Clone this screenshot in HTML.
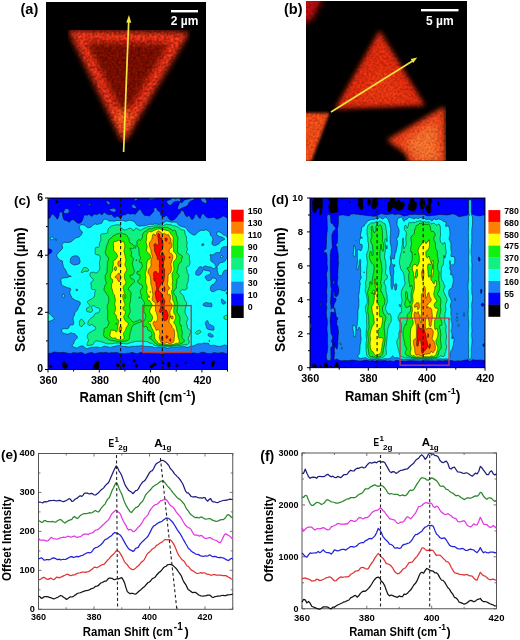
<!DOCTYPE html>
<html><head><meta charset="utf-8"><title>Raman mapping figure</title>
<style>html,body{margin:0;padding:0;background:#fff;width:520px;height:640px;overflow:hidden}svg{display:block}</style>
</head><body>
<svg width="520" height="640" viewBox="0 0 520 640">
<defs>
<filter id="blur2" x="-20%" y="-20%" width="140%" height="140%"><feGaussianBlur stdDeviation="1.6"/></filter>
<filter id="blur4" x="-30%" y="-30%" width="160%" height="160%"><feGaussianBlur stdDeviation="4"/></filter>
<filter id="blur25" x="-20%" y="-20%" width="140%" height="140%"><feGaussianBlur stdDeviation="2.4"/></filter>
<filter id="blur3" x="-30%" y="-30%" width="160%" height="160%"><feGaussianBlur stdDeviation="3.2"/></filter>
<filter id="speck" x="0" y="0" width="100%" height="100%" color-interpolation-filters="sRGB"><feTurbulence type="fractalNoise" baseFrequency="0.42" numOctaves="1" seed="4" result="t"/><feColorMatrix in="t" type="matrix" values="1 0 0 0 0  1 0 0 0 0  1 0 0 0 0  0 0 0 0 1" result="g"/><feComposite in="SourceGraphic" in2="g" operator="arithmetic" k1="1.1" k2="0.45" k3="0" k4="0"/></filter>
<filter id="speck2" x="0" y="0" width="100%" height="100%" color-interpolation-filters="sRGB"><feTurbulence type="fractalNoise" baseFrequency="0.45" numOctaves="1" seed="7" result="t"/><feColorMatrix in="t" type="matrix" values="1 0 0 0 0  1 0 0 0 0  1 0 0 0 0  0 0 0 0 1" result="g"/><feComposite in="SourceGraphic" in2="g" operator="arithmetic" k1="0.7" k2="0.65" k3="0" k4="0"/></filter>
</defs>
<rect width="520" height="640" fill="#fff"/>
<g id="pa">
<rect x="46" y="2" width="160" height="159" fill="#000"/>
<clipPath id="cpa"><rect x="46" y="2" width="160" height="159"/></clipPath>
<g clip-path="url(#cpa)">
<g filter="url(#speck)">
<polygon points="68,30 189.5,32 123.5,143" fill="#e03218" filter="url(#blur3)"/>
<polygon points="85.9,41.8 169.8,43.2 124.4,119.1" fill="#740a06" filter="url(#blur3)"/>
<polygon points="115,110 133,110 124,137" fill="#f86a22" opacity="0.8" filter="url(#blur4)"/>
</g>
</g>
<line x1="123.6" y1="152" x2="128.7" y2="21" stroke="#f4e43e" stroke-width="1.7"/>
<polygon points="128.95,15 126.3,22.5 131.3,22.7" fill="#f4e43e"/>
<rect x="171" y="10" width="27" height="2.4" fill="#fff"/>
<text x="184.6" y="24.8" font-family="Liberation Sans, Arial, sans-serif" font-weight="bold" font-size="12" fill="#fff" text-anchor="middle">2 µm</text>
</g>
<g id="pb">
<rect x="306" y="1" width="161" height="160" fill="#000"/>
<clipPath id="cpb"><rect x="306" y="1" width="160.5" height="159.8"/></clipPath>
<g clip-path="url(#cpb)">
<g filter="url(#speck2)">
<polygon points="300,-5 324,-5 312,20 300,24" fill="#b41008" filter="url(#blur3)"/>
<polygon points="379.6,30.4 335,108.9 425,105.5" fill="#d82a0e" filter="url(#blur25)"/>
<polygon points="380,66 356,102 410,100" fill="#ec4414" opacity="0.4" filter="url(#blur4)"/>
<polygon points="300,113 329.4,112.9 310,165 300,165" fill="#e84a18" filter="url(#blur2)"/>
<polygon points="441.4,108 386.9,140 406,153.8 409.4,165 446,165 445,108" fill="#e23a14" filter="url(#blur25)"/>
<polygon points="436,120 404,142 418,162 440,162" fill="#f27a30" opacity="0.8" filter="url(#blur4)"/>
</g>
</g>
<line x1="331" y1="112" x2="412.5" y2="61" stroke="#f4e43e" stroke-width="1.6"/>
<polygon points="417.2,57.6 410.6,58.9 413.2,63.1" fill="#f4e43e"/>
<rect x="421" y="9" width="37.5" height="2.4" fill="#fff"/>
<text x="439.8" y="24.6" font-family="Liberation Sans, Arial, sans-serif" font-weight="bold" font-size="12" fill="#fff" text-anchor="middle">5 µm</text>
</g>
<text x="20.5" y="14.2" font-family="Liberation Sans, Arial, sans-serif" font-weight="bold" font-size="14.5" fill="#000">(a)</text>
<text x="284" y="13.8" font-family="Liberation Sans, Arial, sans-serif" font-weight="bold" font-size="14.5" fill="#000">(b)</text>
<g id="pc">
<clipPath id="cpc"><rect x="48.0" y="198.0" width="179.5" height="171.5"/></clipPath>
<g clip-path="url(#cpc)">
<rect x="48.0" y="198.0" width="179.5" height="171.5" fill="#000000"/>
<path d="M49.0 198.0L50.0 198.0L51.0 198.0L52.0 198.0L53.0 198.0L54.0 198.0L55.0 198.0L56.0 198.0L57.0 198.0L58.0 198.0L59.0 198.0L60.0 198.0L61.0 198.0L62.0 198.0L63.0 198.0L64.0 198.0L65.0 198.0L66.1 198.0L67.1 198.0L68.1 198.0L69.1 198.0L70.1 198.0L71.1 198.0L72.1 198.0L73.1 198.0L74.1 198.0L75.1 198.0L76.1 198.0L77.1 198.0L78.1 198.0L79.1 198.0L80.1 198.0L81.1 198.0L82.1 198.0L83.1 198.0L84.1 198.0L85.1 198.0L86.1 198.0L87.1 198.0L88.1 198.0L89.1 198.0L90.1 198.0L91.1 198.0L92.1 198.0L93.1 198.0L94.1 198.0L95.1 198.0L96.1 198.0L97.1 198.0L98.1 198.0L99.1 198.0L100.1 198.0L101.1 198.0L102.2 198.0L103.2 198.0L104.2 198.0L105.2 198.0L106.2 198.0L107.2 198.0L108.2 198.0L109.2 198.0L110.2 198.0L111.2 198.0L112.2 198.0L113.2 198.0L114.2 198.0L115.2 198.0L116.2 198.0L117.2 198.0L118.2 198.0L119.2 198.0L120.2 198.0L121.2 198.0L122.2 198.0L123.2 198.0L124.2 198.0L125.2 198.0L126.2 198.0L127.2 198.0L128.2 198.0L129.2 198.0L130.2 198.0L131.2 198.0L132.2 198.0L133.2 198.0L134.2 198.0L135.2 198.0L136.2 198.0L137.2 198.0L138.3 198.0L139.3 198.0L140.3 198.0L141.3 198.0L142.3 198.0L143.3 198.0L144.3 198.0L145.3 198.0L146.3 198.0L147.3 198.0L148.3 198.0L149.3 198.0L150.3 198.0L151.3 198.0L152.3 198.0L153.3 198.0L154.3 198.0L155.3 198.0L156.3 198.0L157.3 198.0L158.3 198.0L159.3 198.0L160.3 198.0L161.3 198.0L162.3 198.0L163.3 198.0L164.3 198.0L165.3 198.0L166.3 198.0L167.3 198.0L168.3 198.0L169.3 198.0L170.3 198.0L171.3 198.0L172.3 198.0L173.3 198.0L174.4 198.0L175.4 198.0L176.4 198.0L177.4 198.0L178.4 198.0L179.4 198.0L180.4 198.0L181.4 198.0L182.4 198.0L183.4 198.0L184.4 198.0L185.4 198.0L186.4 198.0L187.4 198.0L188.4 198.0L189.4 198.0L190.4 198.0L191.4 198.0L192.4 198.0L193.4 198.0L194.4 198.0L195.4 198.0L196.4 198.0L197.4 198.0L198.4 198.0L199.4 198.0L200.4 198.0L201.4 198.0L202.4 198.0L203.4 198.0L204.4 198.0L205.4 198.0L206.4 198.0L207.4 198.0L208.4 198.0L209.4 198.0L210.5 198.0L211.5 198.0L212.5 198.0L213.5 198.0L214.5 198.0L215.5 198.0L216.5 198.0L217.5 198.0L218.5 198.0L219.5 198.0L220.5 198.0L221.5 198.0L222.5 198.0L223.5 198.0L224.5 198.0L225.5 198.0L226.5 198.0L227.5 198.0L227.5 199.0L227.5 200.0L227.5 201.0L227.5 202.0L227.5 203.0L227.5 204.0L227.5 205.0L227.5 206.0L227.5 207.0L227.5 208.0L227.5 209.0L227.5 210.0L227.5 211.0L227.5 212.0L227.5 213.0L227.5 214.0L227.5 215.0L227.5 216.1L227.5 217.1L227.5 218.1L227.5 219.1L227.5 220.1L227.5 221.1L227.5 222.1L227.5 223.1L227.5 224.1L227.5 225.1L227.5 226.1L227.5 227.1L227.5 228.1L227.5 229.1L227.5 230.1L227.5 231.1L227.5 232.1L227.5 233.1L227.5 234.1L227.5 235.1L227.5 236.1L227.5 237.1L227.5 238.1L227.5 239.1L227.5 240.1L227.5 241.1L227.5 242.1L227.5 243.1L227.5 244.1L227.5 245.1L227.5 246.1L227.5 247.1L227.5 248.1L227.5 249.1L227.5 250.2L227.5 251.2L227.5 252.2L227.5 253.2L227.5 254.2L227.5 255.2L227.5 256.2L227.5 257.2L227.5 258.2L227.5 259.2L227.5 260.2L227.5 261.2L227.5 262.2L227.5 263.2L227.5 264.2L227.5 265.2L227.5 266.2L227.5 267.2L227.5 268.2L227.5 269.2L227.5 270.2L227.5 271.2L227.5 272.2L227.5 273.2L227.5 274.2L227.5 275.2L227.5 276.2L227.5 277.2L227.5 278.2L227.5 279.2L227.5 280.2L227.5 281.2L227.5 282.2L227.5 283.2L227.5 284.3L227.5 285.3L227.5 286.3L227.5 287.3L227.5 288.3L227.5 289.3L227.5 290.3L227.5 291.3L227.5 292.3L227.5 293.3L227.5 294.3L227.5 295.3L227.5 296.3L227.5 297.3L227.5 298.3L227.5 299.3L227.5 300.3L227.5 301.3L227.5 302.3L227.5 303.3L227.5 304.3L227.5 305.3L227.5 306.3L227.5 307.3L227.5 308.3L227.5 309.3L227.5 310.3L227.5 311.3L227.5 312.3L227.5 313.3L227.5 314.3L227.5 315.3L227.5 316.3L227.5 317.3L227.5 318.4L227.5 319.4L227.5 320.4L227.5 321.4L227.5 322.4L227.5 323.4L227.5 324.4L227.5 325.4L227.5 326.4L227.5 327.4L227.5 328.4L227.5 329.4L227.5 330.4L227.5 331.4L227.5 332.4L227.5 333.4L227.5 334.4L227.5 335.4L227.5 336.4L227.5 337.4L227.5 338.4L227.5 339.4L227.5 340.4L227.5 341.4L227.5 342.4L227.5 343.4L227.5 344.4L227.5 345.4L227.5 346.4L227.5 347.4L227.5 348.4L227.5 349.4L227.5 350.4L227.5 351.4L227.5 352.5L227.5 353.5L227.5 354.5L227.5 355.5L227.5 356.5L227.5 357.5L227.5 358.5L227.5 359.5L227.5 360.5L227.5 361.5L227.5 362.5L227.5 363.5L227.5 364.5L227.5 365.5L227.5 366.5L227.5 367.5L227.5 368.5L227.5 369.5L226.5 369.5L225.5 369.5L224.5 369.5L223.5 369.5L222.5 369.5L221.5 369.5L220.5 369.5L219.5 369.5L218.5 369.5L217.5 369.5L216.5 369.5L215.5 369.5L214.5 369.5L213.5 369.5L212.5 369.5L211.5 369.5L210.5 369.5L209.4 369.5L208.4 369.5L207.4 369.5L206.4 369.5L205.4 369.5L204.4 369.5L203.4 369.5L202.4 369.5L201.4 369.5L200.4 369.5L199.4 369.5L198.4 369.5L197.4 369.5L196.4 369.5L195.4 369.5L194.4 369.5L193.4 369.5L192.4 369.5L191.4 369.5L190.4 369.5L189.4 369.5L188.4 369.5L187.4 369.5L186.4 369.5L185.4 369.5L184.4 369.5L183.4 369.5L182.4 369.5L181.4 369.5L180.4 369.5L179.4 369.5L178.4 369.5L177.4 369.5L176.4 369.5L175.4 369.5L174.4 369.5L173.3 369.5L172.3 369.5L171.3 369.5L170.3 369.5L169.3 369.5L168.3 369.5L167.3 369.5L166.3 369.5L165.3 369.5L164.3 369.5L163.3 369.5L162.3 369.5L161.3 369.5L160.3 369.5L159.3 369.5L158.3 369.5L157.3 369.5L156.3 369.5L155.3 369.5L154.3 369.5L153.3 369.5L152.3 369.5L151.3 369.5L150.3 369.5L149.3 369.5L148.3 369.5L147.3 369.5L146.3 369.5L145.3 369.5L144.3 369.5L143.3 369.5L142.3 369.5L141.3 369.5L140.3 369.5L139.3 369.5L138.3 369.5L137.2 369.5L136.2 369.5L135.2 369.5L134.2 369.5L133.2 369.5L132.2 369.5L131.2 369.5L130.2 369.5L129.2 369.5L128.2 369.5L127.2 369.5L126.2 369.5L125.2 369.5L124.2 369.5L123.2 369.5L122.2 369.5L121.2 369.5L120.2 369.5L119.2 369.5L118.2 369.5L117.2 369.5L116.2 369.5L115.2 369.5L114.2 369.5L113.2 369.5L112.2 369.5L111.2 369.5L110.2 369.5L109.2 369.5L108.2 369.5L107.2 369.5L106.2 369.5L105.2 369.5L104.2 369.5L103.2 369.5L102.2 369.5L101.1 369.5L100.1 369.5L99.1 369.5L98.1 369.5L97.1 369.5L96.1 369.5L95.1 369.5L94.1 369.5L93.1 369.5L92.1 369.5L91.1 369.5L90.1 369.5L89.1 369.5L88.1 369.5L87.1 369.5L86.1 369.5L85.1 369.5L84.1 369.5L83.1 369.5L82.1 369.5L81.1 369.5L80.1 369.5L79.1 369.5L78.1 369.5L77.1 369.5L76.1 369.5L75.1 369.5L74.1 369.5L73.1 369.5L72.1 369.5L71.1 369.5L70.1 369.5L69.1 369.5L68.1 369.5L67.1 369.5L66.1 369.5L65.0 369.5L64.0 369.5L63.0 369.5L62.0 369.5L61.0 369.5L60.0 369.5L59.0 369.5L58.0 369.5L57.0 369.5L56.0 369.5L55.0 369.5L54.0 369.5L53.0 369.5L52.0 369.5L51.0 369.5L50.0 369.5L49.0 369.5L48.0 369.5L48.0 368.5L48.0 367.5L48.0 366.5L48.0 365.5L48.0 364.5L48.0 363.5L48.0 362.5L48.0 361.5L48.0 360.5L48.0 359.5L48.0 358.5L48.0 357.5L48.0 356.5L48.0 355.5L48.0 354.5L48.0 353.5L48.0 352.5L48.0 351.4L48.0 350.4L48.0 349.4L48.0 348.4L48.0 347.4L48.0 346.4L48.0 345.4L48.0 344.4L48.0 343.4L48.0 342.4L48.0 341.4L48.0 340.4L48.0 339.4L48.0 338.4L48.0 337.4L48.0 336.4L48.0 335.4L48.0 334.4L48.0 333.4L48.0 332.4L48.0 331.4L48.0 330.4L48.0 329.4L48.0 328.4L48.0 327.4L48.0 326.4L48.0 325.4L48.0 324.4L48.0 323.4L48.0 322.4L48.0 321.4L48.0 320.4L48.0 319.4L48.0 318.4L48.0 317.3L48.0 316.3L48.0 315.3L48.0 314.3L48.0 313.3L48.0 312.3L48.0 311.3L48.0 310.3L48.0 309.3L48.0 308.3L48.0 307.3L48.0 306.3L48.0 305.3L48.0 304.3L48.0 303.3L48.0 302.3L48.0 301.3L48.0 300.3L48.0 299.3L48.0 298.3L48.0 297.3L48.0 296.3L48.0 295.3L48.0 294.3L48.0 293.3L48.0 292.3L48.0 291.3L48.0 290.3L48.0 289.3L48.0 288.3L48.0 287.3L48.0 286.3L48.0 285.3L48.0 284.3L48.0 283.2L48.0 282.2L48.0 281.2L48.0 280.2L48.0 279.2L48.0 278.2L48.0 277.2L48.0 276.2L48.0 275.2L48.0 274.2L48.0 273.2L48.0 272.2L48.0 271.2L48.0 270.2L48.0 269.2L48.0 268.2L48.0 267.2L48.0 266.2L48.0 265.2L48.0 264.2L48.0 263.2L48.0 262.2L48.0 261.2L48.0 260.2L48.0 259.2L48.0 258.2L48.0 257.2L48.0 256.2L48.0 255.2L48.0 254.2L48.0 253.2L48.0 252.2L48.0 251.2L48.0 250.2L48.0 249.1L48.0 248.1L48.0 247.1L48.0 246.1L48.0 245.1L48.0 244.1L48.0 243.1L48.0 242.1L48.0 241.1L48.0 240.1L48.0 239.1L48.0 238.1L48.0 237.1L48.0 236.1L48.0 235.1L48.0 234.1L48.0 233.1L48.0 232.1L48.0 231.1L48.0 230.1L48.0 229.1L48.0 228.1L48.0 227.1L48.0 226.1L48.0 225.1L48.0 224.1L48.0 223.1L48.0 222.1L48.0 221.1L48.0 220.1L48.0 219.1L48.0 218.1L48.0 217.1L48.0 216.1L48.0 215.0L48.0 214.0L48.0 213.0L48.0 212.0L48.0 211.0L48.0 210.0L48.0 209.0L48.0 208.0L48.0 207.0L48.0 206.0L48.0 205.0L48.0 204.0L48.0 203.0L48.0 202.0L48.0 201.0L48.0 200.0L48.0 199.0L48.0 198.0ZM55.7 201.0L55.5 202.0L56.0 202.6L56.9 203.0L57.0 203.0L57.2 203.0L58.0 202.7L58.6 202.0L58.0 201.2L57.8 201.0L57.0 200.7L56.0 200.8ZM84.0 201.0L84.1 201.1L84.2 201.0L84.1 200.9ZM100.9 201.0L101.1 201.2L101.4 201.0L101.1 200.6ZM134.0 359.5L133.2 360.1L133.0 360.5L133.2 361.5L133.2 361.5L134.2 362.3L135.2 361.6L135.3 361.5L135.4 360.5L135.2 360.2L134.5 359.5L134.2 359.4ZM96.2 361.5L96.1 361.6L95.5 362.5L95.1 363.1L94.9 363.5L94.1 364.4L94.0 364.5L93.4 365.5L93.2 366.5L93.4 367.5L94.1 368.4L94.4 368.5L95.1 368.9L96.1 369.1L97.1 369.2L98.1 368.9L98.5 368.5L99.0 367.5L98.9 366.5L98.7 365.5L98.8 364.5L99.1 363.5L99.1 362.7L99.2 362.5L99.1 362.4L98.8 361.5L98.1 360.8L97.1 360.8ZM202.7 361.5L202.4 362.0L202.3 362.5L202.4 363.1L202.6 363.5L203.4 364.1L204.3 363.5L204.4 363.2L204.7 362.5L204.4 361.5L204.4 361.5L203.4 360.8ZM212.3 361.5L211.8 362.5L211.5 363.5L211.5 363.5L211.2 364.5L211.1 365.5L211.4 366.5L211.5 366.5L212.5 366.9L213.0 366.5L213.5 365.9L213.7 365.5L214.0 364.5L214.4 363.5L214.5 363.1L214.6 362.5L214.5 361.5L214.5 361.4L213.5 360.7L212.5 361.3ZM62.7 362.5L62.5 363.5L62.5 364.5L62.5 365.5L62.7 366.5L63.0 367.5L63.0 367.7L64.0 368.4L65.0 368.4L66.1 368.2L67.1 367.5L67.1 367.5L67.7 366.5L67.7 365.5L67.1 364.5L67.0 364.5L66.1 363.8L65.6 363.5L65.0 362.7L64.9 362.5L64.0 361.7L63.0 362.0ZM163.0 362.5L162.5 363.5L163.3 364.5L163.3 364.5L163.3 364.5L164.2 363.5L163.7 362.5L163.3 362.2ZM167.4 362.5L167.3 362.6L166.9 363.5L167.0 364.5L167.3 365.5L167.3 365.5L167.8 366.5L168.3 367.1L169.3 367.3L170.0 366.5L170.2 365.5L170.3 364.5L170.1 363.5L169.6 362.5L169.3 362.3L168.3 362.0ZM185.0 362.5L185.0 363.5L185.4 364.1L186.2 363.5L186.4 362.8L186.4 362.5L186.4 362.4L185.4 362.0ZM153.1 363.5L152.3 364.4L151.9 364.5L151.3 364.6L150.3 365.4L150.2 365.5L149.8 366.5L150.0 367.5L150.3 367.9L151.3 368.4L152.3 367.7L152.4 367.5L152.9 366.5L153.3 366.0L154.3 366.0L155.3 365.8L155.7 365.5L156.2 364.5L155.8 363.5L155.3 363.0L154.3 362.9L153.3 363.4ZM116.3 364.5L116.3 365.5L116.9 366.5L117.2 366.7L118.2 367.0L119.0 366.5L119.2 366.2L119.4 365.5L119.2 364.8L119.1 364.5L118.2 363.7L117.2 363.6ZM122.4 364.5L122.2 365.5L122.6 366.5L123.2 367.0L124.2 366.9L124.5 366.5L124.8 365.5L124.7 364.5L124.2 363.6L123.2 363.5ZM135.6 364.5L135.2 364.7L134.9 365.5L135.1 366.5L135.2 366.6L136.2 367.2L137.2 366.9L137.5 366.5L137.6 365.5L137.2 364.8L136.8 364.5L136.2 364.2ZM176.3 364.5L175.9 365.5L176.2 366.5L176.4 366.7L177.4 367.0L177.8 366.5L178.1 365.5L177.7 364.5L177.4 364.2L176.4 364.4ZM49.9 365.5L49.7 366.5L50.0 367.3L50.3 367.5L51.0 367.8L51.3 367.5L51.8 366.5L51.6 365.5L51.0 364.9L50.0 365.3Z" fill="#0000ff" fill-rule="evenodd" stroke="#000" stroke-width="0.55" stroke-opacity="0.85"/>
<path d="M49.0 198.0L49.3 198.0L49.9 199.0L49.9 200.0L49.0 200.3L48.0 200.3L48.0 200.0L48.0 199.0L48.0 198.0ZM117.2 198.9L117.5 199.0L117.2 199.4L116.8 199.0ZM135.2 198.4L136.2 198.5L137.2 198.9L137.4 199.0L137.6 200.0L137.2 200.1L136.2 200.5L135.2 200.7L134.2 200.0L134.2 200.0L134.2 199.9L134.5 199.0ZM149.3 198.0L150.3 198.0L151.3 198.0L152.3 198.0L153.3 198.0L154.3 198.0L155.3 198.0L156.1 198.0L155.3 198.7L154.4 199.0L154.3 199.0L153.3 199.2L152.3 199.4L151.3 199.6L150.3 199.7L149.3 199.2L149.1 199.0L149.1 198.0ZM171.3 199.0L171.7 198.0L172.3 198.0L173.3 198.0L174.4 198.0L175.4 198.0L176.4 198.0L177.4 198.0L178.4 198.0L179.4 198.0L179.9 198.0L180.3 199.0L180.4 199.4L180.6 200.0L180.5 201.0L180.4 201.9L179.4 201.8L178.4 201.3L177.4 201.2L176.4 201.4L175.4 201.6L174.4 202.0L174.2 202.0L173.3 202.5L172.7 203.0L172.3 203.8L172.2 204.0L171.4 205.0L171.3 205.0L170.3 205.2L169.3 205.1L169.1 205.0L168.3 204.5L167.9 204.0L167.3 203.2L167.2 203.0L166.7 202.0L166.9 201.0L167.3 200.6L168.3 200.3L169.3 200.1L169.6 200.0L170.3 199.8L171.3 199.0ZM189.4 198.9L190.4 198.4L190.8 198.0L191.4 198.0L192.4 198.0L193.4 198.0L194.4 198.0L195.3 198.0L194.4 198.8L194.2 199.0L193.4 200.0L193.4 200.0L192.4 200.5L191.4 200.8L191.1 201.0L190.4 201.3L189.6 202.0L189.4 202.2L188.7 203.0L188.4 203.8L188.3 204.0L188.1 205.0L187.4 205.6L186.9 206.0L186.4 206.3L185.4 206.7L184.5 207.0L184.4 207.1L183.4 207.4L182.4 207.8L181.9 208.0L181.4 208.4L180.4 208.9L180.1 209.0L179.4 209.5L178.4 209.9L177.8 209.0L177.6 208.0L177.6 207.0L178.1 206.0L178.4 205.6L178.7 205.0L179.1 204.0L179.4 203.1L179.4 203.0L180.4 202.0L181.4 202.6L182.4 202.4L182.6 202.0L183.4 201.0L183.4 201.0L184.4 200.1L184.5 200.0L185.4 199.7L186.4 199.4L187.4 199.2L188.4 199.1L188.8 199.0ZM201.4 198.0L202.4 198.0L203.4 198.0L204.4 198.0L204.6 198.0L205.4 198.8L205.6 199.0L206.4 200.0L206.4 200.1L206.8 201.0L206.8 202.0L206.5 203.0L206.4 203.0L205.4 203.5L204.4 203.1L204.3 203.0L203.4 202.4L202.8 202.0L202.4 201.8L201.4 201.0L201.4 201.0L200.8 200.0L200.7 199.0L201.3 198.0ZM211.5 198.0L212.5 198.0L213.5 198.0L213.8 198.0L213.6 199.0L213.5 199.1L212.5 199.4L211.5 199.1L211.3 199.0L211.0 198.0ZM225.5 199.0L226.5 198.1L226.7 198.0L227.5 198.0L227.5 199.0L227.5 200.0L227.5 200.2L226.5 200.1L226.2 200.0L225.5 199.1L225.5 199.0ZM106.2 200.9L107.2 200.7L107.7 201.0L108.2 201.2L109.2 201.9L109.4 202.0L110.2 203.0L110.0 204.0L109.2 204.6L108.2 204.7L107.6 204.0L107.2 203.4L106.9 203.0L106.2 202.0L106.2 201.7L106.0 201.0ZM89.1 203.8L89.9 204.0L90.1 204.2L90.7 205.0L90.1 205.5L89.1 205.5L88.4 205.0L88.5 204.0ZM78.1 204.5L79.1 204.1L80.1 204.6L80.3 205.0L80.1 205.2L79.1 206.0L78.1 205.6L77.7 205.0ZM132.2 204.9L133.2 204.2L134.2 204.5L134.6 205.0L135.2 205.8L135.4 206.0L136.2 207.0L136.3 207.0L136.7 208.0L136.2 208.4L135.2 208.6L134.2 208.4L133.2 208.1L133.1 208.0L132.2 207.5L131.6 207.0L131.5 206.0L132.2 205.0ZM225.5 207.0L226.4 207.0L225.5 207.1L225.4 207.0ZM154.3 208.0L155.3 207.5L156.3 207.7L156.5 208.0L157.0 209.0L157.3 209.8L157.4 210.0L158.2 211.0L158.3 211.1L159.3 211.6L160.0 212.0L160.3 212.6L160.7 213.0L160.5 214.0L160.8 215.0L161.3 215.6L161.8 216.1L162.3 216.6L163.3 217.0L164.3 216.7L165.3 216.1L165.3 216.0L166.3 215.4L167.2 216.1L167.3 216.1L167.8 217.1L168.3 217.8L168.4 218.1L169.3 219.1L169.3 219.2L170.3 220.1L170.3 220.1L171.3 220.4L172.3 220.3L173.1 220.1L173.3 219.9L174.4 219.3L174.7 219.1L175.4 218.6L175.9 218.1L176.4 217.6L176.8 217.1L177.4 216.1L177.4 216.0L178.1 215.0L178.4 214.8L179.1 214.0L179.4 213.8L180.0 213.0L180.4 212.5L180.6 212.0L181.0 211.0L181.4 210.6L182.4 210.4L183.4 210.9L183.5 211.0L184.0 212.0L184.4 212.9L184.4 213.0L184.8 214.0L185.2 215.0L185.4 215.3L186.0 216.1L186.4 216.5L187.4 216.5L188.0 216.1L188.4 215.8L189.4 215.6L189.7 216.1L190.2 217.1L190.4 217.3L190.8 218.1L191.4 219.1L191.4 219.2L192.4 219.5L192.9 219.1L193.4 218.5L193.8 218.1L194.2 217.1L194.4 216.4L194.5 216.1L195.0 215.0L195.4 214.4L196.4 214.0L196.4 214.0L196.4 214.0L197.4 215.0L197.4 215.1L197.9 216.1L198.4 216.9L198.6 217.1L199.3 218.1L199.4 218.2L200.4 218.3L200.5 218.1L200.8 217.1L201.0 216.1L201.4 215.2L201.5 215.0L202.2 214.0L202.4 213.9L203.4 213.7L203.8 214.0L204.4 214.7L204.7 215.0L205.3 216.1L205.4 216.2L206.4 217.1L206.4 217.1L207.4 217.6L208.4 217.9L209.4 217.9L210.5 217.7L211.5 217.6L212.5 217.4L213.5 217.2L214.5 217.5L215.0 218.1L215.5 218.3L216.5 219.0L217.2 219.1L217.5 219.1L217.5 219.1L218.5 218.6L219.5 218.1L219.7 218.1L220.5 217.8L221.5 217.1L221.5 217.1L222.5 216.3L223.5 216.1L224.5 216.4L225.5 216.9L225.8 217.1L226.5 217.7L227.0 218.1L227.5 218.4L227.5 219.1L227.5 220.1L227.5 221.1L227.5 222.1L227.5 223.1L227.5 224.1L227.5 225.1L227.5 226.1L227.5 227.1L227.5 228.1L227.5 229.1L227.5 230.1L227.5 231.1L227.5 232.1L227.5 233.1L227.5 234.1L227.5 235.1L227.5 236.1L227.5 237.1L227.5 238.1L227.5 239.1L227.5 240.1L227.5 241.1L227.5 242.1L227.5 243.1L227.5 244.1L227.5 245.1L227.5 246.1L227.5 247.1L227.5 248.1L227.5 249.1L227.5 250.2L227.5 251.2L227.5 252.2L227.5 253.2L227.5 254.2L227.5 255.2L227.5 256.2L227.5 257.2L227.5 258.2L227.5 259.2L227.5 260.2L227.5 261.2L227.5 262.2L227.5 263.2L227.5 264.2L227.5 265.2L227.5 266.2L227.5 267.2L227.5 268.2L227.5 269.2L227.5 270.2L227.5 271.2L227.5 272.2L227.5 273.2L227.5 274.2L227.5 275.2L227.5 276.2L227.5 277.2L227.5 278.2L227.5 279.2L227.5 280.2L227.5 281.2L227.5 282.2L227.5 283.2L227.5 284.3L227.5 285.3L227.5 286.3L227.5 287.3L227.5 288.3L227.5 289.3L227.5 290.3L227.5 291.3L227.5 292.3L227.5 293.3L227.5 294.3L227.5 295.3L227.5 296.3L227.5 297.3L227.5 298.3L227.5 299.3L227.5 300.3L227.5 301.3L227.5 302.3L227.5 303.3L227.5 304.3L227.5 305.3L227.5 306.3L227.5 307.3L227.5 308.3L227.5 309.3L227.5 310.3L227.5 311.3L227.5 312.3L227.5 313.3L227.5 314.3L227.5 315.3L227.5 316.3L227.5 317.3L227.5 318.4L227.5 319.4L227.5 320.4L227.5 321.4L227.5 322.4L227.5 323.4L227.5 324.4L227.5 325.4L227.5 326.4L227.5 327.4L227.5 328.4L227.5 329.4L227.5 330.4L227.5 331.4L227.5 332.4L227.5 333.4L227.5 334.4L227.5 335.4L227.5 336.4L227.5 337.4L227.5 338.4L227.5 339.4L227.5 340.4L227.5 341.4L227.5 342.4L227.5 343.4L227.5 344.4L227.5 345.4L227.5 346.4L227.5 347.4L227.5 348.4L227.5 349.4L227.5 350.4L227.5 351.4L227.5 352.5L227.5 353.5L227.5 353.8L226.5 353.8L225.6 353.5L225.5 353.4L224.5 353.0L223.5 352.8L222.5 352.7L221.5 352.6L220.5 352.7L219.5 352.9L218.5 353.0L217.5 353.1L216.5 352.9L215.5 352.7L214.5 352.6L213.5 352.7L212.5 353.1L211.5 353.4L211.2 353.5L210.5 353.6L209.4 353.6L208.4 353.6L207.5 353.5L207.4 353.4L206.4 353.2L205.4 352.8L204.4 352.5L204.3 352.5L203.4 352.3L202.4 352.2L201.4 352.4L201.3 352.5L200.4 352.8L199.4 353.2L198.7 353.5L198.4 353.6L197.4 353.6L196.9 353.5L196.4 353.3L195.4 353.1L194.4 352.9L193.4 352.9L192.4 353.0L191.4 353.2L190.4 353.3L189.4 353.1L188.4 352.8L187.4 352.7L186.4 352.8L185.4 352.8L184.4 352.8L183.4 352.7L182.4 352.6L181.4 352.8L180.4 353.1L179.4 353.4L178.5 353.5L178.4 353.5L178.3 353.5L177.4 353.3L176.4 353.1L175.4 352.9L174.4 352.8L173.3 352.8L172.3 352.7L171.3 352.8L170.3 352.7L169.3 352.6L168.3 352.5L167.3 352.5L166.3 352.7L165.3 353.1L164.3 353.4L164.0 353.5L163.3 353.6L162.3 353.8L161.3 353.9L160.3 353.8L159.3 353.6L158.6 353.5L158.3 353.4L157.3 353.3L156.3 353.2L155.3 353.3L154.3 353.3L153.3 353.2L152.3 353.2L151.3 353.2L150.3 353.2L149.3 353.2L148.3 353.0L147.3 353.0L146.3 353.2L145.3 353.3L144.3 353.2L143.3 353.0L142.3 352.6L141.6 352.5L141.3 352.3L140.6 352.5L140.3 352.5L139.3 352.9L138.3 353.3L137.8 353.5L137.2 353.6L136.2 353.6L135.8 353.5L135.2 353.3L134.2 353.0L133.2 352.7L132.2 352.5L131.2 352.6L130.2 352.9L129.2 353.2L128.2 353.3L127.2 353.3L126.2 353.4L126.1 353.5L125.2 353.7L124.2 353.8L123.2 353.7L122.2 353.6L121.2 353.6L120.2 353.6L119.7 353.5L119.2 353.4L118.2 352.9L117.2 352.5L116.2 352.5L115.2 352.6L114.2 352.7L113.2 352.7L112.2 352.7L111.2 352.7L110.2 352.8L109.2 353.0L108.2 353.0L107.2 352.7L106.4 352.5L106.2 352.4L105.2 352.3L104.8 352.5L104.2 352.6L103.2 352.7L102.2 352.7L101.1 352.6L100.1 352.6L99.1 352.7L98.1 352.9L97.1 353.1L96.1 353.3L95.5 353.5L95.1 353.6L94.1 353.5L94.0 353.5L93.1 353.1L92.1 352.6L91.1 352.5L90.1 352.7L89.1 353.0L88.1 353.2L87.2 353.5L87.1 353.5L86.1 354.0L85.1 354.3L84.1 353.9L83.6 353.5L83.1 353.1L82.1 352.7L81.1 352.6L80.1 352.7L79.1 352.8L78.1 352.9L77.1 353.0L76.1 352.9L75.1 352.8L74.1 352.6L73.1 352.7L72.1 353.1L71.1 353.4L70.6 353.5L70.1 353.5L69.2 353.5L69.1 353.4L68.1 353.3L67.1 353.1L66.1 352.9L65.0 352.6L64.3 352.5L64.0 352.3L63.0 352.3L62.5 352.5L62.0 352.5L61.0 352.7L60.0 352.5L59.4 352.5L59.0 352.4L58.0 352.4L57.0 352.4L56.0 352.3L55.0 352.0L54.0 351.9L53.0 352.3L52.8 352.5L52.0 352.9L51.0 353.2L50.0 353.2L49.0 353.3L48.3 353.5L48.0 353.5L48.0 353.5L48.0 352.5L48.0 351.4L48.0 350.4L48.0 349.4L48.0 348.4L48.0 347.4L48.0 346.4L48.0 345.4L48.0 344.4L48.0 343.4L48.0 342.4L48.0 341.4L48.0 340.4L48.0 339.4L48.0 338.4L48.0 337.4L48.0 336.4L48.0 335.4L48.0 334.4L48.0 333.4L48.0 332.4L48.0 331.4L48.0 330.4L48.0 329.4L48.0 328.4L48.0 327.4L48.0 326.4L48.0 325.4L48.0 324.4L48.0 323.4L48.0 322.4L48.0 321.4L48.0 320.4L48.0 319.4L48.0 318.4L48.0 317.3L48.0 316.3L48.0 315.3L48.0 314.3L48.0 313.3L48.0 312.3L48.0 311.3L48.0 310.3L48.0 309.3L48.0 308.3L48.0 307.3L48.0 306.3L48.0 305.3L48.0 304.3L48.0 303.3L48.0 302.3L48.0 301.3L48.0 300.3L48.0 299.3L48.0 298.3L48.0 297.3L48.0 296.3L48.0 295.3L48.0 294.3L48.0 293.3L48.0 292.3L48.0 291.3L48.0 290.3L48.0 289.3L48.0 288.3L48.0 287.3L48.0 286.3L48.0 285.3L48.0 284.3L48.0 283.2L48.0 282.2L48.0 281.2L48.0 280.2L48.0 279.2L48.0 278.2L48.0 277.2L48.0 276.2L48.0 275.2L48.0 274.2L48.0 273.2L48.0 272.2L48.0 271.2L48.0 270.2L48.0 269.2L48.0 268.2L48.0 267.2L48.0 266.2L48.0 265.2L48.0 264.2L48.0 263.2L48.0 262.2L48.0 261.2L48.0 260.2L48.0 259.2L48.0 258.2L48.0 257.2L48.0 256.2L48.0 255.2L48.0 254.7L49.0 254.2L49.0 254.2L50.0 253.6L50.7 253.2L51.0 252.9L51.5 252.2L51.9 251.2L51.8 250.2L51.0 249.6L50.0 249.2L49.8 249.1L49.0 249.0L48.0 248.8L48.0 248.1L48.0 247.1L48.0 246.1L48.0 245.1L48.0 244.1L48.0 243.1L48.0 242.1L48.0 241.1L48.0 240.1L48.0 239.1L48.0 238.1L48.0 237.1L48.0 236.1L48.0 235.1L48.0 234.1L48.0 233.1L48.0 232.1L48.0 231.1L48.0 230.1L48.0 229.1L48.0 228.1L48.0 227.1L48.0 226.1L48.0 225.1L48.0 224.1L48.0 223.1L48.0 222.1L48.0 221.1L48.0 220.1L48.0 219.1L48.0 218.7L49.0 218.6L49.7 218.1L50.0 217.8L50.5 217.1L50.9 216.1L51.0 215.8L51.4 215.0L51.9 214.0L52.0 213.8L52.4 214.0L53.0 214.3L53.6 215.0L54.0 215.3L54.9 216.1L55.0 216.2L55.8 217.1L56.0 217.5L56.4 218.1L57.0 219.1L57.0 219.1L57.1 219.1L58.0 218.4L58.2 218.1L58.5 217.1L58.8 216.1L59.0 215.5L59.2 215.0L59.2 214.0L59.2 213.0L59.9 212.0L60.0 212.0L61.0 211.9L61.4 212.0L62.0 212.6L62.8 213.0L62.5 214.0L62.6 215.0L62.8 216.1L63.0 217.1L63.0 217.2L63.2 218.1L63.5 219.1L64.0 219.7L64.7 220.1L65.0 220.2L66.1 220.4L67.1 220.8L67.4 221.1L68.1 221.6L68.8 222.1L69.1 222.2L69.3 222.1L70.1 221.5L70.4 221.1L71.1 220.3L71.5 220.1L72.1 219.7L73.1 219.7L74.1 220.0L74.1 220.1L75.1 220.8L75.3 221.1L76.1 221.9L76.3 222.1L77.1 222.7L77.8 223.1L78.1 223.2L79.1 223.3L80.1 223.1L80.1 223.1L81.1 222.3L81.3 222.1L81.9 221.1L82.1 220.8L82.5 220.1L82.8 219.1L83.1 218.3L83.2 218.1L83.5 217.1L83.6 216.1L84.1 215.2L84.6 215.0L85.1 214.9L85.5 215.0L86.1 215.3L87.1 215.3L87.4 215.0L88.1 214.4L89.1 214.2L90.0 215.0L90.1 215.2L91.0 216.1L91.1 216.2L92.1 216.2L92.2 216.1L93.1 215.2L93.3 215.0L94.1 214.2L95.1 214.1L96.1 214.6L97.1 214.6L98.0 214.0L98.1 213.9L99.1 213.2L100.1 213.5L100.6 214.0L101.1 214.5L102.2 214.6L102.8 214.0L103.2 213.2L103.3 213.0L104.2 212.1L105.2 212.8L105.3 213.0L106.2 213.6L106.9 214.0L107.2 214.2L108.2 214.6L109.2 214.8L110.2 214.6L111.2 214.3L112.2 214.8L112.4 215.0L113.0 216.1L113.2 216.3L113.9 217.1L114.2 217.4L115.2 217.3L115.6 217.1L116.2 216.6L117.2 216.1L118.2 216.4L118.8 217.1L119.2 217.4L120.1 218.1L120.2 218.1L120.6 218.1L121.2 217.8L121.6 217.1L121.9 216.1L122.2 215.6L123.2 215.1L123.8 215.0L124.2 215.0L125.2 214.9L126.2 214.3L126.5 214.0L127.2 213.4L128.2 213.3L129.2 213.9L129.8 214.0L130.2 214.2L130.7 214.0L131.2 213.9L132.2 213.7L133.2 213.8L134.1 214.0L134.2 214.1L135.2 214.2L135.4 214.0L136.2 213.3L136.4 213.0L137.2 212.0L137.2 212.0L137.9 211.0L138.3 210.5L138.8 210.0L139.3 209.7L140.3 209.6L140.8 210.0L141.3 210.5L141.5 211.0L141.8 212.0L142.3 212.7L142.6 213.0L143.3 214.0L143.3 214.0L144.2 215.0L144.3 215.2L145.3 215.6L146.3 215.5L147.3 215.4L148.3 215.8L149.3 215.9L150.3 215.2L150.4 215.0L151.3 214.1L151.3 214.0L152.2 213.0L152.3 212.9L153.3 212.1L153.4 212.0L154.0 211.0L153.7 210.0L153.5 209.0L154.3 208.0ZM65.0 208.9L66.1 208.6L67.1 208.6L68.1 209.0L68.1 209.0L69.1 210.0L69.1 210.0L69.5 211.0L69.2 212.0L69.1 212.3L68.3 213.0L68.1 213.2L67.1 213.6L66.1 213.6L65.0 213.4L64.0 213.1L63.9 213.0L63.4 212.0L64.0 211.0L64.0 211.0L64.4 210.0L64.9 209.0ZM110.2 208.9L111.2 208.7L112.2 208.4L113.2 208.2L114.2 208.2L115.2 208.7L115.5 209.0L115.9 210.0L116.0 211.0L115.3 212.0L115.2 212.1L114.2 212.3L113.2 212.1L113.0 212.0L112.2 211.7L111.2 211.2L110.8 211.0L110.2 210.6L109.2 210.1L108.8 210.0L109.2 209.1L109.2 209.0Z" fill="#1a7ff5" fill-rule="evenodd" stroke="#000" stroke-width="0.55" stroke-opacity="0.85"/>
<path d="M175.4 198.4L176.2 199.0L175.4 199.4L174.9 199.0ZM104.2 219.4L105.2 219.2L106.2 219.3L107.2 219.9L107.4 220.1L108.2 220.6L109.0 221.1L109.2 221.1L110.2 221.1L110.9 221.1L111.2 221.0L112.2 221.0L112.3 221.1L113.2 221.2L114.2 221.2L114.5 221.1L115.2 220.9L116.2 220.5L117.2 220.5L118.2 220.5L119.2 220.4L120.2 220.5L121.2 220.5L122.2 220.4L123.2 220.4L124.2 220.9L124.6 221.1L125.2 221.3L126.2 221.3L126.8 221.1L127.2 220.9L128.2 220.5L129.2 220.3L130.2 220.3L131.2 220.5L132.2 220.9L132.6 221.1L133.2 221.3L134.2 221.7L134.9 222.1L135.2 222.7L135.4 223.1L135.9 224.1L136.2 224.5L136.9 225.1L137.2 225.3L138.3 225.9L139.1 226.1L139.3 226.1L139.9 226.1L140.3 226.1L141.3 225.9L142.3 225.8L143.3 225.8L144.3 225.7L145.3 225.6L146.3 225.3L147.3 225.1L147.3 225.1L148.3 224.8L149.3 224.4L150.3 224.3L151.3 224.4L152.3 224.5L153.3 224.4L154.3 224.1L154.7 224.1L155.3 224.0L155.9 224.1L156.3 224.1L157.3 224.3L158.3 224.4L159.3 224.4L160.3 224.3L161.3 224.2L162.0 224.1L162.3 224.0L163.3 223.2L163.5 223.1L164.3 222.4L164.8 222.1L165.3 221.7L166.3 221.2L167.3 221.2L168.3 221.5L169.3 221.8L170.3 222.0L170.6 222.1L171.3 222.2L172.3 222.2L173.3 222.1L173.3 222.1L174.4 222.1L174.4 222.1L175.4 222.3L176.4 222.6L177.1 223.1L177.4 223.4L177.8 224.1L178.4 224.9L178.5 225.1L179.4 225.6L180.2 226.1L180.4 226.1L181.4 226.5L182.4 226.8L183.4 227.0L183.9 227.1L184.4 227.2L185.4 227.6L185.9 228.1L186.4 228.6L186.8 229.1L187.4 230.1L187.4 230.1L188.1 231.1L188.4 231.5L189.1 232.1L189.4 232.4L190.4 233.1L190.4 233.1L191.4 233.9L191.7 234.1L192.4 234.6L193.4 235.0L194.4 235.1L195.4 234.8L196.3 234.1L196.4 234.0L197.1 233.1L197.4 232.7L198.1 232.1L198.4 231.8L199.4 231.2L199.7 231.1L200.4 230.6L201.4 230.3L202.4 230.4L203.4 230.4L204.4 230.3L205.1 230.1L205.4 230.0L206.4 230.0L206.7 230.1L207.4 230.4L208.4 231.1L208.4 231.1L209.4 231.9L209.7 232.1L210.2 233.1L210.2 234.1L210.4 235.1L210.5 235.1L211.2 236.1L211.5 236.3L212.1 237.1L212.5 237.7L212.6 238.1L212.8 239.1L212.7 240.1L212.5 240.9L212.4 241.1L212.0 242.1L211.8 243.1L212.1 244.1L212.5 244.6L213.0 245.1L213.5 245.4L214.5 245.6L215.5 245.4L216.2 245.1L216.5 245.0L217.5 244.7L218.5 244.2L218.6 244.1L219.5 243.1L219.5 243.1L220.2 242.1L220.5 241.8L221.2 241.1L221.5 240.9L222.5 240.4L223.4 240.1L223.5 240.0L224.5 239.4L225.0 239.1L224.5 238.8L223.7 238.1L223.5 238.0L222.5 237.3L222.1 237.1L221.5 236.9L220.5 236.7L219.5 236.3L218.8 236.1L218.5 236.0L217.5 235.5L217.1 235.1L216.8 234.1L216.8 233.1L217.3 232.1L217.5 232.0L218.5 231.8L219.5 232.1L219.5 232.1L220.5 232.6L221.3 233.1L221.5 233.2L222.5 234.1L222.5 234.1L223.5 234.9L224.3 235.1L224.5 235.2L225.5 235.6L226.5 236.1L226.5 236.1L226.9 237.1L227.5 238.1L227.5 238.1L227.5 239.1L227.5 240.1L227.5 241.1L227.5 242.1L227.5 243.1L227.5 244.1L227.5 245.1L227.5 246.1L227.5 246.4L226.5 246.5L225.5 246.7L224.5 246.7L223.5 246.8L222.5 247.1L222.5 247.1L221.5 248.1L221.5 248.1L221.1 249.1L220.8 250.2L220.6 251.2L220.5 251.6L220.0 252.2L219.5 252.6L218.5 252.6L217.5 252.5L216.5 252.6L215.5 253.1L215.3 253.2L214.5 253.8L213.9 254.2L213.5 254.6L212.5 254.9L211.5 254.7L210.5 254.4L210.0 255.2L210.4 256.2L210.5 256.5L210.7 257.2L210.7 258.2L210.6 259.2L210.7 260.2L211.1 261.2L211.5 261.5L212.4 262.2L212.5 262.2L213.5 262.8L213.9 263.2L214.5 263.8L214.8 264.2L215.3 265.2L215.5 265.8L215.9 266.2L216.0 267.2L215.5 267.4L214.6 268.2L214.5 268.2L213.5 268.5L212.5 268.2L212.4 268.2L211.5 267.2L211.4 267.2L210.5 266.9L209.4 266.9L208.4 266.8L207.4 266.5L206.7 266.2L206.4 266.1L205.4 266.0L204.6 266.2L204.4 266.3L203.4 266.9L202.7 267.2L202.4 267.4L202.2 267.2L201.4 267.0L200.4 266.6L199.4 266.9L199.1 267.2L198.4 268.1L198.4 268.2L197.7 269.2L197.4 269.5L196.9 270.2L196.4 270.8L196.1 271.2L195.8 272.2L195.6 273.2L195.7 274.2L196.4 275.0L197.2 275.2L197.4 275.3L198.4 275.3L198.9 275.2L199.4 275.1L200.4 274.5L200.8 274.2L201.4 273.4L201.5 273.2L202.1 272.2L202.4 271.6L202.7 271.2L203.1 270.2L203.4 269.7L204.4 270.0L204.9 270.2L205.4 270.4L206.4 270.6L207.4 270.7L208.4 270.9L209.4 271.2L209.7 271.2L210.5 271.7L210.7 272.2L210.5 273.2L210.5 273.3L209.8 274.2L209.4 274.5L208.4 274.9L207.4 275.2L207.3 275.2L206.4 275.6L205.5 276.2L205.4 276.3L205.1 277.2L205.4 277.9L205.6 278.2L206.2 279.2L206.4 279.6L207.1 280.2L207.4 280.6L208.4 280.7L209.4 280.6L210.5 280.3L210.6 280.2L211.5 279.2L211.5 279.2L212.1 278.2L212.5 278.1L213.5 278.1L214.3 278.2L214.5 278.3L215.5 278.7L216.4 279.2L216.4 280.2L215.9 281.2L215.5 281.8L215.2 282.2L214.6 283.2L214.5 283.4L213.5 284.2L213.4 284.3L212.5 284.6L211.5 285.3L211.5 285.3L210.9 286.3L210.5 287.3L210.5 287.5L210.3 288.3L210.2 289.3L210.5 290.0L210.6 290.3L211.4 291.3L211.5 291.3L212.5 291.7L213.5 291.7L214.5 291.3L214.6 291.3L215.5 290.7L216.3 290.3L216.5 290.1L217.5 289.8L218.5 289.6L219.5 289.6L220.5 289.8L221.5 290.2L221.7 290.3L222.5 290.5L223.5 290.8L224.5 291.0L225.5 290.7L225.9 290.3L226.4 289.3L226.5 289.1L227.5 288.7L227.5 289.3L227.5 290.3L227.5 291.1L227.3 291.3L226.5 291.9L226.3 292.3L226.1 293.3L226.5 293.9L227.3 294.3L227.5 294.3L227.5 295.3L227.5 296.3L227.5 297.3L227.5 298.3L227.5 299.3L227.5 300.3L227.5 301.3L227.5 302.3L227.5 303.3L227.5 304.3L227.5 305.3L227.5 306.3L227.5 306.9L227.4 307.3L227.5 308.3L227.5 308.4L227.5 309.3L227.5 310.3L227.5 311.3L227.5 312.3L227.5 313.3L227.5 314.3L227.5 315.3L227.5 316.3L227.5 317.3L227.5 318.4L227.5 319.4L227.5 320.4L227.5 321.4L227.5 322.4L227.5 323.4L227.5 324.4L227.5 325.4L227.5 326.4L227.5 327.4L227.5 328.4L227.5 329.4L227.5 330.4L227.5 331.4L227.5 332.4L227.5 333.4L227.5 334.4L227.5 335.4L227.5 336.4L227.5 337.4L227.5 338.4L227.5 339.4L227.5 340.4L227.5 341.4L227.5 342.4L227.5 343.4L227.5 344.4L227.5 345.4L227.5 345.9L226.5 345.6L226.1 345.4L225.5 345.1L224.5 345.0L223.5 345.2L222.9 345.4L222.5 345.6L221.5 346.0L220.5 346.4L219.5 346.4L218.5 346.3L217.5 346.1L216.5 346.0L215.5 345.6L214.8 345.4L214.5 345.3L213.5 345.2L212.5 345.3L211.7 345.4L211.5 345.5L210.5 345.5L210.3 345.4L209.4 344.7L209.2 344.4L208.6 343.4L208.4 343.0L207.4 343.2L206.4 343.3L205.4 343.1L204.4 342.9L203.4 343.1L202.7 343.4L202.4 343.5L201.4 343.8L200.4 343.7L199.4 343.7L198.4 343.7L197.4 344.0L196.5 344.4L196.4 344.4L195.4 344.9L194.6 345.4L194.4 345.5L193.4 345.8L192.4 346.0L191.4 346.2L190.4 346.4L190.3 346.4L189.4 346.7L188.4 347.1L187.4 347.3L186.4 347.1L185.4 346.8L184.4 346.6L183.4 346.6L182.4 346.7L181.4 346.8L180.4 346.7L179.4 346.7L178.4 346.9L177.4 347.2L176.4 347.3L175.4 347.4L174.4 347.4L173.3 347.4L172.3 347.4L171.7 347.4L171.3 347.5L170.3 347.7L169.3 347.9L168.3 348.0L167.3 348.1L166.3 347.9L165.3 347.6L164.9 347.4L164.3 347.4L163.3 347.3L162.3 347.3L161.3 347.3L160.3 347.3L159.3 347.3L158.3 347.3L157.3 347.3L156.3 347.4L155.7 347.4L155.3 347.5L154.3 347.4L154.3 347.4L153.3 347.1L152.3 346.7L151.3 346.6L150.3 346.6L149.3 346.6L148.3 346.5L147.5 346.4L147.3 346.4L146.3 346.4L145.3 346.4L144.3 346.3L143.3 346.2L142.3 345.8L141.3 345.6L140.3 345.8L139.3 346.0L138.3 346.1L137.2 346.0L136.2 346.1L135.2 346.3L134.2 346.4L133.2 346.3L132.2 346.3L131.3 346.4L131.2 346.4L130.2 346.7L129.2 346.9L128.2 346.9L127.2 346.8L126.2 346.6L125.2 346.5L124.3 346.4L124.2 346.4L123.2 346.4L122.2 346.3L121.2 346.0L120.2 345.6L119.7 345.4L119.2 345.3L118.2 345.2L117.6 345.4L117.2 345.6L116.2 346.1L115.2 346.3L114.3 346.4L114.2 346.4L113.2 346.6L112.2 346.9L111.2 347.2L110.2 347.4L109.2 347.2L108.2 346.9L107.2 346.7L106.4 346.4L106.2 346.4L105.2 346.2L104.2 346.2L103.3 346.4L103.2 346.5L102.2 347.1L101.3 347.4L101.1 347.5L100.1 347.5L99.2 347.4L99.1 347.4L98.1 347.2L97.1 347.0L96.1 347.0L95.1 347.1L94.1 347.2L93.1 347.3L92.1 347.3L91.1 347.4L90.9 347.4L90.1 347.6L89.1 347.9L88.1 348.3L87.7 348.4L87.1 348.7L86.2 348.4L86.1 348.4L85.1 347.7L84.8 347.4L84.1 346.8L83.6 346.4L83.1 346.0L82.1 345.8L81.1 346.0L80.1 346.4L79.9 346.4L79.1 346.8L78.1 347.3L77.9 347.4L77.1 348.0L76.1 347.9L75.1 347.5L74.9 347.4L74.1 347.1L73.1 346.8L72.3 346.4L72.2 345.4L72.9 344.4L73.1 344.2L73.7 343.4L74.1 342.5L74.1 342.4L74.3 341.4L74.8 340.4L75.1 340.0L75.8 339.4L76.1 339.2L76.9 338.4L77.1 338.0L77.4 337.4L77.3 336.4L77.1 336.2L76.1 335.4L76.1 335.4L75.3 334.4L75.1 334.0L74.1 333.5L73.1 333.6L72.6 333.4L72.1 333.1L71.1 332.7L70.1 333.1L69.6 333.4L69.1 333.7L68.1 334.1L67.1 334.2L66.1 333.9L65.0 333.6L64.0 333.4L64.0 333.4L63.0 333.1L62.3 332.4L62.0 331.9L61.8 331.4L61.6 330.4L61.9 329.4L62.0 329.2L63.0 328.7L64.0 328.5L65.0 328.6L66.1 328.8L67.1 328.8L68.1 328.5L68.3 328.4L69.0 327.4L69.1 327.1L69.4 326.4L69.9 325.4L70.1 325.1L71.1 325.0L72.1 325.1L73.1 324.9L73.4 324.4L73.7 323.4L73.8 322.4L73.7 321.4L73.4 320.4L73.1 319.4L73.1 318.4L73.3 317.3L73.8 316.3L74.1 315.9L74.3 315.3L74.7 314.3L74.8 313.3L75.1 312.6L75.2 312.3L76.1 311.4L76.2 311.3L77.1 310.4L77.1 310.3L77.7 309.3L78.1 308.4L78.1 308.3L78.5 307.3L79.0 306.3L79.1 306.1L79.7 305.3L80.1 304.5L80.2 304.3L80.3 303.3L80.2 302.3L80.1 302.2L79.1 301.5L78.7 301.3L78.1 301.1L77.1 300.8L76.1 300.5L75.7 300.3L75.1 300.0L74.1 299.4L74.0 299.3L73.1 298.7L72.4 298.3L72.1 297.8L71.6 297.3L71.2 296.3L71.1 295.9L70.7 295.3L70.3 294.3L70.1 293.6L70.0 293.3L69.8 292.3L70.0 291.3L70.1 291.1L70.5 290.3L70.8 289.3L70.2 288.3L70.1 288.2L69.1 288.0L68.1 287.8L67.1 287.5L66.3 287.3L66.1 287.1L65.0 286.7L64.0 286.3L63.9 286.3L63.0 285.8L62.4 285.3L62.0 284.8L61.6 284.3L61.2 283.2L61.2 282.2L61.1 281.2L61.0 280.9L60.9 280.2L61.0 279.2L61.0 279.2L62.0 278.2L62.0 278.2L63.0 277.9L64.0 277.8L65.0 277.7L66.1 277.6L67.1 277.6L68.1 277.4L68.4 277.2L69.1 276.7L70.1 276.5L71.1 276.5L71.2 276.2L71.1 276.0L70.1 275.9L69.1 275.5L68.8 275.2L68.1 274.8L67.6 274.2L67.1 273.2L67.1 273.1L66.7 272.2L66.2 271.2L66.1 270.8L65.7 270.2L65.2 269.2L65.0 268.9L64.4 268.2L64.0 267.7L63.6 267.2L63.3 266.2L63.2 265.2L63.0 264.6L62.9 264.2L62.6 263.2L62.5 262.2L62.6 261.2L62.0 260.7L61.0 260.6L60.1 260.2L60.0 260.2L59.0 259.2L59.0 259.2L58.2 258.2L58.0 258.0L57.3 257.2L57.0 256.6L56.8 256.2L56.7 255.2L57.0 254.6L57.2 254.2L58.0 253.3L58.1 253.2L59.0 252.2L59.0 252.1L59.8 251.2L60.0 250.9L60.9 250.2L61.0 250.0L62.0 249.2L62.1 249.1L62.6 248.1L62.6 247.1L62.2 246.1L62.0 245.6L62.0 245.1L62.0 244.9L62.3 244.1L63.0 243.1L63.0 243.1L64.0 242.5L65.0 242.2L66.1 242.4L67.1 242.5L68.1 242.5L69.1 242.3L70.1 242.2L70.4 242.1L71.1 241.9L72.0 241.1L72.1 241.1L73.0 240.1L73.1 240.0L74.1 239.2L74.2 239.1L75.1 238.4L75.6 238.1L76.1 237.8L77.1 237.6L78.1 237.4L78.7 237.1L79.1 236.9L80.1 236.2L80.2 236.1L81.1 235.1L81.1 235.1L81.8 234.1L82.1 233.4L82.3 233.1L82.3 232.1L82.1 231.8L81.6 231.1L81.1 230.7L80.4 230.1L80.1 229.6L79.8 229.1L79.5 228.1L79.3 227.1L79.4 226.1L80.1 225.5L80.7 225.1L81.1 224.9L82.1 224.8L83.1 224.9L83.9 225.1L84.1 225.1L85.1 225.6L85.7 226.1L86.1 226.4L87.0 227.1L87.1 227.3L88.1 227.7L89.1 227.7L90.1 227.4L90.6 227.1L91.1 226.9L92.1 226.1L92.1 226.1L93.1 225.1L93.1 225.1L94.1 224.3L94.9 224.1L95.1 224.0L95.6 224.1L96.1 224.2L97.1 224.6L98.1 224.3L98.5 224.1L99.1 223.8L100.1 223.8L101.1 223.6L101.8 223.1L102.2 222.6L102.4 222.1L102.8 221.1L103.2 220.1L103.2 220.1ZM201.9 244.1L201.6 245.1L202.4 245.9L203.4 245.5L203.8 245.1L204.0 244.1L203.4 243.8L202.4 243.8ZM73.3 256.2L73.1 256.3L72.1 256.7L71.4 257.2L71.1 257.6L70.8 258.2L70.5 259.2L70.3 260.2L70.2 261.2L70.2 262.2L70.8 263.2L71.1 263.5L72.1 264.1L72.3 264.2L73.1 264.6L74.1 265.0L75.1 265.0L76.1 264.7L77.1 264.4L78.1 264.3L78.3 264.2L79.1 263.8L79.7 263.2L80.0 262.2L80.1 261.2L79.9 260.2L79.6 259.2L79.3 258.2L79.1 257.6L78.8 257.2L78.1 256.4L77.7 256.2L77.1 255.9L76.1 255.7L75.1 255.8L74.1 256.0ZM76.0 289.3L76.0 290.3L76.1 290.4L77.1 291.1L77.6 290.3L77.3 289.3L77.1 289.0L76.1 289.2ZM221.4 299.3L221.4 300.3L221.5 301.0L221.5 301.3L221.6 302.3L222.0 303.3L222.5 303.9L223.5 304.2L224.5 303.8L225.4 303.3L225.5 303.0L225.9 302.3L225.5 302.1L224.7 301.3L224.5 301.1L223.6 300.3L223.5 300.2L222.6 299.3L222.5 299.2L221.5 299.2ZM204.1 303.3L203.4 303.8L203.1 304.3L203.2 305.3L203.4 305.5L204.4 306.0L205.4 306.3L205.5 306.3L206.4 306.6L207.4 306.6L208.4 306.4L209.4 306.6L210.5 307.0L211.5 307.0L211.8 306.3L212.0 305.3L211.9 304.3L211.5 303.3L211.5 303.2L210.5 303.0L209.4 303.0L208.4 302.9L207.4 302.7L206.4 302.5L205.4 302.6L204.4 303.0ZM206.2 321.4L205.4 322.4L205.4 322.4L205.3 323.4L205.4 324.1L205.6 324.4L206.0 325.4L206.2 326.4L206.4 327.4L206.4 327.6L206.8 328.4L207.4 329.1L208.3 329.4L208.4 329.4L209.4 329.7L210.5 329.9L211.5 330.0L212.5 330.2L213.5 330.3L214.0 329.4L214.1 328.4L214.0 327.4L213.6 326.4L213.5 326.2L212.5 325.6L211.9 325.4L211.5 325.2L210.5 324.8L209.6 324.4L209.4 324.2L208.7 323.4L208.4 322.6L208.4 322.4L208.0 321.4L207.4 320.4L206.4 320.9ZM209.1 333.4L208.4 333.7L208.1 334.4L208.1 335.4L208.4 335.9L209.3 336.4L209.4 336.5L210.5 337.0L211.5 337.3L212.5 337.1L213.4 336.4L213.1 335.4L212.5 334.9L211.8 334.4L211.5 334.1L210.5 333.5L210.1 333.4L209.4 333.2ZM209.2 340.4L209.0 341.4L209.4 341.5L209.5 341.4L209.6 340.4L209.4 340.3ZM52.0 237.0L52.8 237.1L53.0 237.3L53.6 238.1L53.6 239.1L53.0 239.4L52.0 239.7L51.0 239.7L50.3 239.1L50.3 238.1L51.0 237.5L51.6 237.1ZM56.0 239.0L56.5 239.1L57.0 240.0L57.0 240.1L57.0 240.1L56.0 240.4L55.3 240.1L55.5 239.1ZM221.5 255.4L222.5 255.9L222.8 256.2L222.8 257.2L222.5 257.4L221.5 257.7L220.5 257.6L220.4 257.2L220.5 256.6L220.6 256.2ZM227.5 257.9L227.5 258.2L227.5 259.2L227.5 260.2L227.5 261.2L227.5 262.2L227.5 263.2L227.5 264.2L227.5 265.2L227.5 266.2L227.5 267.2L227.5 268.2L227.5 269.2L227.5 270.0L226.5 270.1L225.5 270.2L225.3 270.2L224.5 270.5L223.6 271.2L223.5 271.4L223.0 272.2L222.8 273.2L222.5 274.2L222.5 274.3L221.7 275.2L221.5 275.4L220.5 275.6L219.5 275.4L219.3 275.2L218.5 274.5L218.3 274.2L217.9 273.2L217.8 272.2L217.5 271.2L217.4 271.2L217.0 270.2L217.3 269.2L217.5 268.7L217.6 268.2L217.5 268.0L216.8 267.2L217.0 266.2L217.5 266.0L218.1 265.2L218.5 264.8L218.8 264.2L219.5 263.3L219.6 263.2L220.5 262.7L221.5 262.5L222.5 262.3L222.8 262.2L223.5 262.0L224.5 261.5L224.9 261.2L225.5 260.5L225.7 260.2L226.1 259.2L226.5 258.6L226.9 258.2ZM63.0 294.1L64.0 294.3L64.1 294.3L64.5 295.3L64.5 296.3L64.6 297.3L64.0 297.9L63.0 297.5L63.0 297.3L62.7 296.3L62.4 295.3L62.8 294.3ZM49.0 313.3L49.1 313.3L50.0 314.1L50.2 314.3L51.0 315.3L51.0 315.4L52.0 316.3L52.0 316.3L53.0 317.1L53.3 317.3L54.0 318.3L54.1 318.4L54.0 319.4L54.0 319.4L53.0 319.8L52.0 320.2L51.7 320.4L51.0 320.7L50.0 321.2L49.0 321.3L48.0 321.2L48.0 320.4L48.0 319.4L48.0 318.4L48.0 317.3L48.0 316.3L48.0 315.3L48.0 314.3L48.0 313.3L48.0 313.0Z" fill="#12ffff" fill-rule="evenodd" stroke="#000" stroke-width="0.55" stroke-opacity="0.85"/>
<path d="M115.2 225.0L116.2 224.8L117.2 224.8L118.2 224.7L119.2 224.8L119.7 225.1L120.2 225.8L120.3 226.1L120.7 227.1L121.2 227.8L121.5 228.1L122.2 228.8L122.6 229.1L123.2 229.5L124.2 229.9L125.2 230.0L126.2 229.7L127.2 229.3L127.8 229.1L128.2 228.7L129.2 228.3L130.2 228.3L131.2 228.6L131.8 229.1L132.2 229.4L132.8 230.1L133.2 231.1L134.1 230.1L134.2 229.9L134.7 229.1L135.2 228.7L136.2 228.2L137.2 228.7L137.9 229.1L138.3 229.4L139.3 230.0L139.6 230.1L140.3 230.2L140.9 230.1L141.3 230.0L142.3 229.4L142.7 229.1L143.3 228.8L144.3 228.1L144.4 228.1L145.3 227.9L146.3 227.5L146.9 227.1L147.3 226.9L148.3 226.7L149.3 226.6L150.3 226.6L151.3 226.5L152.3 226.5L153.3 226.2L153.7 226.1L154.3 225.9L155.3 225.7L156.3 225.7L157.3 225.8L158.3 225.9L159.3 225.9L160.3 225.9L161.3 225.9L162.3 225.9L163.3 225.7L164.3 225.1L164.4 225.1L165.3 224.5L166.3 224.1L167.3 224.3L168.3 224.6L169.3 224.8L170.3 224.6L171.3 224.8L171.8 225.1L172.3 225.4L173.3 225.8L174.4 225.8L175.4 225.9L175.6 226.1L176.4 226.4L177.4 226.9L177.7 227.1L178.4 227.4L179.4 228.1L179.4 228.1L180.4 229.0L180.6 229.1L181.4 229.7L182.4 230.0L183.4 229.9L184.1 230.1L184.4 230.3L184.7 231.1L184.9 232.1L184.9 233.1L185.1 234.1L185.4 234.8L185.5 235.1L186.2 236.1L186.4 236.7L186.5 237.1L186.5 238.1L186.4 239.1L186.5 240.1L186.7 241.1L187.1 242.1L187.2 243.1L187.0 244.1L186.8 245.1L186.7 246.1L186.9 247.1L187.3 248.1L187.4 248.3L187.5 249.1L187.4 250.0L187.3 250.2L186.6 251.2L186.5 252.2L186.9 253.2L187.4 253.7L188.2 254.2L188.4 254.2L189.2 255.2L189.4 255.6L189.5 256.2L189.4 257.2L189.4 257.3L189.3 258.2L189.4 259.2L189.4 259.3L189.6 260.2L189.9 261.2L190.0 262.2L189.9 263.2L189.7 264.2L189.5 265.2L189.4 265.3L188.5 266.2L188.4 266.3L187.4 266.3L186.5 267.2L186.4 268.1L186.4 268.2L186.4 268.2L186.7 269.2L187.0 270.2L187.1 271.2L187.1 272.2L187.4 272.7L187.6 273.2L188.3 274.2L188.4 274.3L188.7 275.2L188.8 276.2L188.6 277.2L188.4 277.9L188.3 278.2L188.3 279.2L188.3 280.2L188.2 281.2L187.9 282.2L187.5 283.2L187.4 283.4L187.1 284.3L186.9 285.3L187.0 286.3L187.2 287.3L187.1 288.3L186.5 289.3L186.4 289.3L185.4 289.8L184.4 290.0L183.4 289.9L182.4 289.7L181.4 290.1L181.1 290.3L180.4 291.2L180.3 291.3L179.9 292.3L180.4 292.7L180.9 293.3L181.4 293.6L182.2 294.3L182.4 294.5L183.1 295.3L183.4 296.0L183.6 296.3L184.0 297.3L184.3 298.3L184.4 298.5L184.6 299.3L185.0 300.3L185.4 300.9L185.9 301.3L186.4 301.9L186.6 302.3L186.6 303.3L186.5 304.3L186.4 305.0L186.3 305.3L186.0 306.3L185.7 307.3L185.5 308.3L185.4 308.9L185.3 309.3L185.1 310.3L185.0 311.3L185.1 312.3L185.4 313.0L185.4 313.3L185.8 314.3L186.3 315.3L186.4 315.5L186.8 316.3L187.4 317.2L187.5 317.3L187.8 318.4L187.8 319.4L187.4 320.4L187.4 320.4L186.7 321.4L186.5 322.4L186.6 323.4L186.9 324.4L187.2 325.4L187.3 326.4L187.4 327.2L187.4 327.4L187.9 328.4L188.4 328.9L189.1 329.4L189.4 329.7L190.3 330.4L190.4 330.8L190.7 331.4L190.5 332.4L190.4 332.6L190.2 333.4L190.0 334.4L189.7 335.4L189.4 335.9L189.1 336.4L188.5 337.4L188.4 337.8L188.3 338.4L188.4 339.4L188.4 339.5L188.9 340.4L189.2 341.4L189.2 342.4L188.7 343.4L188.4 343.8L187.7 344.4L187.4 344.6L186.4 344.8L185.4 344.7L184.4 344.7L183.4 344.9L182.4 345.2L181.4 345.3L180.4 345.4L180.1 345.4L179.4 345.5L178.4 345.8L177.4 346.0L176.4 346.0L175.4 346.1L174.4 346.2L173.3 346.3L172.3 346.3L171.3 346.4L170.8 346.4L170.3 346.5L169.3 346.5L168.3 346.6L167.3 346.5L166.4 346.4L166.3 346.4L165.3 346.4L164.3 346.3L163.3 346.2L162.3 346.2L161.3 346.2L160.3 346.1L159.3 346.1L158.3 346.1L157.3 345.9L156.3 345.7L155.3 345.5L155.0 345.4L154.3 345.2L153.3 344.5L153.2 344.4L152.3 343.5L151.9 343.4L151.3 343.2L150.3 343.2L149.3 343.1L148.4 342.4L148.3 342.4L147.3 341.7L146.3 341.6L145.3 341.6L144.6 341.4L144.3 341.3L143.3 341.4L142.3 341.4L141.3 341.2L140.3 341.1L139.3 341.2L138.3 341.4L137.2 341.4L136.2 341.2L135.2 341.4L135.2 341.4L134.2 341.7L133.2 342.0L132.2 342.3L131.7 342.4L131.2 342.5L130.2 342.8L129.2 343.2L128.7 343.4L128.2 343.6L127.2 343.8L126.2 343.8L125.2 343.7L124.2 343.6L123.2 343.5L122.2 343.5L121.2 343.4L121.1 343.4L120.2 343.3L119.2 343.1L118.2 343.1L117.2 343.1L116.2 343.1L115.2 343.1L114.2 343.3L113.4 343.4L113.2 343.5L112.2 343.7L111.2 343.8L110.2 343.7L109.2 343.7L108.2 343.8L107.2 343.7L106.2 343.5L106.0 343.4L105.2 343.1L104.2 342.7L103.4 342.4L103.2 342.3L102.2 342.0L101.1 341.8L100.1 341.5L99.7 341.4L99.1 341.3L98.1 341.0L97.1 340.9L96.1 341.0L95.1 341.3L94.9 341.4L94.1 342.3L94.1 342.4L93.8 343.4L93.2 344.4L93.1 344.5L92.1 344.9L91.1 345.2L90.1 345.2L89.1 345.3L88.6 345.4L88.1 345.5L87.1 345.4L87.1 345.4L86.9 344.4L87.1 343.6L87.2 343.4L87.6 342.4L88.1 341.4L88.1 341.4L88.6 340.4L88.3 339.4L88.1 339.2L87.6 338.4L87.2 337.4L87.3 336.4L87.5 335.4L87.9 334.4L88.1 334.1L88.8 333.4L89.1 333.0L89.9 332.4L90.1 332.1L91.1 331.9L92.1 331.6L92.3 331.4L93.0 330.4L93.1 330.1L94.1 330.2L95.1 330.0L95.5 329.4L95.7 328.4L95.6 327.4L95.1 326.6L94.6 326.4L94.1 326.2L93.1 325.6L93.0 325.4L92.1 324.5L91.1 324.6L90.1 325.3L89.9 325.4L89.1 325.6L88.9 325.4L88.1 324.5L88.1 324.4L87.9 323.4L88.0 322.4L88.1 322.0L88.3 321.4L88.9 320.4L89.1 320.2L89.9 319.4L90.1 319.1L90.7 318.4L91.1 317.9L92.1 317.4L92.3 317.3L93.1 316.9L93.6 316.3L94.1 315.3L94.1 315.3L94.6 314.3L95.1 313.6L95.6 313.3L96.1 313.0L97.1 313.1L98.1 313.0L98.8 312.3L99.1 311.8L99.4 311.3L99.7 310.3L99.8 309.3L99.2 308.3L99.1 308.3L98.1 307.7L97.1 307.7L96.1 307.5L95.9 307.3L95.1 306.6L94.9 306.3L94.1 305.8L93.1 305.5L92.1 306.2L91.9 306.3L91.6 307.3L91.9 308.3L92.1 308.9L92.4 309.3L92.7 310.3L92.3 311.3L92.1 311.4L91.1 312.2L90.5 312.3L90.1 312.4L89.9 312.3L89.1 312.1L88.1 311.8L87.1 311.5L86.8 311.3L86.6 310.3L86.4 309.3L86.6 308.3L87.1 308.0L88.1 307.5L88.7 307.3L89.1 307.1L89.9 306.3L89.7 305.3L89.1 304.5L89.0 304.3L88.1 303.3L88.1 303.3L87.4 302.3L87.5 301.3L88.1 300.9L88.8 300.3L89.1 300.2L90.1 299.8L91.0 299.3L91.1 299.2L92.1 298.6L92.6 298.3L93.1 297.8L93.7 297.3L94.1 296.5L94.3 296.3L94.6 295.3L94.7 294.3L94.7 293.3L94.8 292.3L95.1 291.4L95.3 291.3L95.6 290.3L95.1 289.7L94.1 289.5L93.1 289.6L92.1 289.5L91.9 289.3L91.3 288.3L91.3 287.3L91.3 286.3L91.2 285.3L91.1 284.7L91.0 284.3L90.9 283.2L91.1 282.4L91.2 282.2L92.1 281.5L92.5 281.2L93.1 280.6L93.3 280.2L93.2 279.2L93.1 279.0L92.3 278.2L92.1 278.1L91.1 277.3L91.0 277.2L90.3 276.2L90.1 275.7L90.0 275.2L89.9 274.2L90.1 273.2L90.1 273.1L91.1 272.4L92.1 272.3L93.1 272.2L93.1 272.2L93.2 272.2L94.1 272.4L95.1 272.9L96.1 273.0L97.1 272.6L97.4 272.2L98.1 271.6L98.4 271.2L99.1 270.2L99.1 270.0L99.6 269.2L99.8 268.2L99.8 267.2L99.7 266.2L99.5 265.2L99.4 264.2L99.4 263.2L99.5 262.2L99.6 261.2L100.0 260.2L100.1 259.6L100.2 259.2L100.3 258.2L100.2 257.2L100.1 257.1L99.8 256.2L99.1 255.2L99.0 255.2L98.1 254.8L97.1 254.8L96.1 254.6L95.5 254.2L95.1 253.4L95.1 253.2L95.1 252.3L95.1 252.2L95.3 251.2L95.3 250.2L95.3 249.1L95.4 248.1L96.1 247.1L96.1 247.1L96.7 247.1L97.1 247.2L98.1 247.7L98.7 247.1L99.1 246.4L99.3 246.1L99.5 245.1L99.3 244.1L99.4 243.1L99.9 242.1L100.1 241.8L100.6 241.1L100.8 240.1L100.8 239.1L100.8 238.1L100.8 237.1L100.7 236.1L100.5 235.1L101.1 234.3L101.3 234.1L102.2 233.8L103.2 233.7L104.2 233.7L105.2 233.5L106.2 233.3L107.2 233.2L107.3 233.1L107.8 232.1L107.8 231.1L107.9 230.1L108.2 229.3L108.3 229.1L108.9 228.1L109.2 227.8L109.9 227.1L110.2 226.9L111.2 226.3L111.5 226.1L112.2 225.8L113.2 225.5L114.2 225.3L114.9 225.1ZM84.1 267.6L85.1 267.4L86.1 267.7L87.1 268.1L87.3 268.2L88.1 268.9L88.4 269.2L88.7 270.2L88.1 271.2L88.1 271.2L87.1 271.2L86.1 271.3L85.1 271.3L84.1 271.5L83.1 272.1L83.0 272.2L82.1 272.6L81.1 272.2L81.1 272.2L81.1 272.2L81.7 271.2L82.1 270.5L82.3 270.2L82.8 269.2L83.1 268.5L83.2 268.2ZM226.5 315.3L227.5 315.2L227.5 315.3L227.5 316.3L227.5 317.3L227.5 318.4L227.5 319.4L227.5 319.6L226.5 319.6L225.5 319.5L225.0 319.4L224.5 319.0L224.1 318.4L223.9 317.3L224.1 316.3L224.5 315.9L225.5 315.5L226.1 315.3ZM81.1 319.3L82.1 319.4L82.1 319.4L82.9 320.4L83.1 320.8L83.5 321.4L84.1 322.1L84.7 322.4L85.1 323.4L84.1 324.1L83.8 324.4L83.1 324.9L82.7 325.4L82.1 326.4L82.1 326.4L81.1 326.7L80.7 326.4L80.1 325.8L79.6 325.4L79.5 324.4L79.5 323.4L79.4 322.4L79.4 321.4L79.9 320.4L80.1 320.1L81.0 319.4ZM199.4 330.2L200.0 330.4L200.4 330.7L200.8 331.4L200.7 332.4L200.4 332.6L199.4 333.2L199.3 333.4L198.4 333.9L197.4 334.2L196.4 334.0L195.6 333.4L195.5 332.4L196.4 331.5L196.7 331.4L197.4 331.0L198.4 330.5L198.8 330.4Z" fill="#12f082" fill-rule="evenodd" stroke="#000" stroke-width="0.55" stroke-opacity="0.85"/>
<path d="M154.3 227.8L155.3 227.4L156.3 227.3L157.3 227.3L158.3 227.3L159.3 227.2L160.3 227.3L161.3 227.4L162.3 227.5L163.3 227.7L164.3 227.6L165.3 227.3L166.3 227.2L167.3 227.3L168.3 227.9L168.7 228.1L169.3 228.5L170.3 228.8L170.8 229.1L171.3 229.4L172.0 230.1L172.3 230.7L173.3 230.8L174.2 230.1L174.4 230.0L174.6 230.1L175.4 230.5L175.7 231.1L176.0 232.1L176.2 233.1L176.3 234.1L176.4 234.3L176.6 235.1L177.2 236.1L177.4 236.5L177.7 237.1L177.9 238.1L177.9 239.1L177.7 240.1L177.6 241.1L177.6 242.1L177.6 243.1L177.5 244.1L177.5 245.1L177.7 246.1L177.8 247.1L177.6 248.1L177.4 249.1L177.4 249.9L177.3 250.2L177.4 250.3L177.5 251.2L177.8 252.2L178.3 253.2L178.4 253.3L179.1 254.2L179.4 254.3L180.4 254.8L181.2 255.2L181.4 255.4L182.4 256.1L182.4 256.2L182.4 257.1L182.4 257.2L181.9 258.2L181.7 259.2L181.6 260.2L181.4 261.2L181.4 261.3L180.8 262.2L180.4 262.6L179.5 263.2L179.4 263.3L178.7 264.2L178.4 264.9L178.3 265.2L178.2 266.2L178.1 267.2L177.9 268.2L177.8 269.2L177.5 270.2L177.4 270.5L177.1 271.2L177.0 272.2L176.9 273.2L177.4 273.6L178.2 274.2L178.4 274.3L179.0 275.2L179.2 276.2L178.7 277.2L178.4 277.7L177.7 278.2L177.4 278.8L176.7 279.2L176.6 280.2L177.0 281.2L177.0 282.2L176.6 283.2L176.4 283.8L176.2 284.3L176.2 285.3L176.3 286.3L176.3 287.3L176.0 288.3L175.4 289.2L175.3 289.3L174.4 290.0L174.2 290.3L173.8 291.3L173.7 292.3L173.8 293.3L174.2 294.3L174.4 294.6L175.1 295.3L175.4 295.6L175.9 296.3L176.2 297.3L176.4 298.3L176.4 298.3L176.5 299.3L176.7 300.3L177.1 301.3L177.4 302.2L177.4 302.3L177.7 303.3L177.7 304.3L177.7 305.3L177.6 306.3L177.6 307.3L177.4 308.3L177.4 308.6L177.2 309.3L177.0 310.3L177.0 311.3L177.2 312.3L177.4 312.7L177.7 313.3L178.4 314.3L178.4 314.3L179.0 315.3L179.4 316.1L179.5 316.3L179.8 317.3L180.0 318.4L180.1 319.4L179.8 320.4L179.7 321.4L179.7 322.4L179.8 323.4L180.1 324.4L180.4 325.4L180.4 325.4L180.7 325.4L181.4 325.3L181.4 325.4L181.5 326.4L181.4 327.2L181.3 327.4L181.4 327.5L181.5 328.4L181.6 329.4L181.8 330.4L182.1 331.4L182.3 332.4L182.4 333.4L182.2 334.4L181.9 335.4L181.8 336.4L182.0 337.4L182.4 338.2L182.6 338.4L183.4 339.2L183.9 339.4L184.4 340.2L184.5 340.4L184.4 340.5L184.0 341.4L183.4 342.1L183.1 342.4L182.4 342.9L181.6 343.4L181.4 343.5L180.4 343.8L179.4 344.2L178.9 344.4L178.4 344.6L177.4 344.9L176.4 344.9L175.4 345.0L174.4 345.3L173.3 345.4L173.1 345.4L172.3 345.5L171.3 345.6L170.3 345.7L169.3 345.7L168.3 345.6L167.3 345.6L166.3 345.5L165.3 345.5L164.3 345.5L163.3 345.4L163.1 345.4L162.3 345.4L161.3 345.3L160.3 345.1L159.3 345.1L158.3 345.0L157.3 344.5L157.1 344.4L156.3 343.9L155.3 343.4L155.3 343.4L154.3 342.5L154.2 342.4L153.4 341.4L153.3 341.2L152.6 340.4L152.3 340.0L151.7 339.4L151.3 338.7L150.3 338.7L149.7 338.4L149.3 337.9L149.2 337.4L149.3 337.0L150.2 336.4L150.3 336.4L150.3 336.4L151.3 337.1L151.5 336.4L151.7 335.4L151.8 334.4L151.7 333.4L151.5 332.4L151.3 332.0L150.6 331.4L150.3 331.2L149.3 330.9L148.3 330.4L148.3 330.4L147.6 329.4L147.5 328.4L147.3 327.4L147.3 327.4L146.4 326.4L146.3 326.3L145.3 326.3L145.1 326.4L144.3 326.9L143.3 326.5L143.2 326.4L142.9 325.4L142.7 324.4L142.6 323.4L142.5 322.4L143.3 321.6L143.4 321.4L144.3 320.4L144.3 320.4L144.9 319.4L145.3 318.5L145.3 318.4L145.6 317.3L145.7 316.3L145.7 315.3L145.5 314.3L145.3 313.8L144.6 313.3L144.3 312.9L144.0 312.3L143.8 311.3L143.8 310.3L143.8 309.3L143.9 308.3L143.9 307.3L143.8 306.3L143.8 305.3L144.1 304.3L144.3 303.8L144.6 303.3L144.3 302.3L144.3 302.3L143.7 301.3L143.3 300.6L143.1 300.3L142.4 299.3L142.3 299.1L141.6 298.3L141.3 297.3L141.1 297.3L141.3 297.0L141.3 296.3L141.4 295.3L141.3 295.1L140.9 294.3L140.4 293.3L140.3 292.8L140.2 292.3L140.3 291.3L140.3 291.3L140.6 290.3L141.3 289.3L141.3 289.3L142.1 288.3L142.3 288.0L142.6 287.3L142.6 286.3L142.3 285.5L142.0 285.3L141.3 284.9L140.3 284.3L140.3 284.2L139.3 283.7L138.7 283.2L138.3 282.9L137.8 282.2L137.6 281.2L138.1 280.2L138.3 280.0L139.3 279.4L139.5 279.2L139.9 278.2L140.1 277.2L140.0 276.2L139.8 275.2L139.3 274.4L138.3 274.7L137.3 274.2L137.2 274.1L136.9 273.2L136.9 272.2L137.2 271.6L138.3 271.6L139.3 271.3L139.3 271.2L140.0 270.2L140.3 269.8L140.6 269.2L141.3 268.2L141.3 268.2L141.9 267.2L142.3 266.3L142.3 266.2L142.3 265.9L142.2 265.2L141.9 264.2L141.6 263.2L141.3 262.2L141.3 262.1L141.1 262.2L140.3 262.6L139.5 262.2L139.3 261.7L139.2 261.2L139.3 260.8L139.4 260.2L140.1 259.2L140.3 258.7L140.4 258.2L140.4 257.2L140.3 257.0L139.9 256.2L139.3 255.2L139.3 254.9L139.1 254.2L139.0 253.2L139.0 252.2L139.0 251.2L138.9 250.2L138.8 249.1L138.6 248.1L138.3 247.4L137.9 247.1L137.2 246.2L137.1 246.1L136.8 245.1L137.0 244.1L137.1 243.1L136.9 242.1L137.0 241.1L137.2 240.9L137.9 240.1L138.3 239.8L139.3 239.7L140.0 240.1L140.3 240.3L140.5 240.1L141.3 239.5L141.4 239.1L142.0 238.1L142.3 237.6L142.5 237.1L142.6 236.1L142.5 235.1L142.7 234.1L143.3 233.2L143.3 233.1L144.0 232.1L144.3 231.8L145.3 231.4L146.3 231.2L146.3 231.1L147.2 230.1L147.3 230.0L148.2 229.1L148.3 229.0L149.3 228.8L150.3 228.8L151.3 228.9L152.3 228.7L153.3 228.2L153.7 228.1ZM120.2 232.9L121.2 232.9L121.7 233.1L122.2 233.4L123.2 233.8L124.2 234.0L124.5 234.1L125.2 234.3L126.2 234.7L126.6 235.1L127.2 236.1L127.2 236.1L127.8 237.1L128.2 237.7L128.6 238.1L129.1 239.1L129.2 240.1L129.2 241.1L129.2 241.2L129.6 242.1L130.2 243.1L130.2 243.2L131.2 243.5L132.2 244.1L132.2 244.1L133.2 245.1L133.3 245.1L134.2 246.0L135.2 245.7L135.8 246.1L135.9 247.1L135.5 248.1L135.2 248.5L134.7 248.1L134.2 247.6L133.3 248.1L133.2 248.2L132.3 249.1L132.2 249.2L132.1 249.1L131.2 248.3L130.2 248.3L130.2 249.1L130.2 249.5L130.6 250.2L131.2 251.0L131.3 251.2L131.6 252.2L131.6 253.2L131.4 254.2L131.2 254.7L131.1 255.2L131.1 256.2L131.2 256.3L132.2 256.8L132.5 257.2L133.1 258.2L133.2 258.5L133.4 259.2L133.3 260.2L133.2 260.3L132.9 261.2L132.5 262.2L132.3 263.2L132.3 264.2L132.5 265.2L132.9 266.2L133.2 267.2L133.2 267.2L133.5 268.2L133.8 269.2L134.1 270.2L134.2 270.7L134.5 271.2L134.3 272.2L134.2 272.3L133.8 273.2L133.3 274.2L133.2 274.4L132.3 275.2L132.2 275.3L132.1 275.2L131.2 274.9L130.2 275.1L130.2 275.2L130.0 276.2L130.2 277.2L130.2 277.2L131.0 278.2L131.2 278.6L132.2 278.8L133.2 279.0L133.4 279.2L134.2 280.2L134.2 280.3L134.6 281.2L134.3 282.2L134.2 282.3L133.4 283.2L133.2 283.4L132.2 284.1L132.0 284.3L131.2 284.8L130.9 285.3L130.2 286.3L130.2 286.3L129.3 287.3L129.2 287.4L128.5 288.3L128.3 289.3L129.0 290.3L129.2 290.5L130.2 291.3L130.2 291.3L131.0 292.3L131.2 293.3L131.1 294.3L130.9 295.3L130.8 296.3L130.8 297.3L130.6 298.3L130.5 299.3L130.5 300.3L130.6 301.3L130.3 302.3L130.2 302.5L129.8 303.3L129.5 304.3L129.5 305.3L129.6 306.3L129.8 307.3L129.9 308.3L130.0 309.3L130.1 310.3L130.1 311.3L130.0 312.3L129.6 313.3L129.2 314.0L129.0 314.3L128.4 315.3L128.2 316.3L128.2 316.3L128.2 316.4L128.6 317.3L129.2 318.0L129.6 318.4L130.2 318.9L130.6 319.4L131.2 320.1L131.4 320.4L132.2 321.3L132.3 321.4L133.2 322.1L134.2 322.2L135.2 321.4L135.3 321.4L136.2 321.1L137.2 321.1L138.3 320.4L138.3 320.4L139.3 319.7L140.3 319.9L141.2 320.4L141.3 320.4L141.8 321.4L141.3 321.7L140.3 322.1L139.8 322.4L139.3 322.6L138.3 322.8L137.2 323.0L136.9 323.4L136.2 323.7L135.2 324.2L134.8 324.4L134.2 324.6L133.2 325.2L133.1 325.4L132.2 326.2L132.2 326.4L131.8 327.4L131.5 328.4L131.2 329.1L131.2 329.4L131.0 330.4L130.8 331.4L130.4 332.4L130.2 332.9L130.1 333.4L129.9 334.4L129.7 335.4L129.6 336.4L129.6 337.4L129.5 338.4L129.2 339.1L129.1 339.4L128.2 340.0L127.6 340.4L127.2 340.6L126.2 340.9L125.2 341.1L124.2 341.2L123.2 341.4L123.0 341.4L122.2 341.6L121.2 341.7L120.2 341.7L119.2 341.6L118.2 341.6L117.2 341.5L116.8 341.4L116.2 341.1L115.2 340.8L114.2 340.8L113.2 340.8L112.2 340.5L111.7 340.4L111.2 340.3L110.2 340.1L109.2 339.8L108.6 339.4L108.2 339.1L107.2 338.4L107.2 338.4L106.2 337.8L105.2 337.4L105.2 337.4L104.2 336.6L104.1 336.4L103.7 335.4L103.6 334.4L103.6 333.4L103.8 332.4L104.0 331.4L104.0 330.4L104.0 329.4L104.2 328.7L104.4 328.4L105.2 327.9L106.2 327.7L107.2 327.4L107.2 327.4L107.5 326.4L108.0 325.4L108.2 324.9L108.4 324.4L108.8 323.4L109.1 322.4L108.5 321.4L108.2 321.1L107.9 320.4L107.5 319.4L107.4 318.4L107.4 317.3L107.5 316.3L107.7 315.3L107.7 314.3L107.7 313.3L107.7 312.3L107.7 311.3L107.6 310.3L107.5 309.3L107.3 308.3L107.2 307.3L107.2 306.3L107.4 305.3L107.8 304.3L108.2 303.3L108.2 303.3L108.5 302.3L108.7 301.3L108.8 300.3L108.8 299.3L108.7 298.3L108.6 297.3L108.2 296.3L108.2 296.2L107.5 295.3L107.2 294.9L106.8 294.3L106.2 293.3L106.2 293.2L105.6 292.3L105.2 291.7L104.8 291.3L104.2 290.4L104.1 290.3L104.0 289.3L104.2 288.6L104.2 288.3L104.4 287.3L104.7 286.3L105.1 285.3L105.2 285.1L105.8 284.3L106.2 283.7L106.3 283.2L106.3 282.2L106.2 282.0L105.8 281.2L105.4 280.2L105.3 279.2L105.3 278.2L105.2 277.2L105.2 276.2L105.4 275.2L106.0 274.2L106.2 274.0L106.6 273.2L107.0 272.2L107.2 271.3L107.2 271.2L107.2 270.8L107.1 270.2L107.1 269.2L107.1 268.2L107.2 267.6L107.2 267.2L107.3 266.2L107.3 265.2L107.3 264.2L107.3 263.2L107.5 262.2L107.8 261.2L108.2 260.4L108.2 260.2L108.5 259.2L108.5 258.2L108.2 257.5L107.9 257.2L107.2 256.3L106.9 256.2L106.2 255.2L106.2 255.0L105.8 254.2L105.4 253.2L105.2 252.2L105.4 251.2L105.7 250.2L106.0 249.1L106.1 248.1L106.2 247.6L106.3 247.1L106.6 246.1L106.9 245.1L107.2 244.5L107.4 244.1L107.9 243.1L108.2 242.2L108.2 242.1L108.4 241.1L108.8 240.1L109.2 239.5L109.5 239.1L110.2 238.5L111.1 238.1L111.2 238.1L112.0 237.1L112.2 236.9L112.8 236.1L113.2 235.7L114.2 235.3L114.9 235.1L115.2 235.0L116.2 234.3L116.6 234.1L117.2 233.8L118.2 233.7L119.2 233.5L119.8 233.1ZM136.2 259.6L137.1 260.2L136.2 260.6L135.9 260.2ZM139.3 296.9L140.0 297.3L139.4 298.3L139.3 298.4L139.2 298.3L139.0 297.3Z" fill="#12f012" fill-rule="evenodd" stroke="#000" stroke-width="0.55" stroke-opacity="0.85"/>
<path d="M158.3 229.0L159.3 228.9L160.3 229.1L160.4 229.1L161.3 229.4L162.3 229.6L163.3 229.8L164.3 229.9L165.3 230.0L165.5 230.1L166.3 230.5L167.3 230.5L168.3 230.8L168.7 231.1L169.3 231.7L169.7 232.1L170.3 233.1L170.3 233.1L170.9 234.1L171.3 234.6L171.8 235.1L172.3 235.8L172.6 236.1L173.2 237.1L173.3 237.9L173.4 238.1L173.3 238.7L173.3 239.1L173.1 240.1L173.0 241.1L173.0 242.1L173.0 243.1L172.9 244.1L172.9 245.1L173.0 246.1L173.2 247.1L173.3 247.8L173.5 248.1L173.6 249.1L173.5 250.2L173.4 251.2L174.1 252.2L174.4 252.3L175.4 253.1L175.4 253.2L176.1 254.2L176.4 254.7L176.6 255.2L176.7 256.2L176.6 257.2L176.4 257.9L176.3 258.2L175.8 259.2L175.4 259.7L174.8 260.2L174.4 260.6L174.0 261.2L173.6 262.2L173.4 263.2L173.4 264.2L173.5 265.2L173.6 266.2L173.8 267.2L173.9 268.2L174.0 269.2L173.8 270.2L173.3 271.2L173.3 271.2L172.8 272.2L172.3 272.9L172.2 273.2L172.1 274.2L172.1 275.2L172.2 276.2L172.3 277.2L172.3 277.9L172.4 278.2L172.5 279.2L172.6 280.2L172.6 281.2L172.5 282.2L172.3 283.1L172.3 283.2L172.2 284.3L172.3 285.3L172.3 285.5L172.5 286.3L172.6 287.3L172.5 288.3L172.3 289.0L172.3 289.3L171.9 290.3L171.6 291.3L171.6 292.3L171.8 293.3L172.0 294.3L172.3 295.3L172.3 296.1L172.4 296.3L172.4 297.3L172.3 297.9L172.3 298.3L172.3 298.3L172.5 299.3L172.9 300.3L173.3 301.2L173.4 301.3L173.9 302.3L174.2 303.3L174.2 304.3L174.2 305.3L174.1 306.3L173.9 307.3L173.9 308.3L173.8 309.3L173.7 310.3L173.6 311.3L173.7 312.3L174.0 313.3L174.4 313.9L174.7 314.3L175.2 315.3L175.4 315.8L175.6 316.3L175.7 317.3L175.6 318.4L175.4 318.8L175.1 319.4L174.6 320.4L174.4 320.9L174.1 321.4L173.8 322.4L174.1 323.4L174.4 323.7L174.9 324.4L175.4 324.8L175.6 325.4L175.9 326.4L176.2 327.4L176.4 328.2L176.4 328.4L176.6 329.4L176.8 330.4L177.1 331.4L177.4 332.2L177.4 332.4L177.7 333.4L177.8 334.4L177.9 335.4L177.9 336.4L178.2 337.4L178.4 337.8L178.6 338.4L179.0 339.4L179.3 340.4L179.2 341.4L178.9 342.4L178.4 343.0L177.5 343.4L177.4 343.5L177.0 343.4L176.4 343.2L175.6 343.4L175.4 343.5L174.4 344.1L173.4 344.4L173.3 344.4L172.3 344.5L171.3 344.7L170.3 344.8L169.3 344.8L168.3 344.7L167.3 344.6L166.3 344.5L165.3 344.6L164.3 344.6L163.3 344.6L162.3 344.6L161.8 344.4L161.3 344.3L160.3 343.7L159.3 343.6L158.5 343.4L158.3 343.3L157.7 342.4L157.3 341.8L157.0 341.4L156.3 340.6L156.1 340.4L155.4 339.4L155.3 339.2L154.9 338.4L154.7 337.4L154.6 336.4L154.6 335.4L154.6 334.4L154.5 333.4L154.3 332.9L154.0 332.4L153.6 331.4L153.3 330.9L153.1 330.4L152.6 329.4L152.3 328.9L152.0 328.4L151.4 327.4L151.3 327.0L151.1 326.4L150.8 325.4L150.5 324.4L150.3 323.8L149.3 323.7L148.9 323.4L148.4 322.4L149.2 321.4L149.3 321.3L149.6 321.4L150.3 321.9L150.8 321.4L151.3 321.2L151.7 320.4L152.1 319.4L152.3 319.0L152.5 318.4L152.6 317.3L152.4 316.3L152.3 316.2L151.7 315.3L151.3 314.8L151.0 314.3L150.4 313.3L150.3 313.1L149.8 312.3L149.7 311.3L149.8 310.3L150.2 309.3L150.3 309.0L150.6 308.3L151.3 307.3L151.3 307.3L151.8 306.3L152.1 305.3L151.9 304.3L151.3 303.3L151.3 303.3L150.6 302.3L150.3 301.7L150.0 301.3L149.3 300.3L149.3 300.2L149.2 300.3L148.3 300.5L148.1 300.3L147.5 299.3L147.5 298.3L148.0 297.3L148.3 296.6L149.0 297.3L149.3 297.6L149.3 297.3L149.5 296.3L149.3 295.9L148.3 295.9L148.1 295.3L147.5 294.3L147.3 294.0L147.0 293.3L146.8 292.3L146.7 291.3L146.8 290.3L147.0 289.3L147.1 288.3L147.1 287.3L146.9 286.3L146.6 285.3L146.3 284.4L146.2 284.3L145.9 283.2L145.7 282.2L145.6 281.2L145.7 280.2L145.8 279.2L145.9 278.2L145.9 277.2L145.7 276.2L145.5 275.2L145.3 274.2L145.3 273.2L145.5 272.2L145.9 271.2L146.3 270.2L146.3 270.2L146.5 269.2L146.6 268.2L146.6 267.2L146.6 266.2L146.6 265.2L146.7 264.2L146.8 263.2L147.1 262.2L147.3 261.6L147.4 261.2L147.9 260.2L148.3 259.6L149.3 259.4L149.5 259.2L150.3 258.2L150.3 258.2L150.5 257.2L150.6 256.2L150.3 255.2L150.3 255.0L149.6 254.2L149.3 253.8L148.5 253.2L148.3 252.9L147.4 252.2L147.3 252.0L146.6 251.2L146.4 250.2L146.6 249.1L147.0 248.1L147.1 247.1L147.1 246.1L146.8 245.1L146.5 244.1L146.3 243.2L146.2 243.1L146.0 242.1L146.2 241.1L146.3 240.8L146.4 240.1L146.6 239.1L146.7 238.1L146.6 237.1L146.5 236.1L146.6 235.1L146.9 234.1L147.3 233.6L147.5 233.1L148.2 232.1L148.3 232.1L149.3 231.6L150.3 231.7L151.3 231.9L152.3 231.4L152.7 231.1L153.3 230.7L154.3 230.3L154.9 230.1L155.3 230.0L156.3 229.5L157.3 229.2L157.7 229.1ZM117.2 240.9L118.2 240.3L119.2 240.6L119.9 241.1L120.2 241.4L121.1 242.1L121.2 242.3L121.4 242.1L122.2 241.5L123.2 241.2L123.8 242.1L124.2 243.1L124.2 243.1L124.5 244.1L124.8 245.1L124.9 246.1L124.8 247.1L124.7 248.1L124.4 249.1L124.2 249.9L124.0 250.2L123.9 251.2L124.2 252.0L124.2 252.2L124.5 253.2L124.7 254.2L124.9 255.2L125.1 256.2L125.2 256.7L125.3 257.2L125.6 258.2L125.8 259.2L125.9 260.2L125.8 261.2L125.5 262.2L125.2 263.0L125.1 263.2L124.9 264.2L125.0 265.2L125.2 265.8L125.4 266.2L126.0 267.2L126.2 267.7L126.5 268.2L126.7 269.2L126.6 270.2L126.2 270.9L126.1 271.2L125.5 272.2L125.2 272.6L124.9 273.2L124.6 274.2L124.4 275.2L124.4 276.2L124.4 277.2L124.5 278.2L124.8 279.2L125.2 280.2L125.2 280.2L125.7 281.2L125.9 282.2L125.7 283.2L125.2 284.2L125.2 284.3L124.3 285.3L124.2 285.3L123.4 286.3L123.2 287.3L123.3 288.3L123.6 289.3L123.8 290.3L124.0 291.3L124.2 292.3L124.2 292.7L124.4 293.3L125.2 293.9L125.4 294.3L125.7 295.3L125.8 296.3L125.7 297.3L125.3 298.3L125.2 298.5L125.1 298.3L124.8 297.3L124.7 296.3L124.6 295.3L124.2 294.3L123.2 294.3L122.9 295.3L122.7 296.3L122.8 297.3L123.0 298.3L123.2 299.3L123.2 299.3L123.7 300.3L124.0 301.3L124.2 302.0L124.3 302.3L124.7 303.3L124.9 304.3L124.9 305.3L124.4 306.3L124.2 306.5L123.2 307.1L123.1 307.3L123.0 308.3L123.1 309.3L123.2 309.7L124.0 310.3L124.2 310.5L125.2 310.8L125.3 311.3L125.4 312.3L125.2 313.3L125.2 313.4L124.9 314.3L124.3 315.3L124.2 315.6L123.7 316.3L123.7 317.3L124.1 318.4L124.2 318.5L124.6 319.4L125.1 320.4L125.2 320.7L126.0 321.4L126.2 321.5L127.2 322.1L127.5 322.4L128.2 323.4L128.2 323.4L128.2 323.4L128.2 324.4L127.7 325.4L127.2 326.2L127.1 326.4L126.3 327.4L126.2 327.4L126.0 328.4L125.7 329.4L125.4 330.4L125.2 330.7L124.6 331.4L124.2 331.8L123.9 332.4L123.5 333.4L123.4 334.4L123.6 335.4L123.9 336.4L124.2 337.2L124.3 337.4L124.2 338.0L124.1 338.4L123.2 339.1L122.9 339.4L122.2 339.8L121.2 340.0L120.2 339.9L119.2 339.7L118.2 339.7L117.2 339.5L117.1 339.4L116.2 338.5L116.1 338.4L115.2 337.8L114.2 338.0L113.2 338.3L112.2 337.9L111.3 337.4L111.2 337.3L110.2 336.4L110.2 336.4L109.9 335.4L110.0 334.4L110.2 333.4L110.2 333.3L110.4 332.4L110.6 331.4L111.0 330.4L111.2 330.2L112.2 330.2L112.8 330.4L113.2 330.5L113.6 330.4L114.2 330.1L114.8 330.4L115.2 331.0L115.4 331.4L116.2 332.2L116.8 331.4L117.2 330.8L117.3 330.4L117.4 329.4L117.6 328.4L117.7 327.4L117.9 326.4L118.0 325.4L118.1 324.4L118.2 324.2L118.3 323.4L118.5 322.4L118.8 321.4L118.6 320.4L118.2 319.8L117.2 319.6L117.1 319.4L116.8 318.4L116.6 317.3L116.4 316.3L116.2 315.5L116.1 315.3L115.2 314.3L115.2 314.2L114.2 313.6L114.1 313.3L114.2 313.2L114.5 312.3L115.1 311.3L115.2 311.2L115.3 310.3L115.4 309.3L115.5 308.3L115.5 307.3L115.4 306.3L115.2 305.7L115.0 305.3L114.7 304.3L114.8 303.3L115.1 302.3L115.2 302.0L115.3 301.3L115.4 300.3L115.3 299.3L115.2 298.5L115.1 298.3L114.9 297.3L114.7 296.3L114.6 295.3L114.2 294.7L113.9 294.3L113.2 293.4L113.1 293.3L112.9 292.3L112.7 291.3L112.5 290.3L112.2 289.3L112.2 289.1L111.8 288.3L111.5 287.3L111.4 286.3L111.4 285.3L111.6 284.3L112.1 283.2L112.2 283.1L112.6 282.2L112.8 281.2L112.6 280.2L112.3 279.2L112.2 279.0L111.2 278.5L111.0 278.2L110.4 277.2L110.4 276.2L110.6 275.2L110.8 274.2L111.1 273.2L111.2 273.0L111.8 272.2L112.2 271.6L112.4 271.2L112.8 270.2L112.8 269.2L112.7 268.2L112.7 267.2L113.0 266.2L113.2 265.4L113.3 265.2L113.4 264.2L113.3 263.2L113.2 262.4L113.2 262.2L113.2 261.6L113.2 261.2L114.2 260.3L114.5 260.2L115.2 259.9L115.6 259.2L116.2 258.5L116.4 258.2L117.2 257.2L117.2 257.1L117.4 256.2L117.3 255.2L117.2 254.9L116.8 254.2L116.2 253.2L116.2 253.1L115.2 252.2L115.2 252.1L114.3 251.2L114.2 251.0L113.7 250.2L113.6 249.1L113.5 248.1L113.5 247.1L113.5 246.1L113.4 245.1L113.4 244.1L113.5 243.1L113.7 242.1L114.2 241.3L115.2 241.5L116.2 241.4L116.7 241.1ZM114.8 267.2L114.4 268.2L114.2 269.2L114.6 270.2L115.2 270.7L116.2 270.3L116.3 270.2L116.5 269.2L116.4 268.2L116.3 267.2L116.2 266.8L115.2 266.6ZM116.2 323.0L116.9 323.4L116.3 324.4L116.2 324.4L116.1 324.4L116.0 323.4Z" fill="#ffff00" fill-rule="evenodd" stroke="#000" stroke-width="0.55" stroke-opacity="0.85"/>
<path d="M158.3 230.9L159.0 231.1L159.3 231.2L160.3 231.9L160.6 232.1L161.3 232.7L161.8 233.1L162.3 233.7L163.3 233.8L164.3 233.2L165.3 233.7L165.6 234.1L166.3 235.1L167.3 234.8L168.3 234.4L168.7 235.1L169.2 236.1L169.3 236.5L169.7 237.1L170.3 238.1L170.4 238.1L171.0 239.1L171.0 240.1L170.9 241.1L171.1 242.1L171.3 243.1L171.3 243.1L171.4 244.1L171.4 245.1L171.4 246.1L171.4 247.1L171.3 247.8L171.1 248.1L170.3 248.5L169.6 249.1L169.3 249.5L169.2 250.2L169.1 251.2L169.3 252.2L169.3 252.3L170.2 253.2L170.3 253.2L171.3 253.4L172.0 254.2L172.3 254.9L172.5 255.2L172.8 256.2L172.8 257.2L172.6 258.2L172.4 259.2L172.3 259.2L172.1 260.2L171.7 261.2L171.4 262.2L171.3 262.7L171.1 263.2L170.9 264.2L171.0 265.2L171.3 266.2L171.3 266.5L171.4 267.2L171.5 268.2L171.5 269.2L171.3 269.9L171.3 270.2L171.0 271.2L170.6 272.2L170.3 272.8L169.8 273.2L169.3 273.8L168.3 274.2L168.3 274.2L168.2 275.2L168.1 276.2L168.0 277.2L168.0 278.2L168.0 279.2L168.0 280.2L167.9 281.2L167.7 282.2L167.5 283.2L167.4 284.3L167.7 285.3L168.3 286.2L168.4 286.3L169.3 287.3L169.3 287.6L170.0 288.3L169.3 288.4L168.9 289.3L168.3 289.8L168.0 290.3L167.5 291.3L167.3 292.2L167.3 292.3L167.3 292.4L167.5 293.3L167.9 294.3L168.3 295.0L169.2 294.3L169.3 294.2L169.4 294.3L170.3 294.9L170.4 295.3L170.5 296.3L170.5 297.3L170.4 298.3L170.3 299.0L170.2 299.3L170.0 300.3L169.9 301.3L170.1 302.3L170.3 302.7L170.8 303.3L171.3 303.9L171.8 304.3L172.1 305.3L172.0 306.3L171.9 307.3L171.6 308.3L171.3 308.9L171.0 309.3L170.3 310.3L170.3 310.3L170.1 311.3L169.9 312.3L170.0 313.3L170.1 314.3L170.3 315.3L170.3 316.3L170.2 317.3L169.8 318.4L169.3 319.1L169.3 319.4L169.1 320.4L169.0 321.4L169.2 322.4L169.3 322.6L169.9 323.4L170.3 324.0L170.7 324.4L171.3 325.1L171.5 325.4L171.9 326.4L172.2 327.4L172.3 327.8L172.9 328.4L173.3 328.7L174.0 329.4L174.2 330.4L174.4 330.9L174.4 331.4L174.5 332.4L174.6 333.4L174.6 334.4L174.6 335.4L174.5 336.4L174.4 337.3L174.3 337.4L174.2 338.4L174.2 339.4L174.1 340.4L173.9 341.4L173.3 342.3L173.3 342.4L172.3 342.8L171.4 343.4L171.3 343.4L170.3 343.8L169.3 343.6L168.7 343.4L168.3 343.2L167.3 342.6L166.3 342.7L165.3 343.2L164.3 343.3L163.5 343.4L163.3 343.4L162.3 343.5L162.2 343.4L161.3 342.7L161.0 342.4L160.5 341.4L160.3 340.7L160.1 340.4L159.7 339.4L159.4 338.4L159.3 337.9L159.0 337.4L159.3 336.7L159.3 336.4L159.6 335.4L159.8 334.4L159.9 333.4L159.7 332.4L159.6 331.4L159.3 330.4L159.3 330.4L158.6 329.4L158.3 329.2L158.1 329.4L157.3 329.9L156.5 330.4L156.3 330.6L156.2 330.4L155.8 329.4L155.3 328.4L155.3 328.2L155.1 327.4L154.3 326.5L154.2 326.4L153.8 325.4L153.3 324.5L153.2 324.4L153.1 323.4L153.2 322.4L153.3 322.0L153.8 321.4L154.3 321.0L154.6 321.4L155.3 322.0L156.3 321.9L156.6 321.4L157.0 320.4L157.3 319.5L157.4 319.4L157.6 318.4L157.6 317.3L157.4 316.3L157.3 316.1L157.1 315.3L156.9 314.3L156.6 313.3L156.3 312.3L156.3 312.2L155.7 311.3L155.5 310.3L155.5 309.3L155.5 308.3L155.5 307.3L155.5 306.3L155.5 305.3L155.4 304.3L155.3 303.6L155.2 303.3L154.7 302.3L154.3 301.8L153.3 301.4L153.1 301.3L152.3 300.3L152.3 300.3L152.1 299.3L152.2 298.3L152.3 298.2L152.5 297.3L152.8 296.3L152.9 295.3L152.9 294.3L152.7 293.3L152.5 292.3L152.3 291.3L152.3 290.8L152.2 290.3L152.1 289.3L152.0 288.3L151.8 287.3L151.6 286.3L151.3 285.3L151.3 285.3L150.9 284.3L150.8 283.2L150.8 282.2L150.8 281.2L150.7 280.2L150.5 279.2L150.4 278.2L150.3 277.8L150.2 277.2L150.0 276.2L149.7 275.2L149.3 274.6L148.8 274.2L148.3 273.4L148.2 273.2L148.1 272.2L148.2 271.2L148.3 270.5L148.3 270.2L148.8 269.2L149.3 268.5L149.5 268.2L150.3 267.2L150.3 267.2L150.9 266.2L151.0 265.2L151.0 264.2L150.9 263.2L150.8 262.2L150.9 261.2L151.0 260.2L151.3 259.3L151.3 259.2L151.7 258.2L152.1 257.2L152.3 256.2L152.1 255.2L151.7 254.2L151.3 253.3L151.2 253.2L151.0 252.2L151.0 251.2L150.9 250.2L150.6 249.1L150.3 248.5L150.2 248.1L149.8 247.1L149.5 246.1L149.4 245.1L149.4 244.1L149.5 243.1L149.8 242.1L150.3 241.5L150.7 241.1L151.3 240.6L151.5 240.1L151.9 239.1L152.1 238.1L152.2 237.1L152.3 236.6L152.3 236.1L152.6 235.1L153.2 234.1L153.3 234.0L153.8 234.1L154.3 234.2L154.9 235.1L155.3 235.8L155.7 235.1L156.3 234.1L156.3 234.1L156.6 233.1L157.0 232.1L157.3 231.7L158.0 231.1ZM169.0 243.1L169.3 243.8L169.4 243.1L169.3 242.6ZM119.2 260.9L120.2 261.2L120.2 261.2L120.7 262.2L120.9 263.2L120.8 264.2L120.5 265.2L120.2 265.7L119.7 266.2L119.2 266.7L118.5 266.2L118.2 265.9L118.0 265.2L117.8 264.2L117.8 263.2L118.0 262.2L118.2 261.6L118.7 261.2ZM119.2 273.1L119.3 273.2L119.7 274.2L120.2 275.0L120.3 275.2L120.7 276.2L120.9 277.2L120.7 278.2L120.4 279.2L120.2 279.9L120.1 280.2L119.6 281.2L119.2 282.0L118.6 281.2L118.2 280.9L117.9 280.2L117.4 279.2L117.2 278.9L116.5 278.2L116.2 277.7L115.2 277.5L115.0 277.2L115.2 276.7L115.5 276.2L116.2 275.7L116.5 275.2L117.2 274.4L117.4 274.2L118.2 273.5L119.0 273.2ZM150.3 291.4L150.5 292.3L150.3 292.5L149.9 292.3ZM171.3 316.1L172.3 316.0L172.8 316.3L173.2 317.3L173.0 318.4L172.3 319.3L171.3 318.4L171.3 318.4L170.7 317.3L170.5 316.3ZM120.2 326.2L121.0 326.4L121.2 326.5L121.7 327.4L121.8 328.4L121.6 329.4L121.3 330.4L121.2 330.7L120.8 331.4L120.2 332.0L119.2 331.7L119.2 331.4L119.1 330.4L119.1 329.4L119.2 328.4L119.2 328.3L119.5 327.4L120.1 326.4Z" fill="#ff8000" fill-rule="evenodd" stroke="#000" stroke-width="0.55" stroke-opacity="0.85"/>
<path d="M158.3 233.3L159.3 234.0L159.4 234.1L159.7 235.1L159.9 236.1L160.0 237.1L160.1 238.1L160.3 238.5L160.6 238.1L161.3 237.7L161.6 238.1L161.9 239.1L162.3 240.1L162.3 240.2L162.6 241.1L162.8 242.1L162.9 243.1L163.0 244.1L163.0 245.1L163.0 246.1L162.9 247.1L162.7 248.1L162.4 249.1L162.3 249.6L161.9 250.2L161.3 250.8L160.6 251.2L160.3 251.4L160.1 252.2L160.0 253.2L159.9 254.2L160.0 255.2L160.3 255.7L161.1 256.2L161.3 256.3L161.4 256.2L161.5 255.2L161.5 254.2L161.4 253.2L162.3 252.3L162.9 253.2L163.3 253.7L163.6 254.2L164.0 255.2L164.3 255.9L164.5 256.2L164.8 257.2L164.9 258.2L164.7 259.2L164.3 259.8L164.2 260.2L163.9 261.2L163.6 262.2L163.5 263.2L163.5 264.2L163.5 265.2L163.4 266.2L163.3 266.6L163.2 267.2L163.2 268.2L163.3 269.0L164.3 268.4L164.6 269.2L164.6 270.2L164.7 271.2L164.6 272.2L164.6 273.2L164.6 274.2L164.6 275.2L164.5 276.2L164.4 277.2L164.3 277.6L164.2 278.2L164.1 279.2L164.1 280.2L163.8 281.2L163.3 282.2L163.3 282.3L162.3 282.4L161.3 282.9L161.2 283.2L160.8 284.3L160.6 285.3L160.3 285.6L159.9 286.3L159.3 286.8L159.1 287.3L158.8 288.3L158.6 289.3L158.7 290.3L159.2 291.3L159.3 291.4L160.3 292.1L160.5 292.3L161.3 293.1L161.4 293.3L161.6 294.3L161.9 295.3L162.1 296.3L162.2 297.3L162.3 298.2L163.3 297.8L163.6 298.3L164.2 299.3L164.3 299.6L164.6 300.3L164.9 301.3L164.9 302.3L164.5 303.3L164.3 303.7L164.2 304.3L164.2 305.3L164.2 306.3L164.2 307.3L164.3 308.3L164.3 309.0L164.5 309.3L165.3 310.2L166.3 310.0L166.5 310.3L166.9 311.3L167.3 312.3L167.3 312.4L167.6 313.3L168.0 314.3L168.2 315.3L168.1 316.3L167.9 317.3L167.6 318.4L167.3 319.2L167.1 319.4L166.3 320.1L165.8 320.4L165.3 320.6L164.3 320.7L163.9 320.4L163.3 319.4L163.3 319.4L163.0 318.4L162.9 317.3L162.8 316.3L162.8 315.3L162.8 314.3L162.9 313.3L163.0 312.3L162.9 311.3L162.4 310.3L162.3 310.3L162.3 310.3L161.7 311.3L161.3 311.9L160.9 312.3L160.3 312.9L159.8 312.3L159.4 311.3L159.6 310.3L160.0 309.3L160.3 308.5L160.4 308.3L160.6 307.3L160.7 306.3L160.8 305.3L160.8 304.3L160.8 303.3L160.7 302.3L160.5 301.3L160.3 300.9L159.3 300.4L158.5 301.3L158.3 302.0L157.9 302.3L157.3 303.0L157.2 302.3L157.0 301.3L156.7 300.3L156.3 299.4L156.2 299.3L155.9 298.3L155.7 297.3L155.6 296.3L155.5 295.3L155.3 294.3L155.3 294.2L155.2 293.3L155.2 292.3L155.3 291.9L155.6 291.3L156.3 290.3L156.3 290.2L156.7 289.3L156.6 288.3L156.5 287.3L156.3 286.4L156.3 286.3L156.1 285.3L156.0 284.3L155.9 283.2L155.8 282.2L155.3 281.4L155.2 281.2L154.3 280.9L154.0 280.2L153.8 279.2L153.7 278.2L153.8 277.2L153.8 276.2L153.6 275.2L153.5 274.2L153.5 273.2L154.0 272.2L154.3 271.8L155.3 271.5L156.3 271.4L156.8 272.2L157.3 273.0L157.4 273.2L158.3 274.2L158.3 274.2L158.3 274.2L158.9 273.2L159.3 272.4L159.4 272.2L159.6 271.2L159.7 270.2L159.7 269.2L159.6 268.2L159.5 267.2L159.3 266.2L159.3 266.0L159.2 265.2L159.3 264.5L159.3 264.2L159.5 263.2L159.5 262.2L159.4 261.2L159.3 260.9L159.0 260.2L158.4 259.2L158.3 259.0L157.7 259.2L157.3 259.3L157.2 259.2L157.2 258.2L157.1 257.2L156.9 256.2L156.3 255.2L156.3 255.2L155.9 254.2L155.6 253.2L155.3 252.4L155.1 252.2L154.6 251.2L154.5 250.2L154.5 249.1L154.5 248.1L154.4 247.1L154.3 246.9L154.1 246.1L153.9 245.1L154.3 244.2L154.3 244.1L155.3 243.6L156.2 244.1L156.3 244.2L157.3 245.1L157.3 245.2L157.4 245.1L158.3 244.4L158.4 244.1L158.6 243.1L158.6 242.1L158.4 241.1L158.3 240.7L158.2 240.1L158.2 239.1L158.1 238.1L157.8 237.1L157.7 236.1L157.7 235.1L157.9 234.1ZM156.3 278.2L156.3 278.5L156.3 278.2L156.3 278.1ZM165.3 238.0L166.3 238.0L166.7 238.1L167.3 238.8L167.4 239.1L167.3 239.5L167.1 240.1L166.5 241.1L166.3 241.5L165.6 241.1L165.3 240.6L165.2 240.1L165.0 239.1L165.1 238.1ZM169.3 256.7L170.3 257.0L170.4 257.2L170.3 257.4L169.4 258.2L169.3 258.2L169.3 258.2L169.1 257.2ZM164.3 286.5L164.6 287.3L164.8 288.3L165.0 289.3L165.0 290.3L164.6 291.3L164.3 291.8L164.2 291.3L164.0 290.3L163.9 289.3L163.8 288.3L164.0 287.3ZM166.3 335.4L167.3 335.8L167.9 336.4L168.0 337.4L167.3 338.0L166.3 338.3L166.0 337.4L166.0 336.4ZM161.3 337.3L162.3 336.7L162.6 337.4L162.9 338.4L163.0 339.4L162.9 340.4L162.3 341.3L161.8 340.4L161.4 339.4L161.3 339.2L161.2 338.4L161.3 337.4ZM170.3 338.6L170.8 339.4L170.9 340.4L170.5 341.4L170.3 341.5L170.2 341.4L169.6 340.4L169.6 339.4Z" fill="#ff0000" fill-rule="evenodd" stroke="#000" stroke-width="0.55" stroke-opacity="0.85"/>
</g>
<line x1="120.6" y1="198.0" x2="120.6" y2="369.5" stroke="#111" stroke-width="1.1" stroke-dasharray="3.2,2.8"/>
<line x1="162.4" y1="198.0" x2="162.4" y2="369.5" stroke="#111" stroke-width="1.1" stroke-dasharray="3.2,2.8"/>
<rect x="142.9" y="305.6" width="48.3" height="47" fill="none" stroke="#b03a3a" stroke-width="1.3"/>
<rect x="48.0" y="198.0" width="179.5" height="171.5" fill="none" stroke="#000" stroke-width="0.9"/>
<path d="M48.0 369.5v3M73.6 369.5v2M99.3 369.5v3M124.9 369.5v2M150.6 369.5v3M176.2 369.5v2M201.9 369.5v3M227.5 369.5v2M48.0 369.5h-3M48.0 340.9h-2M48.0 312.3h-3M48.0 283.8h-2M48.0 255.2h-3M48.0 226.6h-2M48.0 198.0h-3" stroke="#000" stroke-width="1"/>
<text x="48.6" y="383.6" font-family="Liberation Sans, Arial, sans-serif" font-weight="bold" font-size="10.8" text-anchor="middle">360</text>
<text x="99.9" y="383.6" font-family="Liberation Sans, Arial, sans-serif" font-weight="bold" font-size="10.8" text-anchor="middle">380</text>
<text x="151.2" y="383.6" font-family="Liberation Sans, Arial, sans-serif" font-weight="bold" font-size="10.8" text-anchor="middle">400</text>
<text x="202.5" y="383.6" font-family="Liberation Sans, Arial, sans-serif" font-weight="bold" font-size="10.8" text-anchor="middle">420</text>
<text x="43" y="372.4" font-family="Liberation Sans, Arial, sans-serif" font-weight="bold" font-size="10.5" text-anchor="end">0</text>
<text x="43" y="315.2" font-family="Liberation Sans, Arial, sans-serif" font-weight="bold" font-size="10.5" text-anchor="end">2</text>
<text x="43" y="258.1" font-family="Liberation Sans, Arial, sans-serif" font-weight="bold" font-size="10.5" text-anchor="end">4</text>
<text x="43" y="200.9" font-family="Liberation Sans, Arial, sans-serif" font-weight="bold" font-size="10.5" text-anchor="end">6</text>
<text x="79.6" y="402.2" font-family="Liberation Sans, Arial, sans-serif" font-weight="bold" font-size="14" textLength="102.6" lengthAdjust="spacingAndGlyphs">Raman Shift (cm</text>
<text x="183" y="396" font-family="Liberation Sans, Arial, sans-serif" font-weight="bold" font-size="9">-1</text>
<text x="191" y="402.2" font-family="Liberation Sans, Arial, sans-serif" font-weight="bold" font-size="14">)</text>
<text transform="translate(25.3,352) rotate(-90)" font-family="Liberation Sans, Arial, sans-serif" font-weight="bold" font-size="14" textLength="124.5" lengthAdjust="spacingAndGlyphs">Scan Position (µm)</text>
<text x="14" y="204.8" font-family="Liberation Sans, Arial, sans-serif" font-weight="bold" font-size="13.5">(c)</text>
<rect x="231.2" y="209.7" width="12.5" height="12.3" fill="#ff0000"/>
<rect x="231.2" y="221.7" width="12.5" height="12.3" fill="#ff8000"/>
<rect x="231.2" y="233.7" width="12.5" height="12.3" fill="#ffff00"/>
<rect x="231.2" y="245.7" width="12.5" height="12.3" fill="#12f012"/>
<rect x="231.2" y="257.7" width="12.5" height="12.3" fill="#12f082"/>
<rect x="231.2" y="269.7" width="12.5" height="12.3" fill="#12ffff"/>
<rect x="231.2" y="281.7" width="12.5" height="12.3" fill="#1a7ff5"/>
<rect x="231.2" y="293.7" width="12.5" height="12.3" fill="#0000ff"/>
<rect x="231.2" y="305.7" width="12.5" height="12.3" fill="#000000"/>
<text x="247.8" y="213.5" font-family="Liberation Sans, Arial, sans-serif" font-weight="bold" font-size="8.8">150</text>
<text x="247.8" y="225.5" font-family="Liberation Sans, Arial, sans-serif" font-weight="bold" font-size="8.8">130</text>
<text x="247.8" y="237.5" font-family="Liberation Sans, Arial, sans-serif" font-weight="bold" font-size="8.8">110</text>
<text x="247.8" y="249.5" font-family="Liberation Sans, Arial, sans-serif" font-weight="bold" font-size="8.8">90</text>
<text x="247.8" y="261.5" font-family="Liberation Sans, Arial, sans-serif" font-weight="bold" font-size="8.8">70</text>
<text x="247.8" y="273.5" font-family="Liberation Sans, Arial, sans-serif" font-weight="bold" font-size="8.8">50</text>
<text x="247.8" y="285.5" font-family="Liberation Sans, Arial, sans-serif" font-weight="bold" font-size="8.8">30</text>
<text x="247.8" y="297.5" font-family="Liberation Sans, Arial, sans-serif" font-weight="bold" font-size="8.8">10</text>
<text x="247.8" y="309.5" font-family="Liberation Sans, Arial, sans-serif" font-weight="bold" font-size="8.8">0</text>
</g>
<g id="pd">
<clipPath id="cpd"><rect x="310.0" y="198.0" width="175.0" height="169.7"/></clipPath>
<g clip-path="url(#cpd)">
<rect x="310.0" y="198.0" width="175.0" height="169.7" fill="#000000"/>
<path d="M311.0 198.0L312.0 198.0L313.0 198.0L314.0 198.0L315.0 198.0L315.1 198.0L315.0 198.1L314.2 199.0L314.0 199.4L313.6 200.0L313.0 200.7L312.6 201.0L312.1 202.0L312.1 203.0L312.5 204.0L312.8 205.0L312.7 206.0L312.5 207.0L312.7 208.0L312.9 209.0L312.9 210.0L312.9 211.0L313.0 211.1L313.5 212.0L314.0 212.6L315.0 212.9L316.0 212.0L316.0 212.0L316.4 211.0L316.8 210.0L317.0 209.5L317.3 209.0L317.8 208.0L318.0 207.6L318.7 208.0L319.0 208.1L319.6 209.0L319.9 210.0L319.9 211.0L319.6 212.0L319.3 213.0L319.1 214.0L320.0 214.8L321.0 214.4L321.3 214.0L321.8 213.0L321.8 212.0L321.6 211.0L321.6 210.0L321.9 209.0L322.0 208.8L322.4 208.0L322.6 207.0L322.6 206.0L322.4 205.0L322.3 204.0L322.4 203.0L322.5 202.0L322.7 201.0L322.7 200.0L322.0 199.3L321.8 199.0L321.0 198.1L320.9 198.0L321.0 198.0L322.0 198.0L323.0 198.0L324.0 198.0L325.0 198.0L326.0 198.0L327.0 198.0L328.0 198.0L328.9 198.0L328.9 199.0L329.0 199.3L329.1 200.0L329.5 201.0L329.8 202.0L329.9 203.0L329.5 204.0L329.0 204.7L328.8 205.0L328.6 206.0L328.7 207.0L329.0 208.0L329.0 208.1L329.1 209.0L329.1 210.0L329.1 211.0L329.5 212.0L330.0 212.3L331.0 213.0L331.2 213.0L332.0 213.0L332.1 213.0L333.0 212.8L334.0 212.6L335.0 212.6L336.0 212.5L337.0 212.0L337.0 212.0L337.8 211.0L338.0 210.2L338.1 210.0L338.0 209.6L337.9 209.0L337.7 208.0L337.5 207.0L337.3 206.0L337.1 205.0L337.2 204.0L337.5 203.0L337.7 202.0L337.6 201.0L337.4 200.0L337.2 199.0L337.3 198.0L338.0 198.0L339.0 198.0L340.0 198.0L341.0 198.0L342.0 198.0L343.0 198.0L344.0 198.0L345.0 198.0L346.0 198.0L347.0 198.0L348.0 198.0L349.0 198.0L350.0 198.0L351.0 198.0L352.0 198.0L353.0 198.0L354.0 198.0L355.0 198.0L356.0 198.0L357.0 198.0L358.0 198.0L358.7 198.0L358.3 199.0L358.3 200.0L358.4 201.0L358.5 202.0L358.4 203.0L358.1 204.0L358.0 205.0L358.5 206.0L359.0 206.6L359.2 207.0L359.6 208.0L360.0 208.5L360.5 209.0L361.0 209.5L362.0 209.5L362.6 209.0L363.0 208.4L363.2 208.0L363.3 207.0L363.0 206.3L362.9 206.0L362.9 205.0L362.9 204.0L362.9 203.0L362.9 202.0L362.9 201.0L362.9 200.0L362.8 199.0L362.6 198.0L363.0 198.0L364.0 198.0L365.0 198.0L366.0 198.0L367.0 198.0L368.0 198.0L369.0 198.0L370.0 198.0L371.0 198.0L372.0 198.0L373.0 198.0L373.5 198.0L373.2 199.0L373.0 199.5L372.7 200.0L372.2 201.0L372.3 202.0L372.2 203.0L372.0 203.5L371.7 204.0L371.4 205.0L371.4 206.0L371.7 207.0L372.0 207.6L372.3 208.0L373.0 208.7L374.0 208.8L375.0 208.6L375.9 208.0L376.0 207.9L376.7 207.0L377.0 206.6L377.5 206.0L378.0 205.0L378.0 205.0L378.0 204.0L378.0 203.9L377.8 203.0L377.5 202.0L377.5 201.0L377.5 200.0L377.4 199.0L377.0 198.1L377.0 198.0L377.0 198.0L378.0 198.0L379.0 198.0L380.0 198.0L381.0 198.0L382.0 198.0L383.0 198.0L384.0 198.0L385.0 198.0L386.0 198.0L387.0 198.0L388.0 198.0L389.0 198.0L390.0 198.0L391.0 198.0L390.5 199.0L390.3 200.0L390.1 201.0L390.0 201.4L389.0 201.4L388.0 202.0L388.0 202.0L387.8 203.0L387.8 204.0L387.7 205.0L387.6 206.0L387.5 207.0L387.6 208.0L388.0 209.0L388.0 209.3L388.1 210.0L388.0 210.9L388.0 211.0L388.0 211.0L389.0 211.9L390.0 211.7L390.6 211.0L391.0 210.1L391.0 210.0L391.6 209.0L392.0 208.3L392.4 208.0L393.0 207.3L394.0 207.6L394.4 208.0L395.0 208.3L395.7 209.0L396.0 209.2L397.0 209.9L397.1 210.0L398.0 210.4L399.0 210.5L400.0 210.2L400.6 210.0L401.0 209.8L402.0 209.6L402.6 209.0L403.0 208.5L403.3 208.0L403.7 207.0L404.0 206.0L404.0 206.0L404.5 205.0L404.8 204.0L404.3 203.0L404.0 202.6L403.0 202.1L402.0 202.2L401.0 202.4L400.7 202.0L400.2 201.0L400.0 200.8L399.0 200.1L398.2 200.0L398.0 200.0L398.0 200.0L397.0 200.5L396.5 201.0L396.0 201.4L395.2 201.0L395.0 200.8L394.9 200.0L394.7 199.0L394.3 198.0L395.0 198.0L396.0 198.0L397.0 198.0L398.0 198.0L399.0 198.0L400.0 198.0L401.0 198.0L402.0 198.0L403.0 198.0L404.0 198.0L405.0 198.0L406.0 198.0L407.0 198.0L408.0 198.0L409.0 198.0L410.0 198.0L411.0 198.0L411.3 198.0L411.0 198.8L410.9 199.0L410.5 200.0L410.0 201.0L410.0 201.1L409.5 202.0L409.0 203.0L409.0 203.1L408.6 204.0L408.5 205.0L408.5 206.0L408.3 207.0L408.1 208.0L408.0 209.0L408.0 209.0L408.0 209.0L409.0 209.9L409.3 210.0L410.0 210.2L411.0 210.4L412.0 210.7L413.0 210.7L414.0 210.6L415.0 210.2L415.3 210.0L415.8 209.0L416.0 208.4L416.1 208.0L416.5 207.0L416.6 206.0L416.7 205.0L417.0 204.1L417.0 204.0L417.0 203.0L417.0 203.0L416.0 202.5L415.0 202.2L414.9 202.0L414.4 201.0L414.0 200.4L413.8 200.0L413.5 199.0L413.1 198.0L414.0 198.0L415.0 198.0L416.0 198.0L417.0 198.0L418.0 198.0L419.0 198.0L420.0 198.0L421.0 198.0L422.0 198.0L422.0 198.0L422.0 198.0L421.3 199.0L421.0 199.4L420.6 200.0L420.2 201.0L420.0 201.8L419.9 202.0L419.5 203.0L419.6 204.0L420.0 204.8L420.0 205.0L420.3 206.0L420.5 207.0L420.7 208.0L420.9 209.0L421.0 209.1L422.0 209.3L422.8 209.0L423.0 208.9L423.9 208.0L424.0 207.7L424.4 207.0L424.7 206.0L424.9 205.0L425.0 204.6L425.2 204.0L425.2 203.0L425.0 202.5L424.9 202.0L424.6 201.0L424.2 200.0L424.0 199.2L423.9 199.0L423.2 198.0L424.0 198.0L425.0 198.0L426.0 198.0L427.0 198.0L428.0 198.0L429.0 198.0L429.1 198.0L429.0 198.1L428.5 199.0L428.2 200.0L428.3 201.0L428.5 202.0L428.7 203.0L428.4 204.0L428.0 204.2L427.2 205.0L427.0 205.2L426.4 206.0L426.1 207.0L426.0 207.3L425.7 208.0L425.8 209.0L426.0 209.3L426.2 210.0L426.8 211.0L427.0 211.4L427.4 212.0L428.0 212.8L428.3 213.0L429.0 213.3L429.7 213.0L430.0 212.7L430.6 212.0L430.8 211.0L430.7 210.0L430.7 209.0L430.7 208.0L430.7 207.0L430.7 206.0L430.7 205.0L430.8 204.0L431.0 203.7L431.3 203.0L431.6 202.0L431.7 201.0L431.7 200.0L431.6 199.0L431.0 198.1L430.9 198.0L431.0 198.0L432.0 198.0L433.0 198.0L434.0 198.0L435.0 198.0L436.0 198.0L437.0 198.0L438.0 198.0L439.0 198.0L440.0 198.0L441.0 198.0L442.0 198.0L443.0 198.0L444.0 198.0L445.0 198.0L446.0 198.0L447.0 198.0L448.0 198.0L449.0 198.0L450.0 198.0L451.0 198.0L452.0 198.0L453.0 198.0L454.0 198.0L455.0 198.0L456.0 198.0L457.0 198.0L458.0 198.0L459.0 198.0L460.0 198.0L461.0 198.0L462.0 198.0L463.0 198.0L464.0 198.0L465.0 198.0L466.0 198.0L467.0 198.0L468.0 198.0L469.0 198.0L470.0 198.0L471.0 198.0L472.0 198.0L473.0 198.0L474.0 198.0L475.0 198.0L476.0 198.0L477.0 198.0L478.0 198.0L479.0 198.0L480.0 198.0L481.0 198.0L482.0 198.0L483.0 198.0L484.0 198.0L485.0 198.0L485.0 199.0L485.0 200.0L485.0 201.0L485.0 202.0L485.0 203.0L485.0 204.0L485.0 205.0L485.0 206.0L485.0 207.0L485.0 208.0L485.0 209.0L485.0 210.0L485.0 211.0L485.0 212.0L485.0 213.0L485.0 214.0L485.0 215.0L485.0 216.0L485.0 217.0L485.0 218.0L485.0 219.0L485.0 220.0L485.0 221.0L485.0 222.0L485.0 223.0L485.0 224.0L485.0 225.0L485.0 226.0L485.0 226.9L485.0 227.9L485.0 228.9L485.0 229.9L485.0 230.9L485.0 231.9L485.0 232.9L485.0 233.9L485.0 234.9L485.0 235.9L485.0 236.9L485.0 237.9L485.0 238.9L485.0 239.9L485.0 240.9L485.0 241.9L485.0 242.9L485.0 243.9L485.0 244.9L485.0 245.9L485.0 246.9L485.0 247.9L485.0 248.9L485.0 249.9L485.0 250.9L485.0 251.9L485.0 252.9L485.0 253.9L485.0 254.9L485.0 255.9L485.0 256.9L485.0 257.9L485.0 258.9L485.0 259.9L485.0 260.9L485.0 261.9L485.0 262.9L485.0 263.9L485.0 264.9L485.0 265.9L485.0 266.9L485.0 267.9L485.0 268.9L485.0 269.9L485.0 270.9L485.0 271.9L485.0 272.9L485.0 273.9L485.0 274.9L485.0 275.9L485.0 276.9L485.0 277.9L485.0 278.9L485.0 279.9L485.0 280.9L485.0 281.9L485.0 282.9L485.0 283.8L485.0 284.8L485.0 285.8L485.0 286.8L485.0 287.8L485.0 288.8L485.0 289.8L485.0 290.8L485.0 291.8L485.0 292.8L485.0 293.8L485.0 294.8L485.0 295.8L485.0 296.8L485.0 297.8L485.0 298.8L485.0 299.8L485.0 300.8L485.0 301.8L485.0 302.8L485.0 303.8L485.0 304.8L485.0 305.8L485.0 306.8L485.0 307.8L485.0 308.8L485.0 309.8L485.0 310.8L485.0 311.8L485.0 312.8L485.0 313.8L485.0 314.8L485.0 315.8L485.0 316.8L485.0 317.8L485.0 318.8L485.0 319.8L485.0 320.8L485.0 321.8L485.0 322.8L485.0 323.8L485.0 324.8L485.0 325.8L485.0 326.8L485.0 327.8L485.0 328.8L485.0 329.8L485.0 330.8L485.0 331.8L485.0 332.8L485.0 333.8L485.0 334.8L485.0 335.8L485.0 336.8L485.0 337.8L485.0 338.8L485.0 339.7L485.0 340.7L485.0 341.7L485.0 342.7L485.0 343.7L485.0 344.7L485.0 345.7L485.0 346.7L485.0 347.7L485.0 348.7L485.0 349.7L485.0 350.7L485.0 351.7L485.0 352.7L485.0 353.7L485.0 354.7L485.0 355.7L485.0 356.7L485.0 357.7L485.0 358.7L485.0 359.7L485.0 360.7L485.0 361.7L485.0 362.7L485.0 363.7L485.0 364.7L485.0 365.7L485.0 366.7L485.0 367.7L484.0 367.7L483.0 367.7L482.0 367.7L481.0 367.7L480.0 367.7L479.0 367.7L478.0 367.7L477.0 367.7L476.0 367.7L475.0 367.7L474.0 367.7L473.0 367.7L472.0 367.7L471.0 367.7L470.0 367.7L469.0 367.7L468.0 367.7L467.0 367.7L466.0 367.7L465.0 367.7L464.0 367.7L463.0 367.7L462.0 367.7L461.0 367.7L460.0 367.7L459.0 367.7L458.0 367.7L457.0 367.7L456.0 367.7L455.0 367.7L454.0 367.7L453.0 367.7L452.0 367.7L451.0 367.7L450.0 367.7L449.0 367.7L448.0 367.7L447.0 367.7L446.0 367.7L445.0 367.7L444.0 367.7L443.0 367.7L442.0 367.7L441.0 367.7L440.0 367.7L439.0 367.7L438.0 367.7L437.0 367.7L436.0 367.7L435.0 367.7L434.0 367.7L433.0 367.7L432.0 367.7L431.0 367.7L430.0 367.7L429.0 367.7L428.0 367.7L427.0 367.7L426.0 367.7L425.0 367.7L424.0 367.7L423.0 367.7L422.0 367.7L421.0 367.7L420.0 367.7L419.0 367.7L418.0 367.7L417.0 367.7L416.0 367.7L415.0 367.7L414.0 367.7L413.0 367.7L412.0 367.7L411.0 367.7L410.0 367.7L409.0 367.7L408.0 367.7L407.0 367.7L406.0 367.7L405.0 367.7L404.0 367.7L403.0 367.7L402.0 367.7L401.0 367.7L400.0 367.7L399.0 367.7L398.0 367.7L397.0 367.7L396.0 367.7L395.0 367.7L394.0 367.7L393.0 367.7L392.0 367.7L391.0 367.7L390.0 367.7L389.0 367.7L388.0 367.7L387.0 367.7L386.0 367.7L385.0 367.7L384.0 367.7L383.0 367.7L382.0 367.7L381.0 367.7L380.0 367.7L379.0 367.7L378.0 367.7L377.0 367.7L376.0 367.7L375.0 367.7L374.0 367.7L373.0 367.7L372.0 367.7L371.0 367.7L370.0 367.7L369.0 367.7L368.0 367.7L367.0 367.7L366.0 367.7L365.0 367.7L364.0 367.7L363.0 367.7L362.0 367.7L361.0 367.7L360.0 367.7L359.0 367.7L358.0 367.7L357.0 367.7L356.0 367.7L355.0 367.7L354.0 367.7L353.0 367.7L352.0 367.7L351.0 367.7L350.0 367.7L349.0 367.7L348.0 367.7L347.0 367.7L346.0 367.7L345.0 367.7L344.0 367.7L343.0 367.7L342.0 367.7L341.0 367.7L340.0 367.7L339.0 367.7L338.0 367.7L337.9 367.7L338.0 367.5L338.4 366.7L338.4 365.7L338.2 364.7L338.0 364.0L337.9 363.7L337.4 362.7L337.0 362.3L336.0 362.7L336.0 362.7L335.7 363.7L335.3 364.7L335.0 365.1L334.7 365.7L334.3 366.7L334.2 367.7L334.0 367.7L333.0 367.7L332.0 367.7L331.7 367.7L331.4 366.7L331.0 366.0L330.0 366.1L329.3 366.7L329.2 367.7L329.0 367.7L328.0 367.7L327.0 367.7L326.0 367.7L325.0 367.7L324.0 367.7L323.0 367.7L322.0 367.7L321.0 367.7L320.4 367.7L321.0 366.7L320.9 365.7L320.2 364.7L320.0 364.6L319.8 364.7L319.1 365.7L319.0 366.5L319.0 366.7L319.0 367.0L319.2 367.7L319.0 367.7L318.0 367.7L317.0 367.7L316.0 367.7L315.0 367.7L314.0 367.7L313.0 367.7L312.0 367.7L311.0 367.7L310.0 367.7L310.0 366.7L310.0 365.7L310.0 364.7L310.0 363.7L310.0 362.7L310.0 361.7L310.0 360.7L310.0 359.7L310.0 358.7L310.0 357.7L310.0 356.7L310.0 355.7L310.0 354.7L310.0 353.7L310.0 352.7L310.0 351.7L310.0 350.7L310.0 349.7L310.0 348.7L310.0 347.7L310.0 346.7L310.0 345.7L310.0 344.7L310.0 343.7L310.0 342.7L310.0 341.7L310.0 340.7L310.0 339.7L310.0 338.8L310.0 337.8L310.0 336.8L310.0 335.8L310.0 334.8L310.0 333.8L310.0 332.8L310.0 331.8L310.0 330.8L310.0 329.8L310.0 328.8L310.0 327.8L310.0 326.8L310.0 325.8L310.0 324.8L310.0 323.8L310.0 322.8L310.0 321.8L310.0 320.8L310.0 319.8L310.0 318.8L310.0 317.8L310.0 316.8L310.0 315.8L310.0 314.8L310.0 313.8L310.0 312.8L310.0 311.8L310.0 310.8L310.0 309.8L310.0 308.8L310.0 307.8L310.0 306.8L310.0 305.8L310.0 304.8L310.0 303.8L310.0 302.8L310.0 301.8L310.0 300.8L310.0 299.8L310.0 298.8L310.0 297.8L310.0 296.8L310.0 295.8L310.0 294.8L310.0 293.8L310.0 292.8L310.0 291.8L310.0 290.8L310.0 289.8L310.0 288.8L310.0 287.8L310.0 286.8L310.0 285.8L310.0 284.8L310.0 283.8L310.0 282.9L310.0 281.9L310.0 280.9L310.0 279.9L310.0 278.9L310.0 277.9L310.0 276.9L310.0 275.9L310.0 274.9L310.0 273.9L310.0 272.9L310.0 271.9L310.0 270.9L310.0 269.9L310.0 268.9L310.0 267.9L310.0 266.9L310.0 265.9L310.0 264.9L310.0 263.9L310.0 262.9L310.0 261.9L310.0 260.9L310.0 259.9L310.0 258.9L310.0 257.9L310.0 256.9L310.0 255.9L310.0 254.9L310.0 253.9L310.0 252.9L310.0 251.9L310.0 250.9L310.0 249.9L310.0 248.9L310.0 247.9L310.0 246.9L310.0 245.9L310.0 244.9L310.0 243.9L310.0 242.9L310.0 241.9L310.0 240.9L310.0 239.9L310.0 238.9L310.0 237.9L310.0 236.9L310.0 235.9L310.0 234.9L310.0 233.9L310.0 232.9L310.0 231.9L310.0 230.9L310.0 229.9L310.0 228.9L310.0 227.9L310.0 226.9L310.0 226.0L310.0 225.0L310.0 224.0L310.0 223.0L310.0 222.0L310.0 221.0L310.0 220.0L310.0 219.0L310.0 218.0L310.0 217.0L310.0 216.0L310.0 215.0L310.0 214.0L310.0 213.0L310.0 212.0L310.0 211.0L310.0 210.0L310.0 209.0L310.0 208.0L310.0 207.0L310.0 206.0L310.0 205.0L310.0 204.0L310.0 203.0L310.0 202.0L310.0 201.0L310.0 200.0L310.0 199.0L310.0 198.0ZM368.6 199.0L368.0 199.6L367.9 200.0L367.5 201.0L367.3 202.0L367.1 203.0L367.2 204.0L367.7 205.0L368.0 205.3L369.0 205.5L369.6 205.0L370.0 204.2L370.2 204.0L370.6 203.0L370.9 202.0L370.8 201.0L370.1 200.0L370.0 199.8L369.2 199.0L369.0 198.7ZM348.8 202.0L349.0 202.1L350.0 202.9L350.2 202.0L350.0 201.8L349.0 201.6ZM437.4 202.0L437.6 203.0L437.8 204.0L438.0 204.6L438.5 205.0L439.0 205.6L439.3 205.0L439.2 204.0L439.0 203.2L438.8 203.0L438.2 202.0L438.0 201.7ZM467.3 212.0L468.0 212.9L468.0 212.0L468.0 211.4ZM324.8 362.7L324.3 363.7L324.1 364.7L324.2 365.7L324.4 366.7L325.0 367.5L326.0 367.7L327.0 367.2L327.7 366.7L327.8 365.7L327.4 364.7L327.0 363.9L326.9 363.7L326.4 362.7L326.0 362.4L325.0 362.5ZM312.5 364.7L312.4 365.7L312.8 366.7L313.0 366.9L314.0 366.9L315.0 366.9L316.0 367.2L316.4 366.7L316.4 365.7L316.1 364.7L316.0 364.6L315.0 364.6L314.0 364.0L313.0 363.8ZM333.0 204.6L333.4 205.0L333.1 206.0L333.0 206.0L332.9 206.0L332.5 205.0Z" fill="#0000ff" fill-rule="evenodd" stroke="#000" stroke-width="0.55" stroke-opacity="0.85"/>
<path d="M469.0 199.3L470.0 199.3L471.0 199.3L471.7 200.0L471.7 201.0L471.7 202.0L471.7 203.0L471.7 204.0L471.6 205.0L471.6 206.0L471.6 207.0L471.6 208.0L471.6 209.0L471.6 210.0L471.6 211.0L471.7 212.0L471.7 213.0L472.0 214.0L472.0 214.0L473.0 214.4L474.0 214.7L474.7 215.0L475.0 215.2L476.0 215.4L477.0 215.6L478.0 215.7L479.0 215.8L480.0 215.9L481.0 215.6L482.0 215.3L483.0 215.0L484.0 215.0L485.0 215.3L485.0 216.0L485.0 217.0L485.0 218.0L485.0 219.0L485.0 220.0L485.0 221.0L485.0 222.0L485.0 223.0L485.0 224.0L485.0 225.0L485.0 226.0L485.0 226.9L485.0 227.9L485.0 228.9L485.0 229.9L485.0 230.9L485.0 231.9L485.0 232.9L485.0 233.9L485.0 234.9L485.0 235.9L485.0 236.9L485.0 237.9L485.0 238.9L485.0 239.9L485.0 240.9L485.0 241.9L485.0 242.9L485.0 243.9L485.0 244.9L485.0 245.9L485.0 246.9L485.0 247.9L485.0 248.9L485.0 249.9L485.0 250.9L485.0 251.9L485.0 252.9L485.0 253.9L485.0 254.9L485.0 255.9L485.0 256.9L485.0 257.9L485.0 258.9L485.0 259.9L485.0 260.9L485.0 261.9L485.0 262.9L485.0 263.9L485.0 264.9L485.0 265.9L485.0 266.9L485.0 267.9L485.0 268.9L485.0 269.9L485.0 270.9L485.0 271.9L485.0 272.9L485.0 273.9L485.0 274.9L485.0 275.9L485.0 276.9L485.0 277.9L485.0 278.9L485.0 279.9L485.0 280.9L485.0 281.9L485.0 282.9L485.0 283.8L485.0 284.8L485.0 285.8L485.0 286.8L485.0 287.8L485.0 288.8L485.0 289.8L485.0 290.8L485.0 291.8L485.0 292.8L485.0 293.8L485.0 294.8L485.0 295.8L485.0 296.8L485.0 297.8L485.0 298.8L485.0 299.8L485.0 300.8L485.0 301.8L485.0 302.8L485.0 303.8L485.0 304.7L484.5 304.8L484.8 305.8L484.8 306.8L484.6 307.8L484.5 308.8L484.6 309.8L485.0 310.8L485.0 310.8L485.0 311.8L485.0 312.8L485.0 313.8L485.0 314.8L485.0 315.8L485.0 316.8L485.0 317.8L485.0 318.8L485.0 319.8L485.0 320.8L485.0 321.8L485.0 322.8L485.0 323.8L485.0 324.8L485.0 325.8L485.0 326.8L485.0 327.8L485.0 328.8L485.0 329.8L485.0 330.8L485.0 331.8L485.0 332.8L485.0 333.8L485.0 334.8L485.0 335.8L485.0 336.8L485.0 337.8L485.0 338.8L485.0 339.7L485.0 340.7L485.0 341.7L485.0 342.7L485.0 343.7L485.0 344.7L485.0 345.7L485.0 346.7L485.0 347.7L485.0 348.7L485.0 349.7L485.0 350.7L485.0 351.7L485.0 352.7L485.0 353.7L485.0 354.7L485.0 355.3L484.9 355.7L485.0 356.7L485.0 356.9L485.0 357.7L485.0 358.7L485.0 359.7L485.0 360.1L484.0 360.6L483.0 360.5L482.0 359.9L481.0 360.1L480.0 360.2L479.0 360.1L478.0 360.1L477.0 360.2L476.0 360.3L475.0 360.1L474.0 359.9L473.4 359.7L473.0 359.4L472.7 359.7L472.0 360.0L471.4 360.7L471.0 361.1L470.0 361.2L469.0 361.1L468.6 360.7L468.0 359.7L467.0 359.8L466.0 360.0L465.0 360.1L464.0 360.2L463.0 360.4L462.0 360.7L461.9 360.7L461.0 361.0L460.0 361.0L459.0 360.9L458.0 360.8L457.0 360.9L456.0 361.1L455.0 361.3L454.0 361.2L453.0 360.9L452.5 360.7L452.0 360.5L451.0 360.4L450.0 360.6L449.3 360.7L449.0 360.8L448.0 360.8L447.4 360.7L447.0 360.7L446.0 360.5L445.0 360.6L444.0 360.7L443.8 360.7L443.0 360.9L442.0 361.0L441.0 360.8L440.1 360.7L440.0 360.7L439.1 360.7L439.0 360.7L439.0 360.7L438.0 360.7L437.8 360.7L437.0 360.9L436.0 361.2L435.0 361.3L434.0 361.2L433.0 361.0L432.0 360.8L431.0 360.9L430.0 360.9L429.0 360.7L428.6 360.7L428.0 360.7L427.4 360.7L427.0 360.7L426.0 360.8L425.0 360.8L424.0 360.8L423.0 361.0L422.0 361.1L421.0 361.2L420.0 361.3L419.0 361.2L418.0 361.1L417.0 361.0L416.0 361.0L415.0 360.9L414.0 360.9L413.0 360.8L412.0 360.8L411.1 360.7L411.0 360.7L410.9 360.7L410.0 360.8L409.0 360.8L408.0 360.8L407.0 360.9L406.0 361.0L405.0 361.1L404.0 360.9L403.0 360.9L402.0 361.0L401.0 361.2L400.0 361.0L399.1 360.7L399.0 360.7L398.0 360.5L397.0 360.3L396.0 360.4L395.2 360.7L395.0 360.8L394.0 361.4L393.0 361.5L392.0 361.3L391.0 360.9L390.0 360.8L389.0 361.0L388.0 361.2L387.0 361.1L386.0 360.8L385.7 360.7L385.0 360.5L384.0 360.5L383.0 360.6L382.3 360.7L382.0 360.8L381.0 360.7L380.6 360.7L380.0 360.7L379.0 360.7L378.4 360.7L378.0 360.8L377.0 361.0L376.0 361.0L375.0 361.0L374.0 360.9L373.4 360.7L373.0 360.6L372.0 360.6L371.2 360.7L371.0 360.8L370.0 360.9L369.0 360.8L368.7 360.7L368.0 360.6L367.0 360.3L366.0 360.1L365.0 360.2L364.0 360.6L363.1 360.7L363.0 360.7L362.0 360.8L361.0 361.1L360.0 361.1L359.0 361.0L358.0 361.0L357.0 360.8L356.8 360.7L356.0 360.6L355.0 360.4L354.0 360.1L353.0 360.2L352.0 360.2L351.0 360.2L350.0 360.3L349.0 360.6L348.0 360.7L347.0 360.7L346.0 360.5L345.0 360.6L344.0 360.7L343.2 360.7L343.0 360.7L342.0 360.8L341.0 360.8L340.6 360.7L340.0 360.6L339.0 360.3L338.1 359.7L338.0 359.6L337.0 358.9L336.0 359.5L335.5 359.7L335.0 359.8L334.8 359.7L334.0 358.7L334.1 357.7L334.2 356.7L334.3 355.7L334.4 354.7L334.6 353.7L334.6 352.7L334.4 351.7L334.3 350.7L334.3 349.7L334.4 348.7L334.5 347.7L334.4 346.7L335.0 346.1L335.3 346.7L335.8 347.7L336.0 348.1L336.5 348.7L337.0 349.3L337.1 348.7L337.3 347.7L337.5 346.7L337.7 345.7L337.8 344.7L337.8 343.7L337.8 342.7L337.8 341.7L337.9 340.7L338.0 339.8L338.0 339.7L338.0 338.8L338.1 337.8L338.1 336.8L338.1 335.8L338.2 334.8L338.4 333.8L338.5 332.8L338.4 331.8L338.3 330.8L338.2 329.8L338.1 328.8L338.0 327.8L338.0 327.1L337.9 326.8L337.4 325.8L337.0 325.2L336.8 324.8L336.6 323.8L336.8 322.8L336.9 321.8L336.8 320.8L337.0 320.0L337.4 319.8L338.0 318.9L338.0 318.8L338.0 318.7L337.4 317.8L337.0 317.4L336.5 316.8L336.0 315.9L336.0 315.8L336.0 314.8L335.9 313.8L335.6 312.8L335.2 311.8L335.0 310.8L335.2 309.8L335.1 308.8L335.0 308.6L334.0 308.4L333.9 308.8L334.0 308.8L334.6 309.8L335.0 310.8L334.7 311.8L334.0 312.7L333.0 312.8L333.0 312.8L333.0 312.8L332.0 312.1L331.0 312.0L330.9 312.8L330.8 313.8L330.7 314.8L330.6 315.8L330.4 316.8L330.3 317.8L330.2 318.8L330.2 319.8L330.1 320.8L330.1 321.8L330.2 322.8L330.3 323.8L330.4 324.8L330.4 325.8L330.6 326.8L330.7 327.8L330.7 328.8L330.8 329.8L330.8 330.8L330.9 331.8L331.0 332.8L331.0 333.1L331.1 333.8L331.7 334.8L332.0 335.2L332.3 335.8L332.6 336.8L332.6 337.8L332.4 338.8L332.0 339.7L332.0 339.7L331.3 340.7L331.7 341.7L332.0 342.0L332.2 342.7L332.4 343.7L332.5 344.7L332.5 345.7L332.2 346.7L332.0 347.1L331.0 347.1L330.9 347.7L330.8 348.7L330.8 349.7L330.8 350.7L330.9 351.7L330.9 352.7L330.9 353.7L331.0 354.7L331.0 355.7L331.0 356.7L331.0 356.7L331.0 357.7L331.0 357.7L330.9 358.7L330.7 359.7L330.0 360.7L329.9 360.7L329.0 360.8L328.7 360.7L328.0 360.6L327.1 359.7L327.0 359.5L326.6 358.7L326.4 357.7L326.4 356.7L326.3 355.7L326.5 354.7L326.8 353.7L327.0 353.3L327.1 352.7L327.3 351.7L327.4 350.7L327.5 349.7L327.6 348.7L327.6 347.7L327.7 346.7L327.7 345.7L327.6 344.7L327.6 343.7L327.5 342.7L327.5 341.7L327.5 340.7L327.5 339.7L327.5 338.8L327.5 337.8L327.6 336.8L327.6 335.8L327.6 334.8L327.5 333.8L327.3 332.8L327.2 331.8L327.1 330.8L327.0 330.0L327.0 329.8L327.0 328.8L327.0 328.4L327.0 327.8L327.1 326.8L327.2 325.8L327.3 324.8L327.4 323.8L327.4 322.8L327.4 321.8L327.3 320.8L327.2 319.8L327.0 318.8L327.0 318.7L326.8 317.8L326.6 316.8L326.5 315.8L326.4 314.8L326.3 313.8L326.3 312.8L326.4 311.8L326.5 310.8L326.6 309.8L326.7 308.8L326.8 307.8L326.8 306.8L326.5 305.8L326.2 304.8L326.2 303.8L326.6 302.8L327.0 301.8L326.9 300.8L326.8 299.8L326.8 298.8L326.9 297.8L326.9 296.8L327.0 295.8L326.9 294.8L326.7 293.8L326.6 292.8L326.6 291.8L326.6 290.8L326.7 289.8L326.8 288.8L326.9 287.8L327.0 287.1L327.0 286.8L327.1 285.8L327.1 284.8L327.1 283.8L327.1 282.9L327.1 281.9L327.0 280.9L327.0 280.6L326.9 279.9L326.8 278.9L326.8 277.9L326.7 276.9L326.6 275.9L326.5 274.9L326.5 273.9L326.6 272.9L326.9 271.9L327.0 271.7L327.2 270.9L327.4 269.9L327.5 268.9L327.5 267.9L327.4 266.9L327.3 265.9L327.2 264.9L327.1 263.9L327.0 263.2L327.0 262.9L327.0 262.5L327.0 261.9L327.2 260.9L327.2 259.9L327.1 258.9L327.1 257.9L327.1 256.9L327.0 255.9L327.0 255.6L326.9 254.9L326.7 253.9L326.2 252.9L326.0 252.3L325.0 252.7L324.4 252.9L324.0 253.1L323.8 252.9L323.8 251.9L324.0 251.0L324.0 250.9L324.5 249.9L325.0 249.1L326.0 249.2L326.1 248.9L326.2 247.9L326.2 246.9L326.2 245.9L326.3 244.9L326.4 243.9L326.5 242.9L326.5 241.9L326.5 240.9L326.5 239.9L326.5 238.9L326.5 237.9L326.6 236.9L326.7 235.9L326.8 234.9L326.8 233.9L326.9 232.9L327.0 232.4L327.1 231.9L327.2 230.9L327.3 229.9L327.4 228.9L327.4 227.9L327.3 226.9L327.3 226.0L327.2 225.0L327.2 224.0L327.2 223.0L327.2 222.0L327.2 221.0L327.1 220.0L327.0 219.0L327.0 218.9L326.9 218.0L326.9 217.0L327.0 216.1L327.0 216.0L327.3 215.0L328.0 214.4L329.0 214.5L330.0 214.9L330.1 215.0L330.4 216.0L330.5 217.0L330.6 218.0L330.7 219.0L330.8 220.0L330.8 221.0L330.9 222.0L331.0 223.0L331.0 223.2L332.0 223.3L332.9 224.0L333.0 224.0L333.5 225.0L334.0 226.0L334.0 226.0L334.9 226.9L335.0 227.1L335.8 227.9L335.7 228.9L335.0 229.4L334.5 229.9L334.0 230.4L333.6 230.9L333.0 231.9L333.0 232.0L332.7 232.9L332.3 233.9L332.0 234.9L332.0 234.9L331.8 235.9L331.8 236.9L331.9 237.9L331.9 238.9L331.9 239.9L332.0 240.8L332.0 240.9L332.1 241.9L332.1 242.9L332.1 243.9L332.2 244.9L332.4 245.9L332.4 246.9L332.2 247.9L332.0 248.5L331.7 248.9L331.0 249.8L331.0 249.9L330.9 250.9L330.7 251.9L330.5 252.9L330.3 253.9L330.1 254.9L330.2 255.9L330.3 256.9L330.4 257.9L330.4 258.9L330.3 259.9L330.2 260.9L330.2 261.9L330.2 262.9L330.2 263.9L330.2 264.9L330.2 265.9L330.2 266.9L330.2 267.9L330.2 268.9L330.2 269.9L330.2 270.9L330.3 271.9L330.3 272.9L330.4 273.9L330.4 274.9L330.4 275.9L330.4 276.9L330.4 277.9L330.4 278.9L330.5 279.9L330.7 280.9L330.8 281.9L330.8 282.9L330.8 283.8L330.8 284.8L330.9 285.8L330.9 286.8L331.0 287.8L331.0 288.3L332.0 288.7L332.1 288.8L332.0 289.1L331.7 289.8L331.0 290.8L331.0 290.8L331.0 291.0L331.1 291.8L331.4 292.8L331.0 293.8L331.0 293.9L331.0 294.8L331.0 295.8L330.9 296.8L330.8 297.8L330.7 298.8L330.7 299.8L330.6 300.8L330.5 301.8L330.5 302.8L330.7 303.8L330.8 304.8L330.9 305.8L331.0 306.8L331.0 307.8L331.0 308.8L331.0 309.2L331.2 308.8L331.5 307.8L332.0 307.6L332.2 307.8L333.0 308.3L333.9 307.8L333.9 306.8L333.9 305.8L334.0 304.8L334.0 304.8L334.3 303.8L334.8 302.8L335.0 302.6L335.3 301.8L335.8 300.8L336.0 300.4L336.1 299.8L336.0 298.8L336.0 298.8L335.0 297.9L334.0 298.3L333.8 297.8L333.5 296.8L333.4 295.8L333.4 294.8L333.3 293.8L333.1 292.8L333.4 291.8L334.0 291.3L334.1 291.8L334.3 292.8L334.5 293.8L334.6 294.8L334.9 295.8L335.0 296.0L335.9 296.8L336.0 296.9L336.0 296.8L337.0 296.3L337.3 295.8L338.0 294.9L338.0 294.8L338.3 293.8L338.5 292.8L338.7 291.8L338.8 290.8L338.7 289.8L338.6 288.8L338.4 287.8L338.2 286.8L338.0 286.1L337.9 285.8L337.5 284.8L337.3 283.8L337.2 282.9L337.3 281.9L337.4 280.9L337.6 279.9L337.8 278.9L337.9 277.9L337.9 276.9L337.7 275.9L337.7 274.9L337.8 273.9L337.9 272.9L338.0 271.9L338.0 270.9L338.0 269.9L338.0 269.7L338.0 268.9L338.1 267.9L338.1 266.9L338.2 265.9L338.3 264.9L338.4 263.9L338.5 262.9L338.4 261.9L338.3 260.9L338.2 259.9L338.2 258.9L338.3 257.9L338.3 256.9L338.3 255.9L338.2 254.9L338.1 253.9L338.0 252.9L338.0 252.9L337.8 251.9L337.5 250.9L337.3 249.9L337.2 248.9L337.2 247.9L337.1 246.9L337.0 246.5L336.0 246.4L335.9 245.9L335.8 244.9L336.0 244.3L336.4 243.9L337.0 243.7L337.1 242.9L337.4 241.9L337.5 240.9L337.5 239.9L337.6 238.9L337.7 237.9L337.7 236.9L337.7 235.9L337.6 234.9L337.5 233.9L337.5 232.9L337.6 231.9L337.5 230.9L337.4 229.9L337.4 228.9L337.6 227.9L337.9 226.9L338.0 226.8L338.1 226.0L338.2 225.0L338.2 224.0L338.3 223.0L338.4 222.0L338.4 221.0L338.4 220.0L338.4 219.0L338.4 218.0L338.4 217.0L338.5 216.0L339.0 215.3L340.0 215.1L341.0 215.2L341.8 215.0L342.0 214.9L343.0 214.8L343.7 215.0L344.0 215.0L345.0 215.3L346.0 215.3L347.0 215.6L348.0 215.9L348.7 216.0L349.0 216.0L349.1 216.0L350.0 215.1L350.1 215.0L351.0 214.1L352.0 214.0L352.7 214.0L353.0 213.9L354.0 213.8L355.0 214.0L355.0 214.0L356.0 214.2L357.0 214.2L358.0 214.2L359.0 214.4L360.0 214.8L361.0 214.9L362.0 214.8L363.0 214.9L363.3 215.0L364.0 215.1L365.0 215.3L366.0 215.4L367.0 215.5L368.0 215.6L369.0 215.8L370.0 215.8L371.0 215.8L371.8 216.0L372.0 216.0L373.0 216.3L374.0 216.2L375.0 216.2L375.8 216.0L376.0 215.9L377.0 215.6L378.0 215.3L378.5 215.0L379.0 214.7L380.0 214.1L380.5 214.0L381.0 213.7L382.0 213.6L382.6 214.0L383.0 214.1L384.0 214.3L385.0 214.4L386.0 214.4L387.0 214.5L388.0 214.4L389.0 214.2L390.0 214.0L390.2 214.0L391.0 213.9L392.0 213.8L393.0 213.8L393.4 214.0L394.0 214.3L395.0 214.6L396.0 214.4L397.0 214.1L398.0 214.0L399.0 214.2L400.0 214.4L401.0 214.7L401.7 215.0L402.0 215.1L403.0 215.7L403.7 216.0L404.0 216.2L404.6 216.0L405.0 215.8L406.0 215.6L407.0 215.5L408.0 215.2L408.5 215.0L409.0 214.7L410.0 214.6L411.0 214.6L412.0 214.5L413.0 214.4L414.0 214.3L415.0 214.3L416.0 214.3L417.0 214.4L418.0 214.6L419.0 214.5L420.0 214.5L421.0 214.5L422.0 214.6L423.0 214.5L424.0 214.5L425.0 214.8L425.2 215.0L426.0 215.4L427.0 215.7L428.0 215.8L429.0 215.8L430.0 215.8L431.0 215.6L432.0 215.4L433.0 215.3L434.0 215.2L435.0 215.3L436.0 215.2L436.7 215.0L437.0 214.9L438.0 214.7L439.0 214.6L440.0 214.6L441.0 214.6L442.0 214.6L443.0 214.6L444.0 214.7L445.0 214.9L446.0 214.9L446.9 215.0L447.0 215.0L448.0 215.0L448.0 215.0L449.0 214.7L450.0 214.4L451.0 214.2L451.8 214.0L452.0 213.9L453.0 214.0L453.0 214.0L454.0 214.1L455.0 214.4L456.0 214.9L456.1 215.0L457.0 215.4L457.7 216.0L458.0 216.2L459.0 216.6L460.0 216.5L461.0 216.4L462.0 216.1L462.5 216.0L463.0 215.9L464.0 215.8L465.0 215.6L466.0 215.5L467.0 215.1L467.4 215.0L468.0 214.8L468.3 214.0L468.5 213.0L468.5 212.0L468.4 211.0L468.4 210.0L468.4 209.0L468.4 208.0L468.5 207.0L468.4 206.0L468.4 205.0L468.4 204.0L468.4 203.0L468.3 202.0L468.3 201.0L468.3 200.0ZM478.3 257.9L478.3 258.9L478.6 259.9L478.9 260.9L479.0 261.0L480.0 260.9L480.0 260.8L480.1 259.9L480.0 258.9L480.0 258.8L479.6 257.9L479.0 256.9ZM480.7 289.8L480.5 290.8L480.6 291.8L480.8 292.8L481.0 293.8L481.3 292.8L481.8 291.8L482.0 291.1L482.1 290.8L482.0 290.3L481.9 289.8L481.0 289.0ZM481.5 303.8L481.1 304.8L481.7 305.8L482.0 306.0L483.0 306.4L483.4 305.8L483.9 304.8L483.6 303.8L483.0 303.2L482.0 303.3ZM483.7 343.7L483.0 344.4L482.9 344.7L482.9 345.7L483.0 346.0L484.0 346.4L484.6 345.7L484.6 344.7L484.2 343.7L484.0 343.4ZM334.0 279.7L334.1 279.9L334.4 280.9L334.5 281.9L334.4 282.9L334.2 283.8L334.0 284.4L333.3 283.8L333.0 283.3L332.8 282.9L333.0 281.9L333.0 281.8L333.4 280.9L333.9 279.9ZM320.0 301.4L320.2 301.8L320.5 302.8L320.7 303.8L320.8 304.8L320.5 305.8L320.0 306.5L319.9 305.8L319.8 304.8L319.8 303.8L319.8 302.8L319.9 301.8ZM311.0 323.3L311.2 323.8L311.5 324.8L311.5 325.8L311.4 326.8L311.2 327.8L311.0 328.7L310.0 328.6L310.0 327.8L310.0 326.8L310.0 325.8L310.0 324.8L310.0 323.8L310.0 323.4ZM334.0 341.7L334.0 341.7L334.2 342.7L334.1 343.7L334.0 344.7L334.0 345.3L334.0 344.7L333.9 343.7L333.9 342.7L334.0 341.7Z" fill="#1a7ff5" fill-rule="evenodd" stroke="#000" stroke-width="0.55" stroke-opacity="0.85"/>
<path d="M469.0 199.9L470.0 199.9L471.0 199.9L471.1 200.0L471.1 201.0L471.1 202.0L471.1 203.0L471.1 204.0L471.1 205.0L471.1 206.0L471.1 207.0L471.1 208.0L471.1 209.0L471.1 210.0L471.1 211.0L471.1 212.0L471.1 213.0L471.2 214.0L471.3 215.0L472.0 215.8L472.2 216.0L472.4 217.0L472.6 218.0L472.6 219.0L472.6 220.0L472.6 221.0L472.5 222.0L472.5 223.0L472.5 224.0L472.4 225.0L472.3 226.0L472.2 226.9L472.0 227.8L472.0 227.9L471.9 228.9L471.7 229.9L471.7 230.9L471.7 231.9L471.7 232.9L471.7 233.9L471.7 234.9L471.7 235.9L471.8 236.9L471.8 237.9L471.7 238.9L471.7 239.9L471.8 240.9L471.8 241.9L471.8 242.9L471.6 243.9L471.5 244.9L471.4 245.9L471.4 246.9L471.3 247.9L471.2 248.9L471.2 249.9L471.2 250.9L471.2 251.9L471.2 252.9L471.3 253.9L471.4 254.9L471.6 255.9L471.7 256.9L471.7 257.9L471.7 258.9L471.6 259.9L471.6 260.9L471.7 261.9L471.8 262.9L471.9 263.9L472.0 264.9L471.9 265.9L471.9 266.9L471.8 267.9L471.8 268.9L471.8 269.9L471.8 270.9L471.7 271.9L471.6 272.9L471.7 273.9L471.7 274.9L471.7 275.9L471.7 276.9L471.7 277.9L471.7 278.9L471.6 279.9L471.6 280.9L471.7 281.9L471.8 282.9L471.8 283.8L471.8 284.8L471.8 285.8L471.7 286.8L471.7 287.8L471.7 288.8L471.7 289.8L471.8 290.8L471.8 291.8L471.8 292.8L471.9 293.8L472.0 294.3L472.2 294.8L472.4 295.8L472.6 296.8L472.6 297.8L472.5 298.8L472.4 299.8L472.3 300.8L472.1 301.8L472.0 302.2L471.9 302.8L471.7 303.8L471.6 304.8L471.6 305.8L471.6 306.8L471.7 307.8L471.8 308.8L471.8 309.8L471.8 310.8L471.8 311.8L471.8 312.8L471.9 313.8L471.9 314.8L471.8 315.8L471.8 316.8L471.8 317.8L471.7 318.8L471.7 319.8L471.7 320.8L471.7 321.8L471.7 322.8L471.6 323.8L471.6 324.8L471.7 325.8L471.7 326.8L471.8 327.8L471.8 328.8L471.9 329.8L472.0 330.8L471.9 331.8L471.7 332.8L471.6 333.8L471.6 334.8L471.6 335.8L471.7 336.8L471.9 337.8L472.0 338.8L472.0 339.1L472.0 339.7L472.0 340.5L472.0 340.7L472.0 341.7L471.9 342.7L471.9 343.7L471.7 344.7L471.6 345.7L471.5 346.7L471.4 347.7L471.3 348.7L471.2 349.7L471.2 350.7L471.3 351.7L471.3 352.7L471.3 353.7L471.3 354.7L471.2 355.7L471.2 356.7L471.1 357.7L471.0 358.6L471.0 358.7L470.0 359.4L469.0 359.2L468.8 358.7L468.7 357.7L468.7 356.7L468.6 355.7L468.6 354.7L468.6 353.7L468.6 352.7L468.7 351.7L468.7 350.7L468.7 349.7L468.6 348.7L468.6 347.7L468.6 346.7L468.6 345.7L468.5 344.7L468.5 343.7L468.4 342.7L468.4 341.7L468.4 340.7L468.4 339.7L468.4 338.8L468.4 337.8L468.4 336.8L468.5 335.8L468.4 334.8L468.4 333.8L468.4 332.8L468.4 331.8L468.5 330.8L468.5 329.8L468.5 328.8L468.6 327.8L468.6 326.8L468.6 325.8L468.7 324.8L468.7 323.8L468.7 322.8L468.6 321.8L468.5 320.8L468.4 319.8L468.4 318.8L468.4 317.8L468.3 316.8L468.3 315.8L468.2 314.8L468.2 313.8L468.2 312.8L468.3 311.8L468.3 310.8L468.4 309.8L468.4 308.8L468.5 307.8L468.5 306.8L468.5 305.8L468.5 304.8L468.5 303.8L468.5 302.8L468.4 301.8L468.4 300.8L468.5 299.8L468.5 298.8L468.4 297.8L468.4 296.8L468.4 295.8L468.4 294.8L468.4 293.8L468.4 292.8L468.4 291.8L468.3 290.8L468.2 289.8L468.1 288.8L468.1 287.8L468.0 286.8L468.0 285.8L468.1 284.8L468.2 283.8L468.3 282.9L468.4 281.9L468.4 280.9L468.5 279.9L468.5 278.9L468.6 277.9L468.6 276.9L468.5 275.9L468.5 274.9L468.5 273.9L468.6 272.9L468.7 271.9L468.7 270.9L468.7 269.9L468.8 268.9L468.7 267.9L468.7 266.9L468.6 265.9L468.5 264.9L468.4 263.9L468.4 262.9L468.5 261.9L468.5 260.9L468.5 259.9L468.5 258.9L468.5 257.9L468.5 256.9L468.6 255.9L468.7 254.9L468.8 253.9L468.8 252.9L468.8 251.9L468.8 250.9L468.8 249.9L468.7 248.9L468.6 247.9L468.5 246.9L468.5 245.9L468.5 244.9L468.5 243.9L468.5 242.9L468.5 241.9L468.5 240.9L468.5 239.9L468.5 238.9L468.4 237.9L468.4 236.9L468.5 235.9L468.4 234.9L468.4 233.9L468.3 232.9L468.3 231.9L468.4 230.9L468.5 229.9L468.5 228.9L468.5 227.9L468.5 226.9L468.5 226.0L468.6 225.0L468.6 224.0L468.6 223.0L468.6 222.0L468.6 221.0L468.5 220.0L468.5 219.0L468.4 218.0L468.4 217.0L468.5 216.0L469.0 215.1L469.7 215.0L469.0 214.7L468.9 214.0L468.9 213.0L468.9 212.0L468.9 211.0L468.9 210.0L468.9 209.0L468.9 208.0L468.9 207.0L468.9 206.0L468.9 205.0L468.9 204.0L468.9 203.0L468.9 202.0L468.9 201.0L468.9 200.0ZM380.0 216.5L380.4 217.0L380.9 218.0L381.0 218.2L381.8 219.0L382.0 219.1L382.6 219.0L383.0 218.8L384.0 218.0L384.0 218.0L385.0 217.2L385.9 217.0L386.0 216.9L386.0 217.0L386.9 218.0L387.0 218.2L387.7 219.0L388.0 219.5L388.3 220.0L388.7 221.0L389.0 221.8L389.0 222.0L389.4 223.0L389.7 224.0L389.9 225.0L390.0 225.4L390.1 226.0L390.3 226.9L390.5 227.9L390.7 228.9L390.7 229.9L390.6 230.9L390.5 231.9L390.4 232.9L390.4 233.9L390.4 234.9L390.3 235.9L390.2 236.9L390.2 237.9L390.2 238.9L390.2 239.9L390.1 240.9L390.1 241.9L390.2 242.9L390.4 243.9L390.7 244.9L391.0 245.9L391.0 246.0L391.1 246.9L391.2 247.9L391.2 248.9L391.2 249.9L391.3 250.9L391.4 251.9L391.3 252.9L391.2 253.9L391.0 254.3L390.9 254.9L390.7 255.9L390.3 256.9L390.2 257.9L390.4 258.9L390.6 259.9L390.8 260.9L390.9 261.9L390.9 262.9L390.7 263.9L390.4 264.9L390.1 265.9L390.0 266.2L389.8 266.9L389.6 267.9L389.6 268.9L389.7 269.9L389.9 270.9L390.0 271.9L390.0 272.1L390.1 272.9L390.2 273.9L390.5 274.9L390.8 275.9L391.0 276.6L391.1 276.9L391.1 277.9L391.0 278.3L390.9 278.9L390.8 279.9L390.9 280.9L391.0 281.7L391.0 281.9L391.0 282.9L391.0 283.0L390.9 283.8L391.0 284.8L391.0 285.3L391.0 285.8L391.1 286.8L391.3 287.8L391.6 288.8L392.0 289.6L392.3 288.8L392.6 287.8L392.9 286.8L393.0 286.5L393.3 285.8L393.4 284.8L393.4 283.8L393.3 282.9L393.3 281.9L393.3 280.9L393.3 279.9L393.3 278.9L393.2 277.9L393.2 276.9L393.3 275.9L393.5 274.9L393.6 273.9L393.8 272.9L393.9 271.9L393.9 270.9L393.7 269.9L393.5 268.9L393.6 267.9L393.9 266.9L394.0 266.5L395.0 266.1L395.0 265.9L395.0 264.9L395.0 264.7L394.3 264.9L394.0 265.0L393.9 264.9L393.0 264.7L392.2 263.9L392.0 263.5L391.3 262.9L391.3 261.9L391.4 260.9L391.4 259.9L391.7 258.9L392.0 258.1L393.0 258.4L393.7 258.9L394.0 259.3L394.2 258.9L394.5 257.9L394.6 256.9L394.8 255.9L394.9 254.9L395.0 253.9L395.0 253.9L395.2 252.9L396.0 252.2L396.0 251.9L396.2 250.9L396.4 249.9L396.6 248.9L396.8 247.9L397.0 247.2L397.0 246.9L397.2 245.9L397.3 244.9L397.4 243.9L397.5 242.9L397.5 241.9L397.3 240.9L397.0 240.0L397.0 239.9L396.4 238.9L396.7 237.9L397.0 237.6L398.0 237.3L398.1 236.9L398.3 235.9L398.6 234.9L398.9 233.9L399.0 233.4L399.0 232.9L399.1 231.9L399.1 230.9L399.1 229.9L399.0 229.6L398.8 228.9L398.3 227.9L398.0 227.1L397.9 226.9L397.3 226.0L397.0 225.0L397.0 224.8L397.0 224.0L397.0 223.9L397.1 223.0L397.2 222.0L397.2 221.0L397.3 220.0L397.7 219.0L398.0 218.5L398.8 218.0L399.0 217.8L400.0 217.5L401.0 217.0L401.0 217.0L401.0 217.0L402.0 217.5L402.2 218.0L402.7 219.0L403.0 219.7L403.1 220.0L403.7 221.0L404.0 221.4L404.3 221.0L405.0 220.0L405.0 219.9L406.0 219.4L407.0 219.5L407.4 219.0L408.0 218.3L408.2 218.0L409.0 217.0L409.0 216.9L409.1 217.0L410.0 217.3L410.9 218.0L411.0 218.0L412.0 218.1L413.0 218.3L414.0 218.9L415.0 218.4L415.6 218.0L416.0 217.7L416.5 218.0L417.0 218.2L418.0 218.6L419.0 218.2L419.5 218.0L420.0 217.6L421.0 217.4L421.5 218.0L422.0 218.6L423.0 218.6L424.0 218.1L425.0 218.7L425.2 219.0L426.0 219.5L427.0 219.7L428.0 219.3L429.0 219.1L430.0 219.5L430.4 220.0L431.0 220.6L431.7 221.0L432.0 221.1L432.1 221.0L432.8 220.0L433.0 219.7L433.8 219.0L434.0 218.7L434.3 219.0L435.0 219.4L436.0 219.7L437.0 219.6L438.0 219.0L438.6 219.0L439.0 218.9L439.1 219.0L440.0 219.4L441.0 219.6L441.7 220.0L442.0 220.1L442.8 221.0L443.0 221.1L444.0 221.5L444.8 222.0L445.0 222.2L445.6 222.0L446.0 221.9L446.1 222.0L446.4 223.0L446.0 224.0L446.0 224.0L445.5 225.0L445.7 226.0L446.0 226.7L447.0 226.0L447.9 226.0L448.0 225.9L448.0 226.0L449.0 226.9L449.0 227.0L449.3 227.9L449.4 228.9L449.5 229.9L449.7 230.9L449.8 231.9L449.9 232.9L449.9 233.9L449.8 234.9L449.7 235.9L449.4 236.9L449.2 237.9L449.1 238.9L449.3 239.9L450.0 240.9L450.0 240.9L450.4 241.9L450.8 242.9L450.9 243.9L450.9 244.9L450.8 245.9L450.8 246.9L450.8 247.9L450.9 248.9L451.0 249.6L451.0 249.9L451.2 250.9L451.3 251.9L451.4 252.9L451.3 253.9L451.0 254.9L451.0 255.0L450.7 255.9L451.0 256.4L452.0 256.7L453.0 256.4L454.0 256.5L454.2 256.9L454.5 257.9L454.8 258.9L454.8 259.9L454.7 260.9L454.7 261.9L454.6 262.9L454.2 263.9L454.0 264.3L453.4 264.9L453.0 265.2L452.5 264.9L452.0 264.4L451.5 264.9L451.0 265.5L450.2 265.9L450.0 266.1L449.9 266.9L449.8 267.9L449.8 268.9L450.0 269.2L450.3 269.9L450.8 270.9L450.8 271.9L450.6 272.9L450.5 273.9L450.9 274.9L451.0 275.0L451.4 274.9L452.0 274.7L452.2 274.9L452.8 275.9L452.8 276.9L452.9 277.9L453.0 278.1L453.2 278.9L453.3 279.9L453.2 280.9L453.1 281.9L453.1 282.9L453.0 283.0L452.8 283.8L452.5 284.8L452.3 285.8L452.1 286.8L452.0 287.2L451.7 287.8L451.0 288.7L450.6 288.8L450.0 289.0L449.3 289.8L449.0 290.2L448.9 290.8L448.7 291.8L448.7 292.8L448.7 293.8L448.9 294.8L449.0 295.4L449.1 295.8L449.6 296.8L450.0 297.7L450.1 297.8L450.6 298.8L450.9 299.8L451.0 300.6L451.1 300.8L451.4 301.8L451.0 302.8L451.0 302.8L450.7 303.8L450.4 304.8L450.3 305.8L450.4 306.8L450.7 307.8L450.9 308.8L451.0 309.8L450.9 310.8L450.9 311.8L450.9 312.8L450.9 313.8L450.9 314.8L451.0 315.1L451.1 315.8L451.2 316.8L451.2 317.8L451.0 318.8L451.0 318.9L450.9 319.8L451.0 320.0L451.2 320.8L451.5 321.8L451.7 322.8L451.9 323.8L452.0 324.8L452.0 325.8L451.9 326.8L451.9 327.8L451.7 328.8L451.4 329.8L451.1 330.8L451.2 331.8L451.7 332.8L452.0 333.8L452.0 334.8L451.9 335.8L451.8 336.8L451.8 337.8L451.9 338.8L452.0 339.0L452.1 338.8L452.5 337.8L453.0 336.8L453.3 337.8L453.7 338.8L454.0 339.6L454.1 339.7L454.0 340.7L454.0 340.8L453.6 341.7L453.5 342.7L453.5 343.7L453.4 344.7L453.0 345.7L453.0 345.8L452.8 346.7L452.6 347.7L452.3 348.7L452.0 349.4L451.8 349.7L451.0 350.7L451.0 350.8L450.6 351.7L450.3 352.7L450.0 353.7L450.0 353.7L449.9 354.7L450.0 355.7L450.0 356.6L450.0 356.7L450.0 356.7L449.7 357.7L449.0 358.4L448.5 358.7L448.0 358.9L447.0 358.9L446.0 358.8L445.0 359.0L444.0 359.1L443.0 359.2L442.0 359.0L441.1 358.7L441.0 358.7L440.7 358.7L440.0 358.8L439.0 359.1L438.0 359.2L437.0 359.5L436.4 359.7L436.0 359.8L435.0 359.9L434.0 359.9L433.0 359.7L432.9 359.7L432.0 359.5L431.0 359.6L430.0 359.7L429.0 359.6L428.0 359.6L427.0 359.6L426.0 359.6L425.0 359.5L424.0 359.6L423.2 359.7L423.0 359.8L422.0 359.9L421.0 359.9L420.0 359.9L419.0 359.8L418.2 359.7L418.0 359.7L417.0 359.7L416.3 359.7L416.0 359.7L415.9 359.7L415.0 359.6L414.0 359.6L413.0 359.6L412.0 359.7L411.0 359.5L410.0 359.4L409.0 359.3L408.0 359.2L407.0 359.4L406.0 359.4L405.0 359.5L404.0 359.3L403.0 359.2L402.0 359.2L401.0 359.1L400.2 358.7L400.0 358.6L399.0 358.1L398.0 357.7L397.9 357.7L397.0 357.5L396.0 357.6L395.8 357.7L395.0 358.0L394.2 357.7L394.0 357.6L393.5 356.7L393.0 355.7L393.0 355.7L392.9 355.7L392.0 356.5L391.8 356.7L391.0 357.4L390.7 357.7L390.0 358.2L389.0 358.7L389.0 358.7L388.0 358.7L387.0 358.8L386.0 358.8L385.5 358.7L385.0 358.6L384.7 358.7L384.0 358.8L383.0 359.1L382.0 359.3L381.0 359.3L380.0 359.3L379.0 359.3L378.0 359.5L377.0 359.7L376.0 359.6L375.0 359.5L374.0 359.5L373.0 359.3L372.0 359.3L371.0 359.5L370.0 359.6L369.0 359.4L368.0 359.1L367.4 358.7L367.0 358.4L366.0 357.7L366.0 357.7L365.0 357.4L364.6 357.7L364.0 358.2L363.0 358.2L362.0 357.8L361.0 358.7L360.0 358.5L359.0 357.8L358.7 357.7L358.0 357.3L357.7 356.7L357.7 355.7L358.0 355.4L358.8 354.7L359.0 354.6L359.4 353.7L359.6 352.7L359.7 351.7L359.8 350.7L359.9 349.7L360.0 348.9L360.0 348.7L360.1 347.7L360.1 346.7L360.0 345.7L360.2 344.7L360.5 343.7L360.8 342.7L360.8 341.7L360.9 340.7L361.0 340.6L361.1 339.7L361.2 338.8L361.1 337.8L361.0 337.1L360.9 336.8L360.7 335.8L360.7 334.8L360.7 333.8L360.7 332.8L360.7 331.8L360.7 330.8L360.5 329.8L360.2 328.8L360.0 328.0L359.8 327.8L359.0 326.9L358.6 327.8L358.1 328.8L358.0 329.0L357.2 329.8L357.0 330.3L356.6 329.8L356.2 328.8L356.5 327.8L356.9 326.8L357.0 326.3L357.1 325.8L357.2 324.8L357.3 323.8L357.3 322.8L357.5 321.8L357.6 320.8L357.8 319.8L357.8 318.8L357.8 317.8L357.8 316.8L357.8 315.8L357.9 314.8L357.9 313.8L358.0 312.8L357.9 311.8L358.0 310.8L358.0 310.5L358.1 309.8L358.3 308.8L358.6 307.8L358.8 306.8L358.9 305.8L358.9 304.8L358.8 303.8L358.9 302.8L359.0 302.0L359.0 301.8L359.0 300.8L359.0 300.6L358.9 299.8L358.8 298.8L358.7 297.8L358.6 296.8L358.6 295.8L358.7 294.8L359.0 293.9L359.0 293.8L359.2 292.8L359.3 291.8L359.3 290.8L359.4 289.8L359.6 288.8L359.7 287.8L359.8 286.8L359.9 285.8L360.0 285.5L360.2 284.8L360.3 283.8L360.1 282.9L360.0 282.4L359.8 281.9L359.8 280.9L360.0 280.2L360.1 279.9L360.8 278.9L361.0 278.4L361.2 277.9L361.2 276.9L361.0 276.1L360.9 275.9L360.6 274.9L360.5 273.9L360.6 272.9L360.7 271.9L360.8 270.9L360.7 269.9L360.7 268.9L360.7 267.9L360.7 266.9L360.6 265.9L360.5 264.9L360.5 263.9L360.7 262.9L360.8 261.9L360.8 260.9L360.7 259.9L360.0 259.3L359.6 259.9L359.3 260.9L359.2 261.9L359.2 262.9L359.2 263.9L359.0 264.6L359.0 264.9L358.7 265.9L358.5 266.9L358.4 267.9L358.2 268.9L358.0 269.6L357.0 269.6L356.8 268.9L356.8 267.9L356.9 266.9L357.0 265.9L357.0 265.4L357.1 264.9L357.2 263.9L357.4 262.9L357.5 261.9L357.6 260.9L357.5 259.9L357.4 258.9L357.3 257.9L357.3 256.9L357.3 255.9L357.4 254.9L357.4 253.9L357.3 252.9L357.2 251.9L357.2 250.9L357.4 249.9L358.0 249.4L359.0 249.8L359.2 249.9L360.0 250.4L361.0 250.7L361.5 249.9L361.9 248.9L362.0 248.7L362.1 247.9L362.2 246.9L362.3 245.9L362.1 244.9L362.0 244.5L361.0 244.4L360.0 244.2L359.8 243.9L359.5 242.9L359.4 241.9L359.5 240.9L359.8 239.9L360.0 239.3L360.3 238.9L360.8 237.9L360.7 236.9L360.5 235.9L360.5 234.9L360.7 233.9L360.9 232.9L361.0 232.7L361.2 231.9L361.4 230.9L361.5 229.9L361.6 228.9L361.8 227.9L362.0 227.3L362.3 226.9L363.0 226.3L364.0 226.2L364.1 226.0L364.6 225.0L365.0 224.4L365.3 224.0L366.0 223.3L366.2 223.0L367.0 222.0L367.0 222.0L367.6 221.0L368.0 220.4L369.0 220.6L370.0 220.1L370.2 220.0L371.0 219.3L372.0 219.3L373.0 219.8L374.0 219.4L375.0 219.1L375.2 219.0L376.0 218.7L377.0 218.6L377.6 219.0L378.0 219.2L378.2 219.0L378.9 218.0L379.0 217.7L379.6 217.0ZM361.8 236.9L361.4 237.9L362.0 238.5L362.1 237.9L362.0 236.9L362.0 236.9ZM449.8 260.9L449.6 261.9L449.6 262.9L449.8 263.9L450.0 264.9L450.0 265.3L450.1 264.9L450.3 263.9L450.3 262.9L450.3 261.9L450.2 260.9L450.0 260.4ZM363.9 271.9L364.0 272.9L364.0 273.1L364.2 272.9L364.2 271.9L364.0 271.7ZM395.4 283.8L395.0 284.2L394.7 284.8L394.6 285.8L394.6 286.8L394.7 287.8L394.8 288.8L394.9 289.8L395.0 290.0L396.0 290.2L396.1 289.8L396.4 288.8L396.5 287.8L396.7 286.8L396.9 285.8L396.9 284.8L396.3 283.8L396.0 283.5ZM448.7 318.8L448.9 319.8L449.0 319.9L449.1 319.8L449.1 318.8L449.0 318.3ZM356.0 240.7L356.0 240.9L356.0 241.0L356.0 240.9ZM354.0 245.1L354.5 245.9L354.9 246.9L355.0 247.4L355.1 247.9L355.3 248.9L355.5 249.9L355.6 250.9L355.5 251.9L355.4 252.9L355.3 253.9L355.2 254.9L355.1 255.9L355.0 256.4L354.2 256.9L354.0 256.9L354.0 256.9L353.4 255.9L353.2 254.9L353.3 253.9L353.3 252.9L353.4 251.9L353.5 250.9L353.6 249.9L353.7 248.9L353.6 247.9L353.6 246.9L353.8 245.9ZM455.0 298.3L455.2 298.8L455.3 299.8L455.0 300.6L454.6 299.8L454.7 298.8ZM464.0 312.6L464.2 312.8L464.5 313.8L464.5 314.8L464.2 315.8L464.0 316.4L463.8 315.8L463.5 314.8L463.5 313.8L463.9 312.8ZM457.0 313.1L457.4 313.8L457.0 314.4L456.7 313.8ZM457.0 316.6L457.0 316.8L457.3 317.8L457.5 318.8L457.7 319.8L457.5 320.8L457.0 321.4L456.7 320.8L456.3 319.8L456.3 318.8L456.6 317.8L456.9 316.8ZM458.0 324.4L459.0 324.4L459.2 324.8L459.3 325.8L459.0 326.6L458.0 325.8L457.9 325.8L457.6 324.8ZM353.0 325.2L354.0 325.3L354.4 325.8L355.0 326.3L355.3 326.8L355.7 327.8L355.9 328.8L355.8 329.8L355.7 330.8L355.7 331.8L355.8 332.8L355.7 333.8L355.6 334.8L355.4 335.8L355.1 336.8L355.0 337.0L354.2 336.8L354.0 336.6L353.9 335.8L353.8 334.8L353.7 333.8L353.7 332.8L353.5 331.8L353.3 330.8L353.0 330.0L353.0 329.8L352.8 328.8L352.8 327.8L352.8 326.8L352.9 325.8ZM340.0 342.8L341.0 343.5L341.1 343.7L341.1 344.7L341.0 344.9L340.9 344.7L340.0 344.0L339.9 343.7ZM342.0 347.0L342.1 347.7L342.1 348.7L342.0 349.5L341.6 348.7L341.4 347.7Z" fill="#12ffff" fill-rule="evenodd" stroke="#000" stroke-width="0.55" stroke-opacity="0.85"/>
<path d="M380.0 220.8L380.2 221.0L381.0 221.6L381.8 222.0L382.0 222.1L383.0 222.7L383.5 223.0L384.0 223.5L385.0 223.9L385.1 224.0L385.4 225.0L385.7 226.0L385.8 226.9L385.9 227.9L386.0 228.6L386.0 228.9L386.2 229.9L386.5 230.9L386.6 231.9L386.6 232.9L386.7 233.9L386.8 234.9L387.0 235.9L387.0 236.2L387.1 236.9L387.1 237.9L387.1 238.9L387.2 239.9L387.2 240.9L387.0 241.8L386.7 240.9L386.5 239.9L386.5 238.9L386.0 238.4L385.4 238.9L385.0 239.6L385.0 239.9L384.9 240.9L384.9 241.9L384.9 242.9L385.0 243.5L385.2 243.9L385.4 244.9L385.5 245.9L385.6 246.9L385.7 247.9L385.7 248.9L385.5 249.9L385.2 250.9L385.0 251.9L385.0 252.1L384.9 252.9L384.8 253.9L384.7 254.9L384.6 255.9L384.6 256.9L384.7 257.9L384.8 258.9L385.0 259.5L385.2 259.9L385.6 260.9L385.7 261.9L385.7 262.9L385.8 263.9L385.9 264.9L386.0 265.7L386.0 265.9L386.1 266.9L386.0 267.9L386.0 268.1L385.9 268.9L385.8 269.9L385.7 270.9L385.6 271.9L385.6 272.9L385.7 273.9L385.9 274.9L386.0 275.2L387.0 275.2L387.4 275.9L387.5 276.9L387.3 277.9L387.0 278.8L387.0 278.9L386.0 279.2L385.5 279.9L385.0 280.4L384.7 280.9L384.3 281.9L384.1 282.9L384.4 283.8L385.0 284.7L385.1 284.8L385.7 285.8L385.8 286.8L385.8 287.8L385.8 288.8L385.8 289.8L386.0 290.8L386.0 290.9L386.2 291.8L386.4 292.8L386.7 293.8L386.8 294.8L387.0 295.8L387.0 296.2L387.1 296.8L387.1 297.8L387.2 298.8L387.3 299.8L387.4 300.8L387.4 301.8L387.1 302.8L387.0 303.0L386.7 303.8L386.3 304.8L386.1 305.8L386.0 306.0L385.8 306.8L385.6 307.8L385.6 308.8L385.8 309.8L386.0 310.3L386.3 310.8L386.9 311.8L387.0 312.0L387.4 312.8L387.8 313.8L388.0 314.3L389.0 313.9L389.9 313.8L390.0 313.8L390.0 313.8L390.5 314.8L390.9 315.8L391.0 316.4L391.1 316.8L391.2 317.8L391.3 318.8L391.3 319.8L391.2 320.8L391.0 321.8L391.0 321.8L390.5 322.8L390.0 323.5L389.7 323.8L389.1 324.8L389.0 325.4L388.9 325.8L388.7 326.8L388.1 327.8L388.0 327.9L387.9 328.8L387.8 329.8L387.7 330.8L387.6 331.8L387.5 332.8L387.4 333.8L387.2 334.8L387.1 335.8L387.1 336.8L387.0 337.8L387.0 338.3L387.0 338.8L386.9 339.7L386.8 340.7L386.6 341.7L386.5 342.7L386.4 343.7L386.3 344.7L386.2 345.7L386.1 346.7L386.0 347.7L386.1 348.7L386.1 349.7L386.2 350.7L386.3 351.7L386.4 352.7L386.4 353.7L386.0 354.5L385.9 354.7L385.0 355.6L384.9 355.7L384.0 356.7L384.0 356.7L383.0 357.2L382.2 357.7L382.0 357.8L381.0 358.0L380.0 358.1L379.0 358.2L378.0 358.4L377.0 358.6L376.0 358.5L375.0 358.3L374.0 358.3L373.0 358.1L372.0 358.1L371.0 358.2L370.0 358.3L369.0 357.9L368.7 357.7L368.0 357.2L367.6 356.7L367.0 355.8L367.0 355.7L366.6 354.7L366.5 353.7L366.4 352.7L366.3 351.7L366.2 350.7L366.1 349.7L366.1 348.7L366.1 347.7L366.0 346.7L366.0 345.7L366.0 344.7L366.0 343.7L366.1 342.7L366.3 341.7L366.5 340.7L366.5 339.7L366.5 338.8L366.3 337.8L366.2 336.8L366.1 335.8L366.1 334.8L366.2 333.8L366.2 332.8L366.2 331.8L366.3 330.8L366.4 329.8L366.6 328.8L366.7 327.8L366.7 326.8L366.8 325.8L366.8 324.8L366.7 323.8L366.6 322.8L366.5 321.8L366.5 320.8L366.6 319.8L366.7 318.8L366.7 317.8L366.6 316.8L366.6 315.8L366.5 314.8L366.3 313.8L366.2 312.8L366.0 312.1L365.8 311.8L365.5 310.8L365.5 309.8L365.4 308.8L365.3 307.8L365.3 306.8L365.8 305.8L366.0 305.5L366.3 304.8L366.8 303.8L367.0 303.5L367.2 302.8L367.3 301.8L367.3 300.8L367.1 299.8L367.0 298.8L367.0 298.5L366.9 297.8L366.8 296.8L366.5 295.8L366.4 294.8L366.1 293.8L366.0 293.4L365.6 292.8L365.4 291.8L365.3 290.8L365.2 289.8L365.4 288.8L365.7 287.8L365.8 286.8L365.8 285.8L365.6 284.8L365.5 283.8L365.5 282.9L365.7 281.9L366.0 280.9L366.0 280.8L366.3 279.9L366.5 278.9L366.6 277.9L366.7 276.9L366.7 275.9L366.6 274.9L366.6 273.9L366.6 272.9L366.6 271.9L366.6 270.9L366.7 269.9L366.8 268.9L366.8 267.9L366.9 266.9L367.0 266.2L367.1 265.9L367.3 264.9L367.3 263.9L367.4 262.9L367.4 261.9L367.3 260.9L367.2 259.9L367.0 258.9L367.0 258.9L366.8 257.9L366.7 256.9L366.6 255.9L366.6 254.9L366.7 253.9L367.0 252.9L367.0 252.8L367.4 251.9L367.9 250.9L368.0 250.6L368.2 249.9L368.3 248.9L368.4 247.9L368.5 246.9L368.5 245.9L368.5 244.9L368.4 243.9L368.3 242.9L368.1 241.9L368.0 241.7L367.8 240.9L367.7 239.9L367.8 238.9L367.8 237.9L367.7 236.9L367.4 235.9L367.2 234.9L367.1 233.9L367.1 232.9L367.0 231.9L367.0 230.9L367.0 229.9L367.2 228.9L367.4 227.9L367.5 226.9L367.7 226.0L368.0 225.3L368.5 225.0L369.0 224.8L370.0 224.0L370.0 223.9L370.9 223.0L371.0 222.8L372.0 222.5L372.7 223.0L373.0 223.2L374.0 223.0L374.0 223.0L375.0 222.3L375.5 222.0L376.0 221.7L377.0 221.5L377.7 222.0L378.0 222.1L378.3 222.0L379.0 221.5L379.7 221.0ZM420.0 220.7L421.0 220.7L421.4 221.0L422.0 221.4L423.0 221.7L424.0 221.4L425.0 221.6L425.8 222.0L426.0 222.1L427.0 222.2L427.8 222.0L428.0 221.9L429.0 221.9L429.1 222.0L430.0 222.7L430.3 223.0L431.0 223.8L432.0 223.9L433.0 223.0L434.0 223.1L435.0 223.9L435.1 224.0L436.0 225.0L436.0 225.0L437.0 225.4L437.4 225.0L438.0 224.3L439.0 224.0L439.6 225.0L440.0 225.9L440.0 226.0L440.2 226.9L440.4 227.9L440.4 228.9L440.4 229.9L440.4 230.9L440.4 231.9L440.5 232.9L440.5 233.9L440.5 234.9L440.4 235.9L440.3 236.9L440.1 237.9L440.1 238.9L440.2 239.9L440.4 240.9L440.7 241.9L441.0 242.5L441.4 242.9L442.0 243.5L442.8 243.9L443.0 244.3L443.1 243.9L443.8 242.9L444.0 242.6L445.0 242.7L445.1 242.9L445.3 243.9L445.4 244.9L445.4 245.9L445.4 246.9L445.5 247.9L445.6 248.9L445.8 249.9L446.0 250.9L446.0 251.1L446.2 251.9L446.2 252.9L446.0 253.9L446.0 254.0L445.7 254.9L445.4 255.9L445.1 256.9L445.0 257.9L445.0 258.1L444.9 257.9L444.5 256.9L444.2 255.9L444.0 255.3L443.9 255.9L443.8 256.9L443.8 257.9L443.8 258.9L443.7 259.9L443.7 260.9L443.6 261.9L443.6 262.9L443.4 263.9L443.2 264.9L443.0 265.5L442.6 265.9L442.0 266.2L441.7 266.9L441.5 267.9L441.4 268.9L441.4 269.9L441.3 270.9L441.2 271.9L441.2 272.9L441.0 273.9L441.0 274.2L441.0 274.9L441.0 275.9L441.0 275.9L441.2 276.9L441.4 277.9L441.6 278.9L441.8 279.9L442.0 280.4L442.4 280.9L443.0 281.4L443.2 281.9L443.5 282.9L443.8 283.8L444.0 284.6L444.2 284.8L444.9 285.8L445.0 286.8L445.0 286.8L445.0 286.8L444.4 287.8L444.0 288.8L444.0 288.9L443.6 289.8L443.4 290.8L443.7 291.8L444.0 292.4L444.2 292.8L444.7 293.8L445.0 294.6L445.1 294.8L445.5 295.8L446.0 296.7L446.0 296.8L446.5 297.8L446.9 298.8L447.0 299.3L447.1 299.8L447.0 300.4L446.9 300.8L446.6 301.8L446.2 302.8L446.0 303.2L445.8 303.8L445.5 304.8L445.5 305.8L445.6 306.8L445.8 307.8L445.9 308.8L445.9 309.8L445.7 310.8L445.5 311.8L445.2 312.8L445.0 313.7L445.0 313.8L444.9 314.8L445.0 315.8L445.0 316.4L445.0 316.8L445.0 317.6L445.0 317.8L444.9 318.8L444.8 319.8L444.7 320.8L444.8 321.8L445.0 322.8L445.0 322.8L445.3 323.8L445.7 324.8L446.0 325.4L446.1 325.8L446.2 326.8L446.1 327.8L446.0 328.4L445.9 328.8L445.7 329.8L445.8 330.8L446.0 331.8L446.0 332.0L446.1 332.8L446.2 333.8L446.3 334.8L446.5 335.8L446.6 336.8L446.6 337.8L446.4 338.8L446.1 339.7L446.0 340.5L446.0 340.7L445.9 341.7L445.9 342.7L446.0 343.7L446.0 344.1L446.2 344.7L446.5 345.7L446.6 346.7L446.5 347.7L446.3 348.7L446.0 349.7L446.0 349.7L445.9 350.7L445.6 351.7L445.2 352.7L445.0 353.2L444.9 353.7L444.8 354.7L444.7 355.7L444.0 356.5L443.5 356.7L443.0 356.8L442.8 356.7L442.0 356.2L441.0 355.7L440.0 356.3L439.6 356.7L439.0 357.2L438.0 357.7L438.0 357.7L437.0 358.3L436.0 358.7L436.0 358.7L435.0 358.8L434.0 358.9L433.0 358.8L432.8 358.7L432.0 358.5L431.0 358.6L430.1 358.7L430.0 358.7L429.5 358.7L429.0 358.7L428.0 358.6L427.0 358.7L427.0 358.7L426.9 358.7L426.0 358.7L425.0 358.6L424.0 358.6L423.7 358.7L423.0 358.9L422.0 359.0L421.0 359.0L420.0 359.0L419.0 358.9L418.0 358.7L418.0 358.7L417.9 358.7L417.0 358.8L416.0 358.8L415.4 358.7L415.0 358.6L414.0 358.5L413.0 358.6L412.0 358.6L411.0 358.3L410.0 358.0L409.0 357.8L408.0 357.8L407.0 357.9L406.0 357.9L405.0 357.9L404.4 357.7L404.0 357.6L403.0 357.0L402.0 356.8L401.1 356.7L401.0 356.7L400.3 355.7L400.0 354.9L399.9 354.7L399.5 353.7L399.2 352.7L399.0 351.8L399.0 351.7L398.8 350.7L398.4 349.7L398.1 348.7L398.0 348.2L397.9 347.7L397.6 346.7L397.4 345.7L397.2 344.7L397.0 344.0L396.9 343.7L396.8 342.7L396.8 341.7L397.0 340.7L397.0 340.5L397.3 339.7L397.9 338.8L398.0 338.6L398.5 337.8L398.8 336.8L398.9 335.8L398.8 334.8L398.8 333.8L398.9 332.8L399.0 332.3L399.3 331.8L399.9 330.8L400.0 330.3L400.0 330.8L400.3 331.8L401.0 332.7L401.3 331.8L401.4 330.8L401.4 329.8L401.4 328.8L401.4 327.8L401.4 326.8L401.4 325.8L401.3 324.8L401.3 323.8L401.1 322.8L401.0 322.4L400.2 321.8L400.0 321.6L399.0 321.3L398.8 320.8L398.5 319.8L398.2 318.8L398.0 317.8L398.0 317.8L398.0 317.8L398.1 316.8L398.6 315.8L399.0 314.8L399.0 314.7L399.5 313.8L399.9 312.8L400.0 312.6L400.3 312.8L401.0 313.1L401.1 312.8L401.4 311.8L401.5 310.8L401.5 309.8L401.4 308.8L401.3 307.8L401.1 306.8L401.0 305.8L401.1 304.8L401.3 303.8L401.6 302.8L401.8 301.8L402.0 301.0L402.0 300.8L402.1 299.8L402.0 299.4L401.9 298.8L401.6 297.8L401.4 296.8L401.3 295.8L401.3 294.8L401.3 293.8L401.3 292.8L401.4 291.8L401.6 290.8L401.9 289.8L402.0 289.6L402.4 288.8L402.9 287.8L403.0 287.5L403.5 286.8L404.0 286.1L404.1 285.8L404.6 284.8L404.9 283.8L405.0 283.0L405.0 282.9L405.0 282.8L404.9 281.9L404.6 280.9L404.4 279.9L404.3 278.9L404.3 277.9L404.2 276.9L404.1 275.9L404.0 275.2L403.9 274.9L403.6 273.9L403.3 272.9L403.0 272.1L402.8 271.9L402.0 271.2L401.8 270.9L401.3 269.9L401.0 269.4L400.6 268.9L400.3 267.9L400.3 266.9L400.1 265.9L400.0 265.5L399.7 264.9L399.5 263.9L399.3 262.9L399.2 261.9L399.3 260.9L399.6 259.9L399.8 258.9L399.9 257.9L400.0 257.6L400.1 256.9L400.3 255.9L400.5 254.9L400.8 253.9L401.0 253.2L401.1 252.9L401.4 251.9L401.6 250.9L401.7 249.9L401.8 248.9L401.8 247.9L401.9 246.9L402.0 246.5L402.2 245.9L402.3 244.9L402.4 243.9L402.4 242.9L402.4 241.9L402.4 240.9L402.5 239.9L402.7 238.9L403.0 237.9L403.0 237.9L403.0 237.9L403.5 238.9L403.6 239.9L403.6 240.9L403.7 241.9L403.6 242.9L403.5 243.9L403.6 244.9L403.6 245.9L403.7 246.9L403.8 247.9L404.0 248.7L404.2 247.9L405.0 247.2L405.2 246.9L405.7 245.9L406.0 244.9L406.0 244.9L406.1 243.9L406.1 242.9L406.1 241.9L406.0 240.9L406.0 240.6L405.9 239.9L405.8 238.9L405.8 237.9L406.0 236.9L406.0 236.8L406.1 235.9L406.2 234.9L406.4 233.9L406.4 232.9L406.1 231.9L406.0 231.9L405.4 230.9L405.0 230.3L404.6 229.9L404.3 228.9L404.3 227.9L404.4 226.9L404.7 226.0L405.0 225.5L406.0 225.4L406.2 226.0L406.5 226.9L406.9 227.9L407.0 228.3L407.2 227.9L407.8 226.9L408.0 226.6L408.1 226.0L408.3 225.0L408.5 224.0L408.8 223.0L409.0 222.5L410.0 222.2L410.9 223.0L411.0 223.0L411.1 223.0L412.0 222.7L413.0 222.1L414.0 222.6L415.0 222.7L415.7 222.0L416.0 221.6L417.0 221.4L418.0 221.4L419.0 221.0L419.2 221.0ZM403.9 251.9L404.0 252.9L404.0 253.0L404.0 252.9L404.0 251.9L404.0 251.3ZM387.0 245.3L387.0 245.9L387.1 246.9L387.2 247.9L387.0 248.9L387.0 249.0L386.9 248.9L386.4 247.9L386.6 246.9L386.8 245.9ZM400.0 304.3L400.4 304.8L400.7 305.8L400.1 306.8L400.0 306.8L400.0 306.8L399.1 305.8L399.1 304.8Z" fill="#12f082" fill-rule="evenodd" stroke="#000" stroke-width="0.55" stroke-opacity="0.85"/>
<path d="M419.0 223.9L420.0 223.1L421.0 223.0L422.0 223.8L422.2 224.0L422.9 225.0L423.0 225.2L423.2 225.0L424.0 224.4L425.0 224.0L426.0 224.3L427.0 224.5L428.0 224.1L429.0 224.1L429.6 225.0L430.0 225.9L430.0 226.0L430.3 226.9L430.4 227.9L430.6 228.9L430.8 229.9L431.0 230.6L431.3 230.9L432.0 231.9L433.0 230.9L433.0 230.9L433.0 230.9L433.9 231.9L434.0 232.1L434.5 232.9L435.0 233.6L435.1 233.9L435.1 234.9L435.0 235.8L435.0 235.9L434.2 236.9L434.0 237.3L433.9 237.9L433.9 238.9L433.9 239.9L434.0 240.4L434.3 240.9L435.0 241.8L435.0 241.9L435.2 242.9L435.4 243.9L435.5 244.9L435.5 245.9L435.4 246.9L435.6 247.9L435.9 248.9L436.0 249.2L436.7 249.9L437.0 250.7L437.0 250.9L437.3 251.9L437.4 252.9L437.2 253.9L437.1 254.9L437.4 255.9L437.7 256.9L437.9 257.9L438.0 258.9L438.0 259.3L438.1 259.9L438.4 260.9L438.5 261.9L438.1 262.9L438.0 263.1L437.8 263.9L437.7 264.9L437.6 265.9L437.7 266.9L437.7 267.9L437.7 268.9L437.9 269.9L438.0 270.3L438.3 270.9L438.9 271.9L439.0 272.3L439.1 272.9L439.0 273.9L439.0 274.3L438.9 274.9L438.8 275.9L438.9 276.9L438.9 277.9L438.8 278.9L438.7 279.9L438.9 280.9L439.0 281.2L439.2 281.9L439.4 282.9L439.5 283.8L439.6 284.8L439.7 285.8L439.7 286.8L439.6 287.8L439.5 288.8L439.2 289.8L439.0 290.6L438.9 290.8L438.5 291.8L438.0 292.7L437.9 292.8L437.5 293.8L437.6 294.8L438.0 295.6L438.5 295.8L439.0 296.0L439.5 296.8L440.0 297.6L440.1 297.8L440.5 298.8L440.7 299.8L440.9 300.8L440.9 301.8L440.8 302.8L440.6 303.8L440.4 304.8L440.4 305.8L440.5 306.8L440.6 307.8L440.7 308.8L440.7 309.8L440.7 310.8L440.5 311.8L440.3 312.8L440.1 313.8L440.0 314.3L439.8 314.8L439.6 315.8L439.8 316.8L440.0 317.2L440.2 317.8L440.5 318.8L441.0 319.6L441.1 319.8L441.3 320.8L441.6 321.8L441.9 322.8L442.0 323.3L442.0 323.8L442.0 324.4L441.9 324.8L441.0 325.4L440.0 325.3L439.7 325.8L439.5 326.8L439.6 327.8L439.9 328.8L440.0 328.9L440.3 329.8L440.5 330.8L440.6 331.8L440.7 332.8L440.8 333.8L440.9 334.8L440.8 335.8L440.7 336.8L440.6 337.8L440.5 338.8L440.5 339.7L440.6 340.7L440.7 341.7L440.8 342.7L441.0 343.7L441.0 344.1L441.1 344.7L441.2 345.7L441.2 346.7L441.2 347.7L441.0 348.5L440.9 348.7L440.1 349.7L440.0 349.9L439.4 350.7L439.0 351.3L438.9 351.7L438.7 352.7L438.5 353.7L438.2 354.7L438.0 355.0L437.7 355.7L437.0 356.7L437.0 356.7L436.0 357.5L435.0 357.7L434.9 357.7L434.0 357.8L433.0 357.8L432.8 357.7L432.0 357.4L431.0 357.6L430.5 357.7L430.0 357.8L429.0 357.8L428.0 357.8L427.0 357.9L426.0 357.9L425.0 357.7L424.0 357.8L423.0 358.1L422.0 358.2L421.0 358.2L420.0 358.1L419.0 358.0L418.0 357.8L417.0 357.9L416.0 357.9L415.1 357.7L415.0 357.7L414.0 357.4L413.0 357.5L412.0 357.6L411.0 357.1L410.5 356.7L410.0 356.3L409.0 356.0L408.0 355.9L407.2 355.7L407.0 355.6L406.0 354.8L405.9 354.7L405.4 353.7L405.3 352.7L405.5 351.7L405.8 350.7L406.0 349.9L406.2 349.7L407.0 348.9L407.0 348.7L407.0 348.3L406.1 347.7L406.0 347.7L405.6 346.7L405.1 345.7L405.0 345.5L404.8 344.7L404.7 343.7L404.7 342.7L404.7 341.7L404.3 340.7L404.0 340.4L403.8 339.7L403.7 338.8L403.5 337.8L403.3 336.8L403.1 335.8L403.0 334.8L403.0 333.8L403.1 332.8L403.1 331.8L403.2 330.8L403.4 329.8L403.7 328.8L403.9 327.8L404.0 327.2L404.3 326.8L404.7 325.8L404.9 324.8L405.0 324.4L405.7 324.8L406.0 324.9L406.1 324.8L406.3 323.8L406.5 322.8L406.7 321.8L406.9 320.8L407.0 320.4L407.1 319.8L407.2 318.8L407.3 317.8L407.3 316.8L407.2 315.8L407.2 314.8L408.0 313.8L408.0 313.8L409.0 312.8L409.0 312.8L410.0 311.8L410.0 311.7L410.4 310.8L410.6 309.8L410.7 308.8L410.6 307.8L410.4 306.8L410.1 305.8L410.0 305.5L409.8 305.8L409.0 306.4L408.0 306.8L407.9 306.8L407.0 307.4L406.0 307.7L405.6 306.8L405.1 305.8L405.0 305.4L404.8 304.8L404.7 303.8L404.9 302.8L405.0 302.2L405.1 301.8L405.5 300.8L405.8 299.8L405.9 298.8L405.9 297.8L405.7 296.8L405.6 295.8L405.5 294.8L405.5 293.8L405.7 292.8L405.9 291.8L406.0 291.3L406.6 291.8L407.0 292.2L407.2 292.8L407.3 293.8L407.4 294.8L407.5 295.8L407.5 296.8L407.6 297.8L407.7 298.8L408.0 299.5L408.2 299.8L408.9 300.8L409.0 301.0L409.4 301.8L409.8 302.8L410.0 303.4L410.2 302.8L410.7 301.8L411.0 301.3L411.1 300.8L411.2 299.8L411.2 298.8L411.2 297.8L411.2 296.8L411.2 295.8L411.2 294.8L411.2 293.8L411.3 292.8L411.4 291.8L411.6 290.8L411.8 289.8L412.0 289.4L412.1 288.8L412.3 287.8L412.2 286.8L412.0 285.9L412.0 285.8L411.0 285.1L410.5 285.8L410.1 286.8L410.0 287.1L410.0 286.8L409.8 285.8L409.6 284.8L409.5 283.8L409.3 282.9L409.1 281.9L409.0 281.4L408.9 280.9L408.8 279.9L408.8 278.9L408.7 277.9L408.7 276.9L408.6 275.9L408.7 274.9L408.9 273.9L409.0 273.4L409.5 272.9L409.4 271.9L409.0 271.5L408.7 270.9L408.2 269.9L408.0 269.4L407.2 268.9L407.1 267.9L408.0 267.5L409.0 267.6L409.4 266.9L409.9 265.9L410.0 265.7L410.1 264.9L410.3 263.9L410.8 262.9L411.0 262.6L411.4 261.9L411.8 260.9L412.0 260.2L412.1 259.9L412.2 258.9L412.3 257.9L412.3 256.9L412.2 255.9L412.1 254.9L412.2 253.9L412.1 252.9L412.0 252.2L411.0 252.2L410.9 251.9L410.8 250.9L410.8 249.9L410.7 248.9L410.7 247.9L410.9 246.9L411.0 246.4L411.2 245.9L411.5 244.9L411.5 243.9L411.5 242.9L411.3 241.9L411.2 240.9L411.1 239.9L411.0 238.9L411.0 237.9L411.1 236.9L411.8 235.9L412.0 235.8L413.0 235.5L413.6 234.9L414.0 234.2L414.0 233.9L414.3 232.9L414.5 231.9L414.5 230.9L414.4 229.9L415.0 229.9L415.3 228.9L415.6 227.9L415.8 226.9L416.0 226.3L416.2 226.0L417.0 225.0L418.0 225.1L418.1 225.0L418.9 224.0ZM377.0 224.9L377.0 225.0L377.9 226.0L378.0 226.1L378.5 226.0L379.0 225.8L379.9 225.0L380.0 224.8L380.1 225.0L381.0 225.5L381.3 226.0L381.7 226.9L381.9 227.9L382.0 228.7L382.0 228.9L382.1 229.9L382.3 230.9L382.4 231.9L382.4 232.9L382.4 233.9L382.4 234.9L382.5 235.9L382.5 236.9L382.5 237.9L382.4 238.9L382.4 239.9L382.3 240.9L382.5 241.9L383.0 242.4L383.1 242.9L383.4 243.9L383.7 244.9L383.8 245.9L383.8 246.9L383.7 247.9L383.6 248.9L383.3 249.9L383.1 250.9L383.0 251.4L382.7 250.9L382.0 249.9L382.0 249.9L381.6 248.9L381.3 247.9L381.1 246.9L381.1 245.9L381.1 244.9L381.0 244.2L380.9 244.9L380.9 245.9L380.9 246.9L380.7 247.9L380.4 248.9L380.2 249.9L380.1 250.9L380.0 251.9L380.0 252.9L380.0 253.9L380.1 254.9L380.0 255.8L380.0 255.9L379.9 256.9L379.9 257.9L380.0 258.1L380.2 258.9L380.5 259.9L380.8 260.9L381.0 261.5L381.1 261.9L381.2 262.9L381.3 263.9L381.4 264.9L381.6 265.9L381.7 266.9L381.8 267.9L382.0 268.9L382.0 269.2L382.1 269.9L382.0 270.8L382.0 270.9L381.9 271.9L381.7 272.9L381.6 273.9L381.5 274.9L381.5 275.9L381.4 276.9L381.5 277.9L381.4 278.9L381.2 279.9L381.0 280.3L380.8 280.9L380.7 281.9L380.7 282.9L380.9 283.8L381.0 284.2L381.3 284.8L381.4 285.8L381.4 286.8L381.0 287.8L381.0 287.9L380.8 288.8L380.7 289.8L380.8 290.8L381.0 291.7L381.1 291.8L382.0 292.3L382.2 292.8L382.5 293.8L382.9 294.8L383.0 295.4L383.3 295.8L383.7 296.8L384.0 297.8L384.0 297.8L384.6 298.8L384.9 299.8L384.9 300.8L384.9 301.8L384.7 302.8L384.5 303.8L384.2 304.8L384.0 305.1L383.2 305.8L383.0 306.0L382.7 306.8L382.5 307.8L382.5 308.8L382.6 309.8L382.7 310.8L382.9 311.8L383.0 312.1L383.3 312.8L383.7 313.8L384.0 314.3L384.6 314.8L385.0 315.2L385.4 315.8L385.8 316.8L385.9 317.8L385.8 318.8L385.6 319.8L385.2 320.8L385.0 321.0L384.8 321.8L384.5 322.8L384.4 323.8L384.3 324.8L384.3 325.8L384.2 326.8L384.2 327.8L384.2 328.8L384.3 329.8L384.5 330.8L384.7 331.8L384.8 332.8L384.8 333.8L384.7 334.8L384.8 335.8L384.9 336.8L385.0 337.2L385.1 337.8L385.1 338.8L385.1 339.7L385.0 340.7L385.0 340.9L384.9 341.7L384.7 342.7L384.5 343.7L384.4 344.7L384.2 345.7L384.0 346.7L384.0 347.0L383.8 347.7L383.4 348.7L383.2 349.7L383.2 350.7L383.2 351.7L383.0 352.4L383.0 352.7L382.7 353.7L382.3 354.7L382.0 355.3L381.7 355.7L381.0 356.4L380.0 356.7L379.7 356.7L379.0 356.8L378.0 357.1L377.0 357.4L376.0 357.3L375.0 357.1L374.0 357.0L373.2 356.7L373.0 356.6L372.0 356.6L371.0 356.7L370.0 356.4L369.5 355.7L369.1 354.7L369.0 354.4L368.8 353.7L368.8 352.7L368.7 351.7L368.5 350.7L368.4 349.7L368.2 348.7L368.0 347.9L368.0 347.7L367.9 346.7L367.9 345.7L367.9 344.7L368.0 343.7L368.0 343.4L368.1 342.7L368.2 341.7L368.4 340.7L368.4 339.7L368.3 338.8L368.2 337.8L368.0 336.8L368.0 336.7L367.9 335.8L367.8 334.8L367.8 333.8L367.9 332.8L367.9 331.8L368.0 330.9L368.0 330.8L368.4 329.8L368.7 328.8L369.0 327.8L369.0 327.6L369.1 326.8L369.1 325.8L369.0 325.3L368.9 324.8L368.7 323.8L368.7 322.8L368.8 321.8L368.8 320.8L368.8 319.8L368.8 318.8L368.7 317.8L368.7 316.8L368.6 315.8L368.4 314.8L368.1 313.8L368.0 313.4L367.9 312.8L367.8 311.8L367.7 310.8L367.8 309.8L367.8 308.8L367.9 307.8L368.0 306.8L368.0 306.5L368.1 305.8L368.3 304.8L368.6 303.8L368.7 302.8L368.7 301.8L368.6 300.8L368.5 299.8L368.4 298.8L368.4 297.8L368.3 296.8L368.0 295.9L368.0 295.8L367.8 294.8L367.7 293.8L367.6 292.8L367.6 291.8L367.9 290.8L368.0 290.5L368.4 289.8L368.7 288.8L369.0 287.8L369.0 287.6L369.3 286.8L369.6 285.8L369.7 284.8L369.6 283.8L369.6 282.9L369.8 281.9L370.0 281.6L370.8 281.9L371.0 282.5L371.1 282.9L371.3 283.8L372.0 284.5L372.1 283.8L372.1 282.9L372.0 281.9L372.1 280.9L372.2 279.9L372.4 278.9L372.6 277.9L372.8 276.9L372.9 275.9L373.0 275.2L373.1 274.9L373.2 273.9L373.6 272.9L373.8 271.9L373.9 270.9L373.9 269.9L374.0 269.5L374.1 268.9L374.2 267.9L374.1 266.9L374.0 265.9L374.0 265.7L373.6 264.9L373.0 264.1L372.7 263.9L372.0 263.2L371.6 262.9L371.0 262.4L370.8 261.9L370.5 260.9L370.1 259.9L370.0 259.7L369.8 258.9L369.5 257.9L369.4 256.9L369.4 255.9L369.5 254.9L369.6 253.9L369.8 252.9L369.9 251.9L370.0 251.6L371.0 251.5L371.2 251.9L371.5 252.9L371.6 253.9L371.8 254.9L372.0 255.6L373.0 255.4L373.1 254.9L373.1 253.9L373.0 252.9L373.0 251.9L373.0 250.9L373.0 250.8L372.9 249.9L372.7 248.9L372.7 247.9L372.7 246.9L372.6 245.9L372.4 244.9L372.1 243.9L372.0 243.8L371.0 242.9L371.0 242.8L370.9 241.9L370.8 240.9L370.8 239.9L371.0 239.2L371.1 238.9L371.5 237.9L371.8 236.9L371.8 235.9L371.7 234.9L371.7 233.9L371.7 232.9L371.7 231.9L371.7 230.9L371.5 229.9L371.2 228.9L371.1 227.9L371.3 226.9L372.0 226.0L372.0 225.9L372.0 226.0L372.5 226.9L372.7 227.9L372.9 228.9L373.0 229.7L373.0 229.9L373.2 230.9L373.7 231.9L374.0 232.6L375.0 232.3L375.1 231.9L375.8 230.9L376.0 230.0L376.0 229.9L376.0 228.9L376.0 228.9L375.9 227.9L375.9 226.9L376.0 226.3L376.1 226.0L377.0 225.0Z" fill="#12f012" fill-rule="evenodd" stroke="#000" stroke-width="0.55" stroke-opacity="0.85"/>
<path d="M429.0 239.7L429.1 239.9L429.3 240.9L429.4 241.9L429.5 242.9L429.5 243.9L429.5 244.9L429.4 245.9L429.3 246.9L429.0 247.8L428.9 247.9L428.5 248.9L428.1 249.9L428.0 250.3L427.0 250.5L426.4 250.9L426.0 251.5L425.9 251.9L425.9 252.9L425.9 253.9L425.9 254.9L426.0 255.9L426.0 256.0L426.3 256.9L427.0 257.7L428.0 257.5L428.5 256.9L429.0 256.2L429.2 256.9L429.5 257.9L429.8 258.9L430.0 259.6L430.1 259.9L430.5 260.9L430.7 261.9L431.0 262.8L432.0 262.5L432.0 261.9L432.4 260.9L433.0 260.2L433.4 260.9L433.6 261.9L433.6 262.9L433.4 263.9L433.2 264.9L433.1 265.9L433.0 266.9L433.0 267.8L432.8 266.9L432.7 265.9L432.6 264.9L432.2 263.9L432.0 262.9L431.3 263.9L431.0 264.4L430.0 264.0L429.0 263.9L428.0 264.3L427.8 264.9L427.7 265.9L427.6 266.9L427.6 267.9L427.7 268.9L427.8 269.9L427.9 270.9L428.0 271.9L428.0 272.3L428.0 272.9L428.1 273.9L428.2 274.9L428.4 275.9L428.7 276.9L429.0 277.4L429.2 276.9L429.6 275.9L430.0 275.2L430.7 275.9L430.8 276.9L430.8 277.9L430.8 278.9L431.0 279.9L431.0 280.0L432.0 280.8L432.1 280.9L432.6 281.9L433.0 282.9L433.0 282.9L433.8 283.8L434.0 284.1L434.1 283.8L434.4 282.9L434.6 281.9L435.0 280.9L435.0 280.8L436.0 280.4L436.0 280.9L436.2 281.9L436.4 282.9L436.5 283.8L436.5 284.8L436.3 285.8L436.0 286.5L435.0 286.4L434.8 286.8L434.8 287.8L434.8 288.8L434.6 289.8L434.4 290.8L434.1 291.8L434.0 292.6L434.0 292.8L433.8 293.8L433.8 294.8L434.0 295.5L434.1 295.8L434.4 296.8L434.9 297.8L435.0 298.1L435.6 298.8L436.0 299.6L436.2 299.8L436.7 300.8L436.6 301.8L436.0 302.1L435.0 302.7L434.9 302.8L434.5 303.8L434.2 304.8L434.2 305.8L434.5 306.8L435.0 307.6L435.3 307.8L436.0 308.2L437.0 308.1L438.0 308.8L438.0 308.8L438.1 309.8L438.0 310.0L437.7 310.8L437.2 311.8L437.0 312.5L436.9 312.8L436.8 313.8L436.6 314.8L436.5 315.8L436.4 316.8L436.2 317.8L436.0 318.3L435.5 318.8L435.0 319.4L434.7 319.8L434.6 320.8L434.7 321.8L434.6 322.8L434.5 323.8L434.5 324.8L434.5 325.8L434.6 326.8L434.7 327.8L434.8 328.8L435.0 329.5L436.0 329.2L436.5 328.8L437.0 328.3L437.1 328.8L437.4 329.8L437.6 330.8L437.8 331.8L437.9 332.8L437.9 333.8L437.9 334.8L437.8 335.8L437.6 336.8L437.2 337.8L437.0 338.4L436.8 338.8L436.3 339.7L436.0 340.7L436.0 340.8L435.9 341.7L436.0 342.7L436.0 342.9L436.2 343.7L436.7 344.7L437.0 345.5L437.2 345.7L437.6 346.7L437.8 347.7L437.8 348.7L437.5 349.7L437.2 350.7L437.0 351.4L436.9 351.7L436.5 352.7L436.2 353.7L436.0 354.7L436.0 354.8L435.0 355.7L435.0 355.7L434.0 356.2L433.0 356.4L432.0 355.8L431.0 356.0L430.0 356.7L429.5 356.7L429.0 356.7L428.6 356.7L428.0 356.7L427.8 356.7L427.0 356.8L426.0 356.8L425.5 356.7L425.0 356.5L424.3 356.7L424.0 356.8L423.0 357.2L422.0 357.3L421.0 357.2L420.0 357.1L419.0 356.9L418.0 356.7L417.0 356.9L416.0 356.9L415.6 356.7L415.0 356.3L414.3 355.7L414.0 355.3L413.1 355.7L413.0 355.7L412.0 356.0L411.6 355.7L411.0 354.9L410.9 354.7L410.5 353.7L410.3 352.7L410.3 351.7L410.6 350.7L410.9 349.7L411.0 348.8L411.0 348.7L411.0 348.5L411.0 347.7L410.8 346.7L410.6 345.7L410.5 344.7L410.5 343.7L410.5 342.7L410.6 341.7L410.6 340.7L410.5 339.7L410.4 338.8L410.4 337.8L410.4 336.8L410.4 335.8L410.4 334.8L410.4 333.8L410.4 332.8L410.5 331.8L410.6 330.8L410.7 329.8L410.9 328.8L411.0 328.0L411.1 327.8L411.6 326.8L412.0 326.0L412.1 325.8L412.8 324.8L413.0 324.5L413.1 323.8L413.2 322.8L413.1 321.8L413.0 320.8L413.0 320.6L412.7 319.8L412.2 318.8L412.0 318.4L411.7 317.8L411.5 316.8L411.5 315.8L411.5 314.8L411.7 313.8L412.0 312.8L412.0 312.6L412.2 311.8L412.4 310.8L412.4 309.8L412.3 308.8L412.3 307.8L412.1 306.8L412.0 305.8L412.0 304.8L412.2 303.8L412.6 302.8L412.9 301.8L413.0 301.3L413.1 300.8L413.1 299.8L413.0 299.5L412.9 298.8L412.8 297.8L412.7 296.8L412.7 295.8L412.8 294.8L412.9 293.8L413.0 293.6L413.3 292.8L413.7 291.8L413.9 290.8L414.0 290.2L414.1 289.8L414.3 288.8L414.5 287.8L414.4 286.8L414.4 285.8L414.4 284.8L414.4 283.8L414.4 282.9L414.2 281.9L414.1 280.9L414.1 279.9L414.2 278.9L414.4 277.9L414.4 276.9L414.0 276.3L413.4 275.9L413.5 274.9L413.7 273.9L413.6 272.9L413.3 271.9L413.0 271.3L412.8 270.9L412.5 269.9L412.3 268.9L412.3 267.9L412.3 266.9L412.7 265.9L413.0 265.3L413.5 264.9L414.0 264.5L415.0 264.3L416.0 264.6L416.2 264.9L416.8 265.9L417.0 266.5L417.3 265.9L418.0 265.0L418.0 264.9L418.5 263.9L418.9 262.9L419.0 262.5L419.2 261.9L419.3 260.9L419.3 259.9L419.3 258.9L419.3 257.9L419.3 256.9L419.2 255.9L419.0 254.9L419.0 254.6L418.8 253.9L418.5 252.9L418.2 251.9L418.0 250.9L418.2 249.9L418.6 248.9L418.9 247.9L419.0 247.6L419.3 246.9L420.0 245.9L420.0 245.9L420.6 244.9L421.0 244.4L421.8 243.9L422.0 243.7L422.3 242.9L422.6 241.9L423.0 241.2L423.4 240.9L424.0 240.6L424.4 240.9L425.0 241.7L425.1 241.9L425.7 242.9L426.0 243.8L426.4 242.9L427.0 242.0L427.3 241.9L428.0 241.8L428.4 240.9L428.8 239.9ZM416.7 269.9L416.2 270.9L416.0 271.3L415.8 271.9L415.6 272.9L415.5 273.9L415.4 274.9L415.3 275.9L415.3 276.9L415.7 277.9L416.0 278.3L416.3 277.9L417.0 277.3L417.1 276.9L417.4 275.9L417.7 274.9L417.6 273.9L417.5 272.9L417.4 271.9L417.4 270.9L417.2 269.9L417.0 269.0ZM415.0 253.8L415.0 253.9L415.0 254.9L415.0 255.0L415.0 254.9L415.0 253.9ZM432.0 268.9L433.0 268.0L433.0 268.9L433.2 269.9L433.4 270.9L433.4 271.9L433.2 272.9L433.0 273.9L433.0 273.9L432.9 274.9L432.8 275.9L432.2 276.9L432.0 277.1L431.7 276.9L431.3 275.9L431.5 274.9L431.7 273.9L431.7 272.9L431.5 271.9L431.5 270.9L431.7 269.9L432.0 268.9ZM375.0 278.8L375.1 278.9L375.5 279.9L375.6 280.9L375.5 281.9L375.4 282.9L375.5 283.8L376.0 284.6L376.2 284.8L377.0 285.5L377.1 285.8L377.4 286.8L377.4 287.8L377.4 288.8L377.4 289.8L377.4 290.8L377.4 291.8L377.5 292.8L377.6 293.8L377.7 294.8L377.6 295.8L377.5 296.8L377.3 297.8L377.2 298.8L377.0 299.8L377.1 300.8L377.4 301.8L377.8 302.8L377.9 303.8L378.0 304.7L378.1 304.8L379.0 305.5L379.0 305.8L379.2 306.8L379.3 307.8L379.4 308.8L379.5 309.8L379.5 310.8L379.4 311.8L379.3 312.8L379.2 313.8L379.3 314.8L379.4 315.8L379.8 316.8L380.0 317.3L380.6 316.8L381.0 316.5L382.0 316.7L382.0 316.8L382.3 317.8L382.5 318.8L382.6 319.8L382.5 320.8L382.3 321.8L382.1 322.8L382.1 323.8L382.0 324.3L381.9 324.8L381.6 325.8L381.2 326.8L381.0 327.4L380.7 327.8L380.0 328.5L379.0 328.6L378.9 328.8L378.4 329.8L378.3 330.8L378.2 331.8L378.1 332.8L378.2 333.8L378.3 334.8L378.4 335.8L378.5 336.8L378.8 337.8L379.0 338.1L379.9 337.8L380.0 337.7L381.0 337.5L382.0 337.7L382.1 337.8L383.0 338.7L383.0 338.8L383.1 339.7L383.0 340.7L383.0 340.9L382.8 341.7L382.5 342.7L382.3 343.7L382.1 344.7L382.0 345.7L382.0 346.4L382.0 346.7L381.8 347.7L381.6 348.7L381.4 349.7L381.3 350.7L381.1 351.7L381.0 352.2L380.6 352.7L380.0 353.4L379.7 353.7L379.0 354.2L378.1 354.7L378.0 354.8L377.0 355.7L376.6 355.7L376.0 355.7L376.0 355.7L375.0 354.9L374.7 354.7L374.0 353.9L373.9 353.7L373.5 352.7L373.0 351.7L373.0 351.7L372.5 351.7L372.0 351.8L372.0 351.7L371.5 350.7L371.0 349.7L371.0 349.6L370.7 348.7L370.4 347.7L370.3 346.7L370.2 345.7L370.1 344.7L370.1 343.7L370.1 342.7L370.2 341.7L370.4 340.7L370.5 339.7L370.5 338.8L370.4 337.8L370.2 336.8L370.1 335.8L370.1 334.8L370.2 333.8L370.4 332.8L370.6 331.8L370.8 330.8L371.0 330.0L371.1 329.8L371.4 328.8L371.7 327.8L372.0 327.0L372.1 326.8L372.6 325.8L373.0 324.8L373.1 324.8L374.0 324.0L374.1 323.8L374.3 322.8L374.2 321.8L374.1 320.8L374.0 319.8L374.0 319.7L373.9 318.8L373.8 317.8L373.7 316.8L373.5 315.8L373.1 314.8L373.0 314.6L372.7 313.8L372.5 312.8L372.3 311.8L372.2 310.8L372.1 309.8L372.0 309.1L371.9 308.8L371.8 307.8L371.9 306.8L372.0 306.5L372.2 305.8L373.0 304.8L373.0 304.8L373.3 303.8L373.6 302.8L373.8 301.8L373.9 300.8L374.0 300.2L374.1 299.8L374.3 298.8L374.4 297.8L374.4 296.8L374.3 295.8L374.0 295.3L374.0 294.8L373.8 293.8L373.4 292.8L373.0 292.1L372.7 291.8L373.0 290.8L373.0 290.8L374.0 290.0L374.4 290.8L374.5 291.8L374.4 292.8L374.4 293.8L374.6 294.8L375.0 295.0L375.1 294.8L375.3 293.8L375.5 292.8L376.0 291.9L376.0 291.8L376.3 290.8L376.4 289.8L376.3 288.8L376.1 287.8L376.0 287.4L375.8 286.8L375.6 285.8L375.0 284.9L375.0 284.8L374.8 283.8L374.7 282.9L374.5 281.9L374.4 280.9L374.6 279.9L375.0 278.9ZM372.0 292.6L372.2 292.8L372.0 293.8L372.0 293.9L372.0 293.8L372.0 292.8Z" fill="#ffff00" fill-rule="evenodd" stroke="#000" stroke-width="0.55" stroke-opacity="0.85"/>
<path d="M423.0 268.1L423.3 268.9L423.6 269.9L423.8 270.9L423.9 271.9L423.9 272.9L423.9 273.9L423.8 274.9L423.7 275.9L423.6 276.9L423.5 277.9L423.3 278.9L423.2 279.9L423.0 280.9L423.0 281.1L422.9 280.9L422.7 279.9L422.5 278.9L422.2 277.9L422.0 277.1L422.0 276.9L421.8 275.9L421.8 274.9L421.7 273.9L421.6 272.9L421.7 271.9L421.9 270.9L422.0 270.7L422.3 269.9L422.8 268.9ZM424.0 286.1L424.9 286.8L425.0 287.0L425.2 287.8L425.3 288.8L425.4 289.8L425.4 290.8L425.4 291.8L425.3 292.8L425.3 293.8L425.5 294.8L425.5 295.8L425.7 296.8L425.8 297.8L426.0 298.4L426.3 297.8L426.9 296.8L427.0 296.6L427.2 295.8L427.4 294.8L427.7 293.8L428.0 293.0L428.5 292.8L429.0 292.4L429.0 292.8L429.2 293.8L429.3 294.8L429.5 295.8L429.8 296.8L430.0 297.5L430.4 297.8L431.0 298.4L431.1 298.8L431.2 299.8L431.1 300.8L431.0 301.1L430.4 301.8L430.0 302.1L429.1 302.8L429.0 302.9L428.2 303.8L428.0 304.5L427.1 304.8L427.0 304.9L426.9 305.8L426.9 306.8L426.9 307.8L427.0 308.1L427.2 307.8L427.7 306.8L428.0 306.5L428.1 306.8L428.5 307.8L429.0 308.3L429.6 307.8L430.0 307.6L430.3 307.8L431.0 308.3L431.3 308.8L431.7 309.8L431.9 310.8L431.9 311.8L432.0 312.6L432.0 312.8L432.1 313.8L432.3 314.8L432.3 315.8L432.3 316.8L432.3 317.8L432.1 318.8L432.0 319.8L432.0 319.9L431.8 320.8L431.5 321.8L431.3 322.8L431.2 323.8L431.2 324.8L431.0 325.8L431.0 326.1L430.0 326.6L429.5 325.8L429.2 324.8L429.1 323.8L429.1 322.8L429.0 322.0L429.0 321.8L428.8 320.8L428.6 319.8L428.4 318.8L428.1 317.8L428.0 317.6L427.7 316.8L427.4 315.8L427.0 314.9L426.8 315.8L426.4 316.8L426.0 317.5L425.9 317.8L425.7 318.8L425.6 319.8L425.5 320.8L425.4 321.8L425.3 322.8L425.3 323.8L425.3 324.8L425.3 325.8L425.4 326.8L425.6 327.8L425.8 328.8L426.0 329.3L427.0 328.9L427.2 328.8L428.0 327.8L429.0 328.3L430.0 328.5L431.0 328.0L431.3 328.8L432.0 329.5L432.3 329.8L433.0 330.4L433.2 330.8L433.3 331.8L433.3 332.8L433.1 333.8L433.0 334.8L433.0 334.9L432.9 335.8L432.6 336.8L432.3 337.8L432.1 338.8L432.4 339.7L433.0 340.2L433.8 340.7L434.0 340.9L434.2 341.7L434.4 342.7L434.7 343.7L435.0 344.7L435.0 344.9L435.2 345.7L435.3 346.7L435.4 347.7L435.3 348.7L435.1 349.7L435.0 349.9L434.5 350.7L434.0 351.3L433.7 351.7L433.1 352.7L433.0 352.9L432.8 352.7L432.0 351.9L431.6 351.7L431.0 351.5L430.9 351.7L430.4 352.7L430.0 353.5L429.5 353.7L429.0 353.9L428.6 353.7L428.0 353.5L427.6 353.7L427.0 354.1L426.0 354.3L425.0 354.0L424.0 354.7L424.0 354.7L423.3 355.7L423.0 356.0L422.0 356.2L421.0 355.8L420.4 355.7L420.0 355.6L419.0 355.1L418.1 354.7L418.0 354.7L417.9 354.7L417.0 355.2L416.0 355.1L415.8 354.7L415.3 353.7L415.0 352.8L415.0 352.7L414.8 351.7L414.8 350.7L414.8 349.7L414.7 348.7L414.5 347.7L414.2 346.7L414.0 346.0L413.9 345.7L413.7 344.7L413.6 343.7L413.5 342.7L413.4 341.7L413.4 340.7L413.8 339.7L414.0 339.6L415.0 339.2L416.0 338.8L416.0 338.8L416.2 337.8L416.3 336.8L416.4 335.8L416.4 334.8L416.4 333.8L416.4 332.8L416.4 331.8L416.4 330.8L416.4 329.8L416.4 328.8L416.4 327.8L416.3 326.8L416.2 325.8L416.1 324.8L416.0 324.4L415.7 323.8L415.4 322.8L415.2 321.8L415.0 320.8L415.0 320.7L414.9 319.8L414.8 318.8L414.6 317.8L414.4 316.8L414.1 315.8L414.0 315.1L414.0 314.8L414.0 313.8L414.0 313.8L414.5 312.8L415.0 311.8L415.0 311.7L415.0 311.8L415.6 312.8L416.0 313.2L417.0 313.1L417.2 312.8L417.9 311.8L418.0 311.4L418.1 311.8L418.6 312.8L418.8 313.8L419.0 314.6L419.1 314.8L419.7 315.8L420.0 316.5L420.2 316.8L420.2 317.8L420.0 318.8L420.0 319.1L420.0 319.8L420.0 319.9L420.2 320.8L420.5 321.8L420.8 322.8L421.0 323.1L421.2 322.8L421.5 321.8L421.6 320.8L421.6 319.8L421.4 318.8L421.2 317.8L421.1 316.8L421.1 315.8L421.2 314.8L421.3 313.8L421.5 312.8L421.5 311.8L421.4 310.8L421.3 309.8L421.2 308.8L421.2 307.8L421.2 306.8L421.2 305.8L421.2 304.8L421.2 303.8L421.2 302.8L421.3 301.8L421.4 300.8L421.4 299.8L421.4 298.8L421.4 297.8L421.4 296.8L421.4 295.8L421.4 294.8L421.7 293.8L422.0 293.5L423.0 293.0L423.1 292.8L423.1 291.8L423.0 290.8L423.0 290.8L423.0 290.4L423.0 289.8L423.1 288.8L423.4 287.8L423.6 286.8ZM417.0 302.7L418.0 302.6L418.6 302.8L419.0 303.3L419.1 303.8L419.2 304.8L419.2 305.8L419.3 306.8L419.2 307.8L419.0 308.5L418.8 308.8L418.0 309.7L417.7 308.8L417.3 307.8L417.0 306.9L416.9 306.8L416.0 306.1L415.3 306.8L415.0 307.6L414.5 306.8L414.3 305.8L414.8 304.8L415.0 304.6L415.7 303.8L416.0 303.3L416.8 302.8Z" fill="#ff8000" fill-rule="evenodd" stroke="#000" stroke-width="0.55" stroke-opacity="0.85"/>
<path d="M418.0 323.7L418.0 323.8L418.2 324.8L418.4 325.8L418.8 326.8L419.0 327.0L419.4 327.8L420.0 328.6L421.0 328.4L421.4 328.8L422.0 329.2L422.2 328.8L422.5 327.8L422.6 326.8L422.8 325.8L422.9 324.8L423.0 324.1L423.2 324.8L423.5 325.8L423.7 326.8L423.9 327.8L424.0 328.3L424.0 328.8L424.2 329.8L424.5 330.8L424.9 331.8L425.0 332.2L425.2 332.8L425.5 333.8L425.7 334.8L425.9 335.8L426.0 336.4L426.1 336.8L426.2 337.8L426.2 338.8L426.4 339.7L426.8 340.7L427.0 341.4L427.2 341.7L427.4 342.7L427.5 343.7L427.5 344.7L427.7 345.7L427.5 346.7L427.1 347.7L427.0 347.9L426.6 348.7L426.0 349.4L425.5 349.7L425.0 350.1L424.5 350.7L424.0 351.5L423.9 351.7L423.3 352.7L423.0 353.3L422.0 353.1L421.8 352.7L421.6 351.7L421.5 350.7L421.5 349.7L421.5 348.7L421.5 347.7L421.5 346.7L421.4 345.7L421.3 344.7L421.1 343.7L421.0 342.8L421.0 342.7L420.9 341.7L420.6 340.7L420.1 339.7L420.0 339.7L419.9 339.7L419.0 340.7L419.0 340.8L418.7 341.7L418.5 342.7L418.4 343.7L418.3 344.7L418.1 345.7L418.0 345.9L417.0 346.2L416.8 345.7L416.6 344.7L416.7 343.7L416.7 342.7L416.8 341.7L416.9 340.7L417.0 339.7L417.0 339.7L417.2 338.8L417.3 337.8L417.3 336.8L417.3 335.8L417.3 334.8L417.3 333.8L417.3 332.8L417.3 331.8L417.4 330.8L417.5 329.8L417.7 328.8L417.7 327.8L417.8 326.8L417.9 325.8L417.9 324.8L418.0 323.8ZM428.0 333.4L428.2 333.8L428.5 334.8L428.7 335.8L428.4 336.8L428.0 337.7L427.7 336.8L427.7 335.8L427.8 334.8L427.9 333.8ZM430.0 343.6L430.1 343.7L430.4 344.7L430.5 345.7L430.3 346.7L430.0 347.7L430.0 347.8L429.0 348.5L428.8 347.7L428.6 346.7L428.6 345.7L429.0 345.1L429.3 344.7L429.9 343.7Z" fill="#ff0000" fill-rule="evenodd" stroke="#000" stroke-width="0.55" stroke-opacity="0.85"/>
</g>
<line x1="377.1" y1="198.0" x2="377.1" y2="367.7" stroke="#111" stroke-width="1.1" stroke-dasharray="3.2,2.8"/>
<line x1="423.2" y1="198.0" x2="423.2" y2="367.7" stroke="#111" stroke-width="1.1" stroke-dasharray="3.2,2.8"/>
<rect x="400.1" y="318.1" width="48.9" height="47.1" fill="none" stroke="#c83c4a" stroke-width="1.3"/>
<rect x="310.0" y="198.0" width="175.0" height="169.7" fill="none" stroke="#000" stroke-width="0.9"/>
<path d="M310.0 367.7v3M339.2 367.7v2M368.3 367.7v3M397.5 367.7v2M426.7 367.7v3M455.8 367.7v2M485.0 367.7v3M310.0 367.7h-3M310.0 350.7h-2M310.0 333.8h-3M310.0 316.8h-2M310.0 299.8h-3M310.0 282.9h-2M310.0 265.9h-3M310.0 248.9h-2M310.0 231.9h-3M310.0 215.0h-2M310.0 198.0h-3" stroke="#000" stroke-width="1"/>
<text x="310.2" y="381.9" font-family="Liberation Sans, Arial, sans-serif" font-weight="bold" font-size="10.8" text-anchor="middle">360</text>
<text x="368.5" y="381.9" font-family="Liberation Sans, Arial, sans-serif" font-weight="bold" font-size="10.8" text-anchor="middle">380</text>
<text x="426.9" y="381.9" font-family="Liberation Sans, Arial, sans-serif" font-weight="bold" font-size="10.8" text-anchor="middle">400</text>
<text x="485.2" y="381.9" font-family="Liberation Sans, Arial, sans-serif" font-weight="bold" font-size="10.8" text-anchor="middle">420</text>
<text x="303" y="371.0" font-family="Liberation Sans, Arial, sans-serif" font-weight="bold" font-size="9.6" text-anchor="end">0</text>
<text x="303" y="337.1" font-family="Liberation Sans, Arial, sans-serif" font-weight="bold" font-size="9.6" text-anchor="end">2</text>
<text x="303" y="303.1" font-family="Liberation Sans, Arial, sans-serif" font-weight="bold" font-size="9.6" text-anchor="end">4</text>
<text x="303" y="269.2" font-family="Liberation Sans, Arial, sans-serif" font-weight="bold" font-size="9.6" text-anchor="end">6</text>
<text x="303" y="235.2" font-family="Liberation Sans, Arial, sans-serif" font-weight="bold" font-size="9.6" text-anchor="end">8</text>
<text x="303" y="201.3" font-family="Liberation Sans, Arial, sans-serif" font-weight="bold" font-size="9.6" text-anchor="end">10</text>
<text x="344.9" y="400.5" font-family="Liberation Sans, Arial, sans-serif" font-weight="bold" font-size="14" textLength="102.3" lengthAdjust="spacingAndGlyphs">Raman Shift (cm</text>
<text x="447.7" y="394.3" font-family="Liberation Sans, Arial, sans-serif" font-weight="bold" font-size="9">-1</text>
<text x="455.7" y="400.5" font-family="Liberation Sans, Arial, sans-serif" font-weight="bold" font-size="14">)</text>
<text transform="translate(285.3,352) rotate(-90)" font-family="Liberation Sans, Arial, sans-serif" font-weight="bold" font-size="14" textLength="124.5" lengthAdjust="spacingAndGlyphs">Scan Position (µm)</text>
<text x="271.5" y="204.2" font-family="Liberation Sans, Arial, sans-serif" font-weight="bold" font-size="13.5">(d)</text>
<rect x="488.4" y="210.1" width="11.9" height="12.1" fill="#ff0000"/>
<rect x="488.4" y="221.9" width="11.9" height="12.1" fill="#ff8000"/>
<rect x="488.4" y="233.7" width="11.9" height="12.1" fill="#ffff00"/>
<rect x="488.4" y="245.6" width="11.9" height="12.1" fill="#12f012"/>
<rect x="488.4" y="257.4" width="11.9" height="12.1" fill="#12f082"/>
<rect x="488.4" y="269.2" width="11.9" height="12.1" fill="#12ffff"/>
<rect x="488.4" y="281.0" width="11.9" height="12.1" fill="#1a7ff5"/>
<rect x="488.4" y="292.8" width="11.9" height="12.1" fill="#0000ff"/>
<rect x="488.4" y="304.7" width="11.9" height="12.1" fill="#000000"/>
<text x="504.2" y="213.9" font-family="Liberation Sans, Arial, sans-serif" font-weight="bold" font-size="8.8">780</text>
<text x="504.2" y="225.7" font-family="Liberation Sans, Arial, sans-serif" font-weight="bold" font-size="8.8">680</text>
<text x="504.2" y="237.5" font-family="Liberation Sans, Arial, sans-serif" font-weight="bold" font-size="8.8">580</text>
<text x="504.2" y="249.4" font-family="Liberation Sans, Arial, sans-serif" font-weight="bold" font-size="8.8">475</text>
<text x="504.2" y="261.2" font-family="Liberation Sans, Arial, sans-serif" font-weight="bold" font-size="8.8">370</text>
<text x="504.2" y="273.0" font-family="Liberation Sans, Arial, sans-serif" font-weight="bold" font-size="8.8">270</text>
<text x="504.2" y="284.8" font-family="Liberation Sans, Arial, sans-serif" font-weight="bold" font-size="8.8">160</text>
<text x="504.2" y="296.6" font-family="Liberation Sans, Arial, sans-serif" font-weight="bold" font-size="8.8">55</text>
<text x="504.2" y="308.5" font-family="Liberation Sans, Arial, sans-serif" font-weight="bold" font-size="8.8">0</text>
</g>
<g id="pe">
<rect x="38.5" y="453.5" width="194.25" height="155.80" fill="none" stroke="#555" stroke-width="1"/>
<path d="M38.5 609.3v-3M38.5 453.5v3M66.2 609.3v-2M66.2 453.5v2M94.0 609.3v-3M94.0 453.5v3M121.8 609.3v-2M121.8 453.5v2M149.5 609.3v-3M149.5 453.5v3M177.2 609.3v-2M177.2 453.5v2M205.0 609.3v-3M205.0 453.5v3M232.8 609.3v-2M232.8 453.5v2M38.5 609.3h3M232.75 609.3h-3M38.5 589.8h2M232.75 589.8h-2M38.5 570.3h3M232.75 570.3h-3M38.5 550.9h2M232.75 550.9h-2M38.5 531.4h3M232.75 531.4h-3M38.5 511.9h2M232.75 511.9h-2M38.5 492.4h3M232.75 492.4h-3M38.5 473.0h2M232.75 473.0h-2M38.5 453.5h3M232.75 453.5h-3" stroke="#555" stroke-width="0.8"/>
<polyline points="38.5,596.0 39.9,596.7 41.3,598.4 42.7,597.9 44.0,596.8 45.4,596.5 46.8,596.7 48.2,596.9 49.6,597.4 51.0,597.8 52.4,598.4 53.8,598.9 55.1,598.5 56.5,597.8 57.9,597.2 59.3,596.2 60.7,595.5 62.1,596.0 63.5,597.2 64.9,598.0 66.2,599.3 67.6,598.9 69.0,597.6 70.4,596.8 71.8,597.0 73.2,596.6 74.6,595.4 76.0,594.6 77.3,593.5 78.7,593.0 80.1,592.8 81.5,592.2 82.9,591.6 84.3,591.2 85.7,590.5 87.1,590.5 88.5,590.2 89.8,589.6 91.2,588.7 92.6,588.4 94.0,587.8 95.4,586.4 96.8,586.2 98.2,585.7 99.5,584.3 100.9,582.9 102.3,582.5 103.7,581.7 105.1,581.2 106.5,580.8 107.9,579.0 109.3,578.1 110.7,578.2 112.0,578.3 113.4,579.3 114.8,579.6 116.2,579.0 117.6,578.6 119.0,578.8 120.4,578.1 121.8,577.7 123.1,579.8 124.5,582.6 125.9,587.4 127.3,591.6 128.7,592.8 130.1,593.7 131.5,593.3 132.8,593.3 134.2,594.0 135.6,594.2 137.0,593.0 138.4,591.7 139.8,590.5 141.2,589.4 142.6,588.0 143.9,587.1 145.3,585.7 146.7,584.0 148.1,582.5 149.5,582.0 150.9,580.5 152.3,578.6 153.7,578.0 155.1,577.2 156.4,575.3 157.8,573.8 159.2,572.3 160.6,571.4 162.0,569.7 163.4,567.8 164.8,566.8 166.2,566.2 167.5,564.8 168.9,564.5 170.3,564.4 171.7,564.8 173.1,565.6 174.5,566.9 175.9,568.2 177.2,569.9 178.6,572.0 180.0,573.9 181.4,576.0 182.8,579.8 184.2,582.5 185.6,584.3 187.0,587.1 188.3,589.7 189.7,590.4 191.1,591.5 192.5,592.7 193.9,592.3 195.3,592.4 196.7,593.3 198.1,594.6 199.4,595.3 200.8,595.9 202.2,596.0 203.6,596.0 205.0,595.8 206.4,595.7 207.8,595.2 209.2,595.0 210.6,595.6 211.9,597.1 213.3,597.5 214.7,596.7 216.1,596.5 217.5,596.2 218.9,596.1 220.3,595.9 221.7,595.5 223.0,595.4 224.4,595.7 225.8,595.7 227.2,594.9 228.6,594.8 230.0,594.7 231.4,594.5 232.8,594.1" fill="none" stroke="#141414" stroke-width="1.25" stroke-linejoin="round"/>
<polyline points="38.5,579.7 39.9,579.6 41.3,578.8 42.7,577.7 44.0,577.3 45.4,578.2 46.8,579.2 48.2,579.4 49.6,578.6 51.0,578.2 52.4,579.0 53.8,579.7 55.1,578.8 56.5,577.1 57.9,577.3 59.3,577.8 60.7,577.1 62.1,576.6 63.5,575.9 64.9,575.2 66.2,574.5 67.6,574.2 69.0,574.9 70.4,575.6 71.8,575.3 73.2,574.8 74.6,575.0 76.0,574.1 77.3,573.3 78.7,573.0 80.1,572.9 81.5,572.3 82.9,572.0 84.3,572.2 85.7,572.4 87.1,571.9 88.5,571.6 89.8,570.9 91.2,569.8 92.6,568.9 94.0,567.4 95.4,567.2 96.8,567.8 98.2,567.0 99.5,566.3 100.9,565.2 102.3,564.6 103.7,564.5 105.1,563.2 106.5,561.5 107.9,559.8 109.3,558.6 110.7,556.7 112.0,555.5 113.4,554.3 114.8,552.7 116.2,550.8 117.6,550.9 119.0,551.6 120.4,553.6 121.8,556.1 123.1,558.8 124.5,561.8 125.9,563.4 127.3,564.7 128.7,566.9 130.1,568.2 131.5,569.1 132.8,569.7 134.2,569.3 135.6,568.1 137.0,566.7 138.4,565.7 139.8,564.2 141.2,562.3 142.6,561.4 143.9,560.1 145.3,557.7 146.7,554.7 148.1,553.1 149.5,552.0 150.9,550.6 152.3,549.0 153.7,548.3 155.1,547.2 156.4,545.4 157.8,544.7 159.2,543.7 160.6,542.8 162.0,542.1 163.4,540.9 164.8,539.6 166.2,539.6 167.5,539.8 168.9,539.5 170.3,539.8 171.7,541.2 173.1,543.1 174.5,545.6 175.9,548.9 177.2,552.3 178.6,555.1 180.0,557.0 181.4,559.0 182.8,560.4 184.2,561.3 185.6,563.7 187.0,566.0 188.3,566.4 189.7,568.1 191.1,569.9 192.5,570.6 193.9,571.6 195.3,572.6 196.7,573.3 198.1,573.5 199.4,573.0 200.8,572.7 202.2,573.2 203.6,572.9 205.0,572.9 206.4,574.1 207.8,574.2 209.2,574.5 210.6,575.2 211.9,575.2 213.3,574.5 214.7,574.5 216.1,575.1 217.5,575.1 218.9,575.0 220.3,575.2 221.7,575.4 223.0,575.7 224.4,575.7 225.8,575.6 227.2,576.4 228.6,577.3 230.0,577.9 231.4,579.0 232.8,579.4" fill="none" stroke="#e03434" stroke-width="1.25" stroke-linejoin="round"/>
<polyline points="38.5,558.9 39.9,558.4 41.3,557.8 42.7,558.8 44.0,560.1 45.4,559.9 46.8,559.6 48.2,559.6 49.6,559.8 51.0,559.0 52.4,558.1 53.8,557.8 55.1,558.3 56.5,559.1 57.9,559.6 59.3,559.1 60.7,560.0 62.1,559.5 63.5,559.4 64.9,559.5 66.2,559.1 67.6,558.4 69.0,557.5 70.4,556.9 71.8,556.6 73.2,557.4 74.6,557.1 76.0,556.6 77.3,556.3 78.7,556.8 80.1,556.1 81.5,555.5 82.9,555.3 84.3,554.2 85.7,553.5 87.1,552.8 88.5,552.5 89.8,552.9 91.2,552.3 92.6,550.6 94.0,548.7 95.4,547.7 96.8,547.4 98.2,546.8 99.5,545.8 100.9,544.7 102.3,543.3 103.7,541.4 105.1,539.5 106.5,539.1 107.9,538.2 109.3,537.0 110.7,536.3 112.0,535.1 113.4,533.5 114.8,532.5 116.2,533.1 117.6,533.3 119.0,534.3 120.4,535.3 121.8,537.2 123.1,539.6 124.5,542.1 125.9,544.6 127.3,546.9 128.7,548.8 130.1,549.9 131.5,550.3 132.8,551.4 134.2,550.6 135.6,548.3 137.0,547.9 138.4,547.1 139.8,544.5 141.2,542.9 142.6,541.4 143.9,540.3 145.3,538.9 146.7,537.7 148.1,536.0 149.5,533.4 150.9,530.6 152.3,527.8 153.7,525.8 155.1,525.3 156.4,524.1 157.8,523.2 159.2,522.4 160.6,521.9 162.0,521.2 163.4,520.1 164.8,519.1 166.2,518.0 167.5,518.0 168.9,518.5 170.3,519.9 171.7,521.3 173.1,522.8 174.5,525.0 175.9,527.4 177.2,529.6 178.6,531.7 180.0,533.5 181.4,535.9 182.8,538.5 184.2,540.9 185.6,543.5 187.0,545.8 188.3,548.2 189.7,549.4 191.1,551.0 192.5,552.1 193.9,552.8 195.3,553.8 196.7,554.5 198.1,554.4 199.4,555.1 200.8,556.0 202.2,556.2 203.6,556.5 205.0,555.8 206.4,556.1 207.8,556.0 209.2,555.0 210.6,555.2 211.9,556.4 213.3,556.7 214.7,556.4 216.1,556.6 217.5,557.5 218.9,557.7 220.3,557.4 221.7,557.7 223.0,557.9 224.4,558.4 225.8,559.4 227.2,560.2 228.6,560.5 230.0,559.2 231.4,558.3 232.8,559.2" fill="none" stroke="#2222dc" stroke-width="1.25" stroke-linejoin="round"/>
<polyline points="38.5,538.2 39.9,540.1 41.3,540.0 42.7,540.0 44.0,540.2 45.4,540.6 46.8,541.2 48.2,540.5 49.6,539.2 51.0,537.4 52.4,538.0 53.8,538.8 55.1,538.9 56.5,539.0 57.9,539.0 59.3,538.4 60.7,537.8 62.1,537.5 63.5,537.2 64.9,537.3 66.2,537.0 67.6,536.2 69.0,536.5 70.4,537.1 71.8,536.9 73.2,536.3 74.6,536.0 76.0,537.1 77.3,537.4 78.7,536.8 80.1,536.8 81.5,536.0 82.9,534.7 84.3,534.2 85.7,534.0 87.1,534.1 88.5,534.6 89.8,533.3 91.2,533.2 92.6,533.0 94.0,531.5 95.4,530.1 96.8,529.8 98.2,529.3 99.5,528.2 100.9,527.0 102.3,525.5 103.7,524.3 105.1,523.0 106.5,521.4 107.9,520.4 109.3,518.7 110.7,515.8 112.0,513.6 113.4,512.3 114.8,511.0 116.2,510.1 117.6,511.7 119.0,512.4 120.4,514.1 121.8,517.7 123.1,520.5 124.5,523.1 125.9,525.4 127.3,528.5 128.7,530.0 130.1,529.4 131.5,529.9 132.8,531.6 134.2,531.5 135.6,530.2 137.0,528.7 138.4,526.9 139.8,525.8 141.2,523.9 142.6,521.8 143.9,519.2 145.3,517.6 146.7,516.4 148.1,514.5 149.5,511.2 150.9,509.1 152.3,507.4 153.7,505.7 155.1,504.7 156.4,504.4 157.8,503.7 159.2,502.3 160.6,500.7 162.0,500.6 163.4,499.8 164.8,499.3 166.2,499.7 167.5,501.0 168.9,503.4 170.3,505.4 171.7,506.2 173.1,507.2 174.5,509.1 175.9,511.3 177.2,513.2 178.6,514.7 180.0,516.3 181.4,518.3 182.8,521.0 184.2,523.3 185.6,525.3 187.0,526.7 188.3,527.6 189.7,528.1 191.1,529.7 192.5,532.2 193.9,534.7 195.3,535.1 196.7,535.0 198.1,535.4 199.4,536.2 200.8,535.4 202.2,535.8 203.6,537.5 205.0,538.3 206.4,538.4 207.8,538.1 209.2,537.7 210.6,537.7 211.9,538.9 213.3,539.5 214.7,540.0 216.1,540.3 217.5,541.3 218.9,542.4 220.3,542.7 221.7,540.5 223.0,537.6 224.4,534.8 225.8,533.7 227.2,534.6 228.6,535.5 230.0,536.2 231.4,537.8 232.8,539.2" fill="none" stroke="#e23ae2" stroke-width="1.25" stroke-linejoin="round"/>
<polyline points="38.5,520.5 39.9,521.2 41.3,522.1 42.7,522.4 44.0,520.7 45.4,520.6 46.8,521.5 48.2,521.5 49.6,521.7 51.0,521.8 52.4,521.4 53.8,521.8 55.1,522.1 56.5,521.6 57.9,520.5 59.3,519.8 60.7,519.5 62.1,520.7 63.5,522.1 64.9,523.1 66.2,522.0 67.6,521.1 69.0,520.3 70.4,519.8 71.8,519.3 73.2,517.4 74.6,516.5 76.0,517.9 77.3,518.5 78.7,517.4 80.1,515.7 81.5,514.8 82.9,514.0 84.3,513.7 85.7,513.7 87.1,513.5 88.5,513.1 89.8,512.7 91.2,513.0 92.6,512.5 94.0,511.2 95.4,510.5 96.8,511.5 98.2,512.0 99.5,510.9 100.9,508.6 102.3,506.9 103.7,505.3 105.1,504.1 106.5,501.1 107.9,498.9 109.3,497.7 110.7,494.3 112.0,490.7 113.4,488.0 114.8,484.9 116.2,482.6 117.6,484.4 119.0,488.2 120.4,491.5 121.8,494.3 123.1,498.0 124.5,501.9 125.9,505.1 127.3,507.4 128.7,509.7 130.1,511.8 131.5,512.5 132.8,510.9 134.2,509.1 135.6,507.6 137.0,507.1 138.4,506.3 139.8,504.1 141.2,502.5 142.6,501.3 143.9,498.7 145.3,495.4 146.7,493.6 148.1,492.1 149.5,490.8 150.9,489.3 152.3,487.3 153.7,486.2 155.1,485.3 156.4,484.5 157.8,483.8 159.2,482.4 160.6,481.3 162.0,481.1 163.4,481.0 164.8,482.7 166.2,484.4 167.5,486.1 168.9,487.5 170.3,489.0 171.7,491.0 173.1,492.8 174.5,494.4 175.9,496.1 177.2,497.7 178.6,498.6 180.0,499.5 181.4,500.9 182.8,502.5 184.2,504.1 185.6,507.1 187.0,509.5 188.3,510.9 189.7,513.3 191.1,514.7 192.5,515.8 193.9,516.7 195.3,517.7 196.7,517.4 198.1,517.7 199.4,517.9 200.8,517.0 202.2,517.2 203.6,518.3 205.0,519.0 206.4,519.0 207.8,518.8 209.2,518.5 210.6,518.8 211.9,519.9 213.3,520.4 214.7,520.9 216.1,521.3 217.5,521.1 218.9,520.6 220.3,519.9 221.7,519.6 223.0,519.7 224.4,518.8 225.8,517.2 227.2,515.1 228.6,514.7 230.0,515.8 231.4,517.3 232.8,518.3" fill="none" stroke="#2a882a" stroke-width="1.25" stroke-linejoin="round"/>
<polyline points="38.5,502.3 39.9,502.0 41.3,502.5 42.7,502.9 44.0,501.8 45.4,501.6 46.8,501.8 48.2,501.2 49.6,500.7 51.0,500.6 52.4,500.5 53.8,500.3 55.1,500.7 56.5,500.9 57.9,500.7 59.3,500.4 60.7,500.7 62.1,501.3 63.5,501.7 64.9,501.2 66.2,500.5 67.6,499.8 69.0,498.6 70.4,499.2 71.8,501.3 73.2,501.2 74.6,499.6 76.0,498.8 77.3,498.1 78.7,496.7 80.1,495.7 81.5,496.4 82.9,495.5 84.3,493.4 85.7,493.0 87.1,493.2 88.5,493.7 89.8,493.9 91.2,493.4 92.6,493.7 94.0,494.9 95.4,495.0 96.8,494.1 98.2,493.1 99.5,491.6 100.9,490.1 102.3,489.1 103.7,487.9 105.1,485.9 106.5,484.3 107.9,483.3 109.3,481.1 110.7,477.8 112.0,474.8 113.4,471.5 114.8,468.6 116.2,465.9 117.6,467.7 119.0,470.8 120.4,473.0 121.8,475.8 123.1,479.4 124.5,483.5 125.9,486.4 127.3,488.3 128.7,490.4 130.1,491.2 131.5,492.2 132.8,493.7 134.2,492.3 135.6,490.6 137.0,490.4 138.4,488.9 139.8,486.2 141.2,484.0 142.6,482.1 143.9,481.2 145.3,480.0 146.7,477.6 148.1,475.1 149.5,472.6 150.9,471.2 152.3,470.6 153.7,468.5 155.1,465.4 156.4,463.6 157.8,462.8 159.2,462.0 160.6,460.9 162.0,460.3 163.4,460.5 164.8,461.5 166.2,462.6 167.5,464.0 168.9,465.7 170.3,468.5 171.7,469.9 173.1,471.6 174.5,473.9 175.9,475.1 177.2,476.6 178.6,477.8 180.0,479.7 181.4,481.7 182.8,484.0 184.2,487.5 185.6,491.2 187.0,492.8 188.3,492.9 189.7,494.7 191.1,496.5 192.5,496.8 193.9,496.9 195.3,496.7 196.7,497.0 198.1,497.6 199.4,497.9 200.8,497.9 202.2,498.2 203.6,497.5 205.0,497.6 206.4,500.1 207.8,501.2 209.2,499.4 210.6,498.6 211.9,500.9 213.3,502.0 214.7,501.8 216.1,502.5 217.5,502.7 218.9,502.0 220.3,501.3 221.7,501.0 223.0,500.5 224.4,500.4 225.8,500.4 227.2,499.9 228.6,499.6 230.0,499.2 231.4,499.4 232.8,499.5" fill="none" stroke="#1e1e7c" stroke-width="1.25" stroke-linejoin="round"/>
<line x1="116.5" y1="455" x2="117.6" y2="609.3" stroke="#222" stroke-width="1.1" stroke-dasharray="3,2.5"/>
<line x1="160.4" y1="458" x2="176.8" y2="609.3" stroke="#222" stroke-width="1.1" stroke-dasharray="3,2.5"/>
<text x="108.6" y="446.5" font-family="Liberation Sans, Arial, sans-serif" font-weight="bold" font-size="11.5" textLength="5.6" lengthAdjust="spacingAndGlyphs">E</text>
<text x="114.6" y="441.8" font-family="Liberation Sans, Arial, sans-serif" font-weight="bold" font-size="8">1</text>
<text x="118.3" y="450" font-family="Liberation Sans, Arial, sans-serif" font-weight="bold" font-size="8">2g</text>
<text x="154.3" y="446.5" font-family="Liberation Sans, Arial, sans-serif" font-weight="bold" font-size="11.5">A</text>
<text x="162" y="450" font-family="Liberation Sans, Arial, sans-serif" font-weight="bold" font-size="8">1g</text>
<text x="34.8" y="611.6" font-family="Liberation Sans, Arial, sans-serif" font-weight="bold" font-size="9.2" text-anchor="end">0</text>
<text x="34.8" y="572.6" font-family="Liberation Sans, Arial, sans-serif" font-weight="bold" font-size="9.2" text-anchor="end">100</text>
<text x="34.8" y="533.7" font-family="Liberation Sans, Arial, sans-serif" font-weight="bold" font-size="9.2" text-anchor="end">200</text>
<text x="34.8" y="494.8" font-family="Liberation Sans, Arial, sans-serif" font-weight="bold" font-size="9.2" text-anchor="end">300</text>
<text x="34.8" y="455.8" font-family="Liberation Sans, Arial, sans-serif" font-weight="bold" font-size="9.2" text-anchor="end">400</text>
<text x="38.5" y="620.3" font-family="Liberation Sans, Arial, sans-serif" font-weight="bold" font-size="9" text-anchor="middle">360</text>
<text x="94.0" y="620.3" font-family="Liberation Sans, Arial, sans-serif" font-weight="bold" font-size="9" text-anchor="middle">380</text>
<text x="149.5" y="620.3" font-family="Liberation Sans, Arial, sans-serif" font-weight="bold" font-size="9" text-anchor="middle">400</text>
<text x="205.0" y="620.3" font-family="Liberation Sans, Arial, sans-serif" font-weight="bold" font-size="9" text-anchor="middle">420</text>
<text x="82.8" y="636.2" font-family="Liberation Sans, Arial, sans-serif" font-weight="bold" font-size="12.8" textLength="90" lengthAdjust="spacingAndGlyphs">Raman Shift (cm</text>
<text x="173.8" y="630" font-family="Liberation Sans, Arial, sans-serif" font-weight="bold" font-size="10">-1</text>
<text x="184.4" y="636.2" font-family="Liberation Sans, Arial, sans-serif" font-weight="bold" font-size="12.8">)</text>
<text transform="translate(11.3,581) rotate(-90)" font-family="Liberation Sans, Arial, sans-serif" font-weight="bold" font-size="12.5" textLength="85" lengthAdjust="spacingAndGlyphs">Offset Intensity</text>
<text x="1" y="459" font-family="Liberation Sans, Arial, sans-serif" font-weight="bold" font-size="13.5">(e)</text>
</g>
<g id="pf">
<rect x="302.0" y="453.0" width="194.50" height="155.75" fill="none" stroke="#555" stroke-width="1"/>
<path d="M302.0 608.75v-3M302.0 453.0v3M334.4 608.75v-2M334.4 453.0v2M366.8 608.75v-3M366.8 453.0v3M399.2 608.75v-2M399.2 453.0v2M431.7 608.75v-3M431.7 453.0v3M464.1 608.75v-2M464.1 453.0v2M496.5 608.75v-3M496.5 453.0v3M302.0 608.8h3M496.5 608.8h-3M302.0 582.8h2M496.5 582.8h-2M302.0 556.8h3M496.5 556.8h-3M302.0 530.9h2M496.5 530.9h-2M302.0 504.9h3M496.5 504.9h-3M302.0 479.0h2M496.5 479.0h-2M302.0 453.0h3M496.5 453.0h-3" stroke="#555" stroke-width="0.8"/>
<polyline points="302.0,602.3 303.6,599.3 305.2,599.9 306.9,602.9 308.5,601.5 310.1,603.1 311.7,606.3 313.3,607.0 315.0,607.7 316.6,608.4 318.2,608.9 319.8,609.2 321.4,608.3 323.1,606.9 324.7,606.8 326.3,606.9 327.9,607.2 329.6,608.3 331.2,608.8 332.8,607.2 334.4,607.2 336.0,606.1 337.7,605.0 339.3,604.3 340.9,603.5 342.5,602.7 344.1,601.8 345.8,601.6 347.4,600.5 349.0,600.0 350.6,597.8 352.2,597.2 353.9,595.9 355.5,595.4 357.1,597.2 358.7,595.8 360.4,593.4 362.0,591.9 363.6,591.1 365.2,591.3 366.8,590.0 368.5,588.4 370.1,586.5 371.7,584.0 373.3,581.3 374.9,579.2 376.6,577.5 378.2,577.1 379.8,578.3 381.4,581.2 383.0,582.8 384.7,585.6 386.3,590.3 387.9,594.3 389.5,595.9 391.1,595.0 392.8,595.7 394.4,596.4 396.0,596.8 397.6,597.3 399.2,595.9 400.9,596.6 402.5,596.6 404.1,594.2 405.7,594.4 407.4,593.3 409.0,591.4 410.6,590.1 412.2,587.7 413.8,585.0 415.5,583.3 417.1,580.7 418.7,576.8 420.3,573.2 421.9,572.2 423.6,573.2 425.2,570.4 426.8,568.5 428.4,569.3 430.0,570.4 431.7,570.8 433.3,571.2 434.9,572.9 436.5,572.8 438.1,574.4 439.8,577.6 441.4,580.0 443.0,580.4 444.6,582.1 446.3,585.0 447.9,587.7 449.5,589.1 451.1,592.2 452.7,594.0 454.4,597.3 456.0,597.9 457.6,599.5 459.2,602.2 460.8,602.6 462.5,603.3 464.1,604.2 465.7,603.6 467.3,602.8 468.9,601.2 470.6,600.3 472.2,600.9 473.8,601.8 475.4,601.1 477.1,599.6 478.7,599.1 480.3,598.5 481.9,600.6 483.5,601.7 485.2,601.5 486.8,602.0 488.4,602.9 490.0,603.7 491.6,604.4 493.3,605.0 494.9,606.0 496.5,605.9" fill="none" stroke="#141414" stroke-width="1.25" stroke-linejoin="round"/>
<polyline points="302.0,578.7 303.6,578.3 305.2,577.9 306.9,578.7 308.5,579.1 310.1,579.8 311.7,581.1 313.3,580.8 315.0,580.7 316.6,579.2 318.2,579.6 319.8,580.6 321.4,580.2 323.1,579.5 324.7,578.7 326.3,577.7 327.9,577.4 329.6,576.9 331.2,577.5 332.8,579.2 334.4,580.8 336.0,580.7 337.7,579.0 339.3,577.7 340.9,576.9 342.5,577.3 344.1,577.0 345.8,576.8 347.4,576.8 349.0,576.4 350.6,574.3 352.2,573.5 353.9,572.4 355.5,571.1 357.1,570.8 358.7,570.4 360.4,568.1 362.0,567.3 363.6,567.6 365.2,568.5 366.8,569.2 368.5,568.4 370.1,565.4 371.7,563.1 373.3,560.9 374.9,557.9 376.6,555.7 378.2,553.5 379.8,555.0 381.4,557.0 383.0,558.3 384.7,560.7 386.3,563.6 387.9,564.0 389.5,564.6 391.1,565.9 392.8,568.2 394.4,571.3 396.0,572.8 397.6,573.8 399.2,573.3 400.9,571.8 402.5,569.6 404.1,568.5 405.7,567.7 407.4,565.0 409.0,562.7 410.6,562.3 412.2,562.2 413.8,560.1 415.5,558.0 417.1,556.4 418.7,553.9 420.3,551.4 421.9,548.0 423.6,547.9 425.2,549.4 426.8,550.6 428.4,550.1 430.0,550.3 431.7,550.1 433.3,550.8 434.9,553.5 436.5,555.5 438.1,555.0 439.8,555.0 441.4,556.4 443.0,558.2 444.6,559.6 446.3,561.7 447.9,561.9 449.5,563.7 451.1,567.2 452.7,569.9 454.4,572.6 456.0,573.3 457.6,573.3 459.2,574.4 460.8,574.5 462.5,574.7 464.1,575.2 465.7,574.7 467.3,574.5 468.9,575.7 470.6,575.9 472.2,576.2 473.8,578.0 475.4,579.7 477.1,580.2 478.7,575.9 480.3,572.3 481.9,574.2 483.5,575.7 485.2,576.1 486.8,577.5 488.4,579.0 490.0,579.8 491.6,579.4 493.3,579.2 494.9,579.8 496.5,580.5" fill="none" stroke="#e03434" stroke-width="1.25" stroke-linejoin="round"/>
<polyline points="302.0,552.9 303.6,554.7 305.2,556.4 306.9,557.2 308.5,554.8 310.1,552.8 311.7,553.3 313.3,553.0 315.0,552.8 316.6,552.9 318.2,551.4 319.8,552.7 321.4,551.7 323.1,549.8 324.7,551.4 326.3,552.5 327.9,552.6 329.6,552.9 331.2,554.1 332.8,552.4 334.4,549.8 336.0,550.3 337.7,551.0 339.3,550.4 340.9,549.7 342.5,549.3 344.1,549.4 345.8,550.1 347.4,548.7 349.0,547.8 350.6,546.6 352.2,546.7 353.9,547.2 355.5,546.5 357.1,545.6 358.7,543.8 360.4,543.0 362.0,542.7 363.6,542.6 365.2,540.8 366.8,540.2 368.5,538.9 370.1,538.4 371.7,538.8 373.3,537.4 374.9,535.9 376.6,532.7 378.2,528.5 379.8,530.0 381.4,532.5 383.0,536.7 384.7,538.7 386.3,540.3 387.9,541.8 389.5,544.2 391.1,544.5 392.8,545.5 394.4,547.9 396.0,548.2 397.6,547.7 399.2,548.5 400.9,547.8 402.5,545.4 404.1,544.4 405.7,544.1 407.4,543.4 409.0,543.0 410.6,541.7 412.2,539.7 413.8,536.8 415.5,534.7 417.1,534.4 418.7,533.4 420.3,532.3 421.9,531.2 423.6,528.7 425.2,527.0 426.8,526.6 428.4,525.1 430.0,525.8 431.7,525.4 433.3,526.2 434.9,530.4 436.5,534.0 438.1,535.4 439.8,537.5 441.4,538.6 443.0,538.1 444.6,537.9 446.3,540.0 447.9,542.7 449.5,545.2 451.1,546.1 452.7,546.7 454.4,546.5 456.0,547.6 457.6,548.6 459.2,548.9 460.8,548.9 462.5,548.4 464.1,549.2 465.7,550.4 467.3,550.5 468.9,549.6 470.6,549.2 472.2,549.7 473.8,550.0 475.4,551.6 477.1,552.7 478.7,550.7 480.3,547.6 481.9,550.6 483.5,552.8 485.2,551.8 486.8,552.7 488.4,553.0 490.0,552.1 491.6,552.2 493.3,552.2 494.9,552.8 496.5,552.4" fill="none" stroke="#2222dc" stroke-width="1.25" stroke-linejoin="round"/>
<polyline points="302.0,527.9 303.6,531.0 305.2,529.3 306.9,527.8 308.5,527.0 310.1,527.1 311.7,527.1 313.3,528.8 315.0,530.0 316.6,528.9 318.2,528.5 319.8,528.9 321.4,528.3 323.1,527.7 324.7,528.2 326.3,529.4 327.9,530.0 329.6,529.5 331.2,526.9 332.8,526.3 334.4,525.5 336.0,524.8 337.7,523.5 339.3,523.6 340.9,524.3 342.5,524.0 344.1,524.4 345.8,523.7 347.4,524.0 349.0,522.2 350.6,520.3 352.2,520.6 353.9,521.3 355.5,521.3 357.1,519.9 358.7,517.8 360.4,517.4 362.0,518.6 363.6,518.8 365.2,517.5 366.8,517.6 368.5,516.7 370.1,515.0 371.7,512.8 373.3,511.6 374.9,510.7 376.6,510.3 378.2,509.9 379.8,508.2 381.4,508.5 383.0,510.5 384.7,512.0 386.3,514.5 387.9,516.3 389.5,518.6 391.1,519.2 392.8,519.6 394.4,519.9 396.0,521.9 397.6,523.4 399.2,523.1 400.9,522.0 402.5,522.2 404.1,521.1 405.7,518.4 407.4,516.7 409.0,517.5 410.6,518.9 412.2,517.2 413.8,515.1 415.5,513.2 417.1,509.8 418.7,506.5 420.3,506.3 421.9,505.5 423.6,503.7 425.2,502.9 426.8,502.7 428.4,503.3 430.0,502.9 431.7,503.5 433.3,506.8 434.9,507.5 436.5,506.1 438.1,507.0 439.8,509.9 441.4,512.1 443.0,513.1 444.6,514.5 446.3,514.3 447.9,513.6 449.5,514.7 451.1,515.8 452.7,517.5 454.4,518.1 456.0,518.7 457.6,521.2 459.2,521.9 460.8,521.7 462.5,521.2 464.1,520.7 465.7,522.7 467.3,525.5 468.9,526.2 470.6,526.9 472.2,525.7 473.8,523.8 475.4,524.9 477.1,525.0 478.7,521.5 480.3,517.3 481.9,520.4 483.5,524.1 485.2,524.4 486.8,524.5 488.4,526.3 490.0,527.4 491.6,526.9 493.3,525.5 494.9,526.7 496.5,528.4" fill="none" stroke="#e23ae2" stroke-width="1.25" stroke-linejoin="round"/>
<polyline points="302.0,496.9 303.6,497.4 305.2,495.4 306.9,495.9 308.5,500.2 310.1,503.6 311.7,505.4 313.3,505.3 315.0,503.7 316.6,502.4 318.2,502.5 319.8,503.3 321.4,504.5 323.1,503.7 324.7,502.4 326.3,500.2 327.9,499.7 329.6,500.7 331.2,501.8 332.8,502.0 334.4,502.5 336.0,503.1 337.7,503.1 339.3,502.6 340.9,502.2 342.5,501.5 344.1,500.6 345.8,499.8 347.4,498.8 349.0,498.9 350.6,497.6 352.2,497.5 353.9,497.7 355.5,497.4 357.1,496.0 358.7,494.6 360.4,493.8 362.0,493.2 363.6,491.3 365.2,488.9 366.8,488.9 368.5,488.7 370.1,487.1 371.7,486.4 373.3,485.4 374.9,484.9 376.6,485.8 378.2,486.4 379.8,485.9 381.4,485.4 383.0,486.2 384.7,488.0 386.3,490.2 387.9,493.0 389.5,494.1 391.1,493.5 392.8,494.0 394.4,494.4 396.0,494.3 397.6,494.3 399.2,495.5 400.9,495.5 402.5,494.9 404.1,495.6 405.7,495.6 407.4,493.8 409.0,491.3 410.6,490.0 412.2,490.6 413.8,489.5 415.5,486.6 417.1,483.9 418.7,481.6 420.3,479.0 421.9,477.7 423.6,478.0 425.2,478.6 426.8,479.9 428.4,480.2 430.0,478.8 431.7,477.9 433.3,478.6 434.9,479.6 436.5,480.6 438.1,482.6 439.8,485.7 441.4,486.4 443.0,486.0 444.6,487.3 446.3,489.4 447.9,489.6 449.5,491.1 451.1,492.5 452.7,493.1 454.4,494.5 456.0,495.8 457.6,495.3 459.2,496.0 460.8,497.5 462.5,498.4 464.1,499.6 465.7,498.7 467.3,497.7 468.9,498.1 470.6,498.1 472.2,497.5 473.8,496.6 475.4,495.8 477.1,496.2 478.7,495.0 480.3,492.3 481.9,493.1 483.5,496.3 485.2,498.0 486.8,499.2 488.4,498.0 490.0,497.8 491.6,498.4 493.3,500.3 494.9,501.4 496.5,500.4" fill="none" stroke="#2a882a" stroke-width="1.25" stroke-linejoin="round"/>
<polyline points="302.0,473.4 303.6,473.3 305.2,469.1 306.9,473.3 308.5,476.5 310.1,478.3 311.7,477.4 313.3,477.1 315.0,477.4 316.6,478.3 318.2,476.5 319.8,476.4 321.4,476.6 323.1,476.7 324.7,476.3 326.3,474.9 327.9,474.3 329.6,475.9 331.2,476.8 332.8,476.2 334.4,477.3 336.0,477.7 337.7,476.4 339.3,477.1 340.9,477.6 342.5,476.0 344.1,474.5 345.8,474.7 347.4,474.0 349.0,471.7 350.6,470.2 352.2,470.9 353.9,471.0 355.5,469.3 357.1,468.2 358.7,468.4 360.4,467.5 362.0,467.0 363.6,467.9 365.2,467.5 366.8,465.4 368.5,463.5 370.1,462.5 371.7,463.2 373.3,462.6 374.9,462.1 376.6,462.8 378.2,461.5 379.8,461.2 381.4,462.1 383.0,461.6 384.7,462.5 386.3,465.4 387.9,468.1 389.5,471.1 391.1,472.6 392.8,471.6 394.4,471.9 396.0,473.4 397.6,472.5 399.2,471.3 400.9,470.3 402.5,470.2 404.1,469.6 405.7,469.1 407.4,469.0 409.0,467.3 410.6,465.8 412.2,464.4 413.8,463.1 415.5,460.5 417.1,459.1 418.7,458.2 420.3,455.9 421.9,454.8 423.6,456.7 425.2,459.3 426.8,457.5 428.4,454.3 430.0,453.3 431.7,454.2 433.3,454.1 434.9,455.6 436.5,455.7 438.1,456.8 439.8,460.2 441.4,461.9 443.0,462.7 444.6,461.9 446.3,461.2 447.9,463.5 449.5,468.3 451.1,469.0 452.7,467.5 454.4,467.2 456.0,469.5 457.6,471.8 459.2,472.0 460.8,472.3 462.5,473.1 464.1,473.5 465.7,472.9 467.3,473.0 468.9,474.0 470.6,475.2 472.2,476.2 473.8,474.8 475.4,473.1 477.1,473.9 478.7,471.5 480.3,466.4 481.9,467.8 483.5,470.2 485.2,472.4 486.8,474.6 488.4,474.7 490.0,471.7 491.6,470.8 493.3,473.9 494.9,475.0 496.5,473.8" fill="none" stroke="#1e1e7c" stroke-width="1.25" stroke-linejoin="round"/>
<line x1="380.5" y1="455" x2="380.5" y2="608.75" stroke="#222" stroke-width="1.1" stroke-dasharray="3,2.5"/>
<line x1="429.7" y1="455" x2="429.7" y2="608.75" stroke="#222" stroke-width="1.1" stroke-dasharray="3,2.5"/>
<text x="373.4" y="445.8" font-family="Liberation Sans, Arial, sans-serif" font-weight="bold" font-size="11.5" textLength="5.6" lengthAdjust="spacingAndGlyphs">E</text>
<text x="379.4" y="441.2" font-family="Liberation Sans, Arial, sans-serif" font-weight="bold" font-size="8">1</text>
<text x="383" y="449.6" font-family="Liberation Sans, Arial, sans-serif" font-weight="bold" font-size="8">2g</text>
<text x="421.8" y="445.8" font-family="Liberation Sans, Arial, sans-serif" font-weight="bold" font-size="11.5">A</text>
<text x="429.4" y="449.6" font-family="Liberation Sans, Arial, sans-serif" font-weight="bold" font-size="8">1g</text>
<text x="298.5" y="612.0" font-family="Liberation Sans, Arial, sans-serif" font-weight="bold" font-size="9" text-anchor="end">0</text>
<text x="298.5" y="560.1" font-family="Liberation Sans, Arial, sans-serif" font-weight="bold" font-size="9" text-anchor="end">1000</text>
<text x="298.5" y="508.2" font-family="Liberation Sans, Arial, sans-serif" font-weight="bold" font-size="9" text-anchor="end">2000</text>
<text x="298.5" y="456.3" font-family="Liberation Sans, Arial, sans-serif" font-weight="bold" font-size="9" text-anchor="end">3000</text>
<text x="302.0" y="620.5" font-family="Liberation Sans, Arial, sans-serif" font-weight="bold" font-size="9.5" text-anchor="middle">360</text>
<text x="366.8" y="620.5" font-family="Liberation Sans, Arial, sans-serif" font-weight="bold" font-size="9.5" text-anchor="middle">380</text>
<text x="431.7" y="620.5" font-family="Liberation Sans, Arial, sans-serif" font-weight="bold" font-size="9.5" text-anchor="middle">400</text>
<text x="496.5" y="620.5" font-family="Liberation Sans, Arial, sans-serif" font-weight="bold" font-size="9.5" text-anchor="middle">420</text>
<text x="349.2" y="635.8" font-family="Liberation Sans, Arial, sans-serif" font-weight="bold" font-size="12.5" textLength="88" lengthAdjust="spacingAndGlyphs">Raman Shift (cm</text>
<text x="438.5" y="629.8" font-family="Liberation Sans, Arial, sans-serif" font-weight="bold" font-size="8.5">-1</text>
<text x="446.5" y="635.8" font-family="Liberation Sans, Arial, sans-serif" font-weight="bold" font-size="12.5">)</text>
<text transform="translate(273,582) rotate(-90)" font-family="Liberation Sans, Arial, sans-serif" font-weight="bold" font-size="12.5" textLength="86" lengthAdjust="spacingAndGlyphs">Offset Intensity</text>
<text x="260.3" y="461" font-family="Liberation Sans, Arial, sans-serif" font-weight="bold" font-size="14">(f)</text>
</g>
</svg>
</body></html>
